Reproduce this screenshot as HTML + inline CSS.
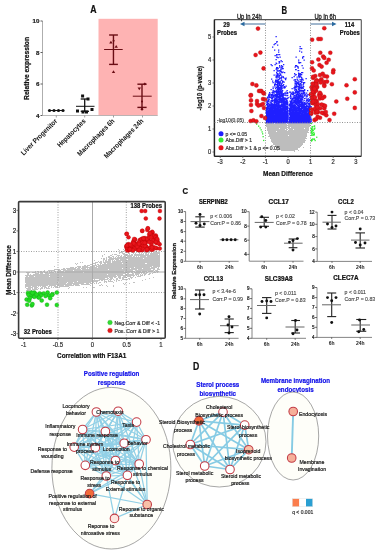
<!DOCTYPE html>
<html><head><meta charset="utf-8"><style>
html,body{margin:0;padding:0;background:#fff;}
svg{display:block;will-change:transform;}
text{font-family:"Liberation Sans", sans-serif;}
</style></head><body>
<svg width="380" height="550" viewBox="0 0 380 550">
<rect width="380" height="550" fill="#fff"/>
<text x="93.45" y="12.60" font-size="10.00" text-anchor="middle" font-weight="bold" fill="#111" stroke="#111" stroke-width="0.22" textLength="6.30" lengthAdjust="spacingAndGlyphs" >A</text>
<rect x="98.5" y="18.8" width="59.2" height="96.7" fill="#feb3b3"/>
<line x1="42.50" y1="21.00" x2="42.50" y2="115.50" stroke="#999" stroke-width="0.8" />
<line x1="40.50" y1="21.00" x2="42.50" y2="21.00" stroke="#333" stroke-width="0.8" />
<text x="39.50" y="23.23" font-size="6.20" text-anchor="end" font-weight="bold" fill="#222" stroke="#222" stroke-width="0.22" >10</text>
<line x1="40.50" y1="52.50" x2="42.50" y2="52.50" stroke="#333" stroke-width="0.8" />
<text x="39.50" y="54.73" font-size="6.20" text-anchor="end" font-weight="bold" fill="#222" stroke="#222" stroke-width="0.22" >8</text>
<line x1="40.50" y1="84.00" x2="42.50" y2="84.00" stroke="#333" stroke-width="0.8" />
<text x="39.50" y="86.23" font-size="6.20" text-anchor="end" font-weight="bold" fill="#222" stroke="#222" stroke-width="0.22" >6</text>
<line x1="40.50" y1="115.50" x2="42.50" y2="115.50" stroke="#333" stroke-width="0.8" />
<text x="39.50" y="117.73" font-size="6.20" text-anchor="end" font-weight="bold" fill="#222" stroke="#222" stroke-width="0.22" >4</text>
<text x="26.30" y="71.15" font-size="7.37" text-anchor="middle" font-weight="bold" fill="#111" stroke="#111" stroke-width="0.22" textLength="62.94" lengthAdjust="spacingAndGlyphs" transform="rotate(-90 26.3 68.5)">Relative expression</text>
<line x1="42.50" y1="115.50" x2="157.70" y2="115.50" stroke="#aaa" stroke-width="0.8" />
<line x1="56.30" y1="115.50" x2="56.30" y2="117.50" stroke="#888" stroke-width="0.8" />
<line x1="84.70" y1="115.50" x2="84.70" y2="117.50" stroke="#888" stroke-width="0.8" />
<line x1="113.50" y1="115.50" x2="113.50" y2="117.50" stroke="#888" stroke-width="0.8" />
<line x1="142.50" y1="115.50" x2="142.50" y2="117.50" stroke="#888" stroke-width="0.8" />
<text x="57.80" y="121.50" font-size="7.1" text-anchor="end" font-weight="bold" fill="#111" textLength="48.27" lengthAdjust="spacingAndGlyphs" transform="rotate(-45 57.80 121.50)">Liver Progenitor</text>
<text x="86.20" y="121.50" font-size="7.1" text-anchor="end" font-weight="bold" fill="#111" textLength="37.17" lengthAdjust="spacingAndGlyphs" transform="rotate(-45 86.20 121.50)">Hepatocytes</text>
<text x="115.00" y="121.50" font-size="7.1" text-anchor="end" font-weight="bold" fill="#111" textLength="49.32" lengthAdjust="spacingAndGlyphs" transform="rotate(-45 115.00 121.50)">Macrophages 6h</text>
<text x="144.00" y="121.50" font-size="7.1" text-anchor="end" font-weight="bold" fill="#111" textLength="52.80" lengthAdjust="spacingAndGlyphs" transform="rotate(-45 144.00 121.50)">Macrophages 24h</text>
<line x1="49.00" y1="110.50" x2="64.00" y2="110.50" stroke="#111" stroke-width="1" />
<circle cx="49.50" cy="110.50" r="1.6" fill="#111" stroke="none" stroke-width="0"/>
<circle cx="54.00" cy="110.50" r="1.6" fill="#111" stroke="none" stroke-width="0"/>
<circle cx="58.50" cy="110.50" r="1.6" fill="#111" stroke="none" stroke-width="0"/>
<circle cx="63.00" cy="110.50" r="1.6" fill="#111" stroke="none" stroke-width="0"/>
<line x1="76.00" y1="106.30" x2="94.50" y2="106.30" stroke="#111" stroke-width="1" />
<line x1="84.70" y1="99.00" x2="84.70" y2="111.30" stroke="#111" stroke-width="1.3" />
<line x1="80.70" y1="99.00" x2="89.00" y2="99.00" stroke="#111" stroke-width="1.3" />
<line x1="80.70" y1="111.30" x2="89.00" y2="111.30" stroke="#111" stroke-width="1.3" />
<rect x="81.10" y="94.50" width="3" height="3" fill="#111"/>
<rect x="86.50" y="97.50" width="3" height="3" fill="#111"/>
<rect x="76.00" y="109.50" width="3" height="3" fill="#111"/>
<rect x="90.50" y="108.00" width="3" height="3" fill="#111"/>
<rect x="81.50" y="110.50" width="3" height="3" fill="#111"/>
<rect x="85.00" y="110.50" width="3" height="3" fill="#111"/>
<line x1="113.45" y1="35.00" x2="113.45" y2="64.40" stroke="#6a0d14" stroke-width="1.4" />
<line x1="109.10" y1="35.00" x2="117.90" y2="35.00" stroke="#6a0d14" stroke-width="1.4" />
<line x1="109.10" y1="64.40" x2="117.90" y2="64.40" stroke="#6a0d14" stroke-width="1.4" />
<line x1="104.10" y1="49.50" x2="122.70" y2="49.50" stroke="#6a0d14" stroke-width="1.0" />
<path d="M109.20 43.49L112.60 43.49L110.90 40.77Z" fill="#6a0d14"/>
<path d="M114.50 47.69L117.90 47.69L116.20 44.97Z" fill="#6a0d14"/>
<path d="M111.80 72.99L115.20 72.99L113.50 70.27Z" fill="#6a0d14"/>
<circle cx="113.60" cy="40.80" r="1.0" fill="#6a0d14" stroke="none" stroke-width="0"/>
<line x1="142.00" y1="84.20" x2="142.00" y2="109.50" stroke="#6a0d14" stroke-width="1.4" />
<line x1="137.40" y1="84.20" x2="146.60" y2="84.20" stroke="#6a0d14" stroke-width="1.4" />
<line x1="137.40" y1="107.40" x2="146.60" y2="107.40" stroke="#6a0d14" stroke-width="1.4" />
<line x1="132.80" y1="96.20" x2="151.70" y2="96.20" stroke="#6a0d14" stroke-width="1.0" />
<path d="M137.60 87.41L141.00 87.41L139.30 90.13Z" fill="#6a0d14"/>
<path d="M144.8 82.4L146.3 83.9L144.8 85.4L143.3 83.9Z" fill="#6a0d14"/>
<circle cx="142.00" cy="101.50" r="1.0" fill="#6a0d14" stroke="none" stroke-width="0"/>
<circle cx="142.00" cy="109.30" r="1.2" fill="#6a0d14" stroke="none" stroke-width="0"/>
<text x="284.35" y="13.90" font-size="10.40" text-anchor="middle" font-weight="bold" fill="#111" stroke="#111" stroke-width="0.22" textLength="5.60" lengthAdjust="spacingAndGlyphs" >B</text>
<path d="M265 122h5v1h-5zM271 122h39v1h-39zM265 123h9v1h-9zM275 123h11v1h-11zM287 123h24v1h-24zM266 124h21v1h-21zM288 124h22v1h-22zM266 125h44v1h-44zM266 126h21v1h-21zM288 126h22v1h-22zM267 127h23v1h-23zM291 127h18v1h-18zM267 128h12v1h-12zM280 128h7v1h-7zM288 128h16v1h-16zM305 128h4v1h-4zM267 129h18v1h-18zM286 129h2v1h-2zM289 129h4v1h-4zM294 129h15v1h-15zM267 130h20v1h-20zM288 130h21v1h-21zM268 131h8v1h-8zM277 131h31v1h-31zM268 132h41v1h-41zM268 133h39v1h-39zM269 134h38v1h-38zM269 135h19v1h-19zM289 135h18v1h-18zM268 136h39v1h-39zM270 137h36v1h-36zM270 138h37v1h-37zM271 139h34v1h-34zM271 140h35v1h-35zM271 141h34v1h-34zM272 142h33v1h-33zM273 143h30v1h-30zM273 144h30v1h-30zM271 145h2v1h-2zM275 145h27v1h-27zM273 146h1v1h-1zM275 146h26v1h-26zM276 147h24v1h-24zM303 147h1v1h-1zM277 148h21v1h-21zM276 149h1v1h-1zM279 149h19v1h-19zM277 150h1v1h-1zM281 150h14v1h-14zM298 150h1v1h-1zM274 151h1v1h-1zM294 151h1v1h-1z" fill="#bdbdbd"/>
<path d="" fill="#1f1fff"/>
<path d="M265.5 107h1.3v1.3h-1.3zM265.5 110.5h1.3v1.3h-1.3zM265.5 112h1.3v1.3h-1.3zM265.5 112.5h1.3v1.3h-1.3zM265.5 115.5h1.3v1.3h-1.3zM265.5 116h1.3v1.3h-1.3zM265.5 117h1.3v1.3h-1.3zM265.5 117.5h1.3v1.3h-1.3zM265.5 118h1.3v1.3h-1.3zM265.5 118.5h1.3v1.3h-1.3zM265.5 119h1.3v1.3h-1.3zM265.5 120h1.3v1.3h-1.3zM266 101.5h1.3v1.3h-1.3zM266 104h1.3v1.3h-1.3zM266 107h1.3v1.3h-1.3zM266 107.5h1.3v1.3h-1.3zM266 108h1.3v1.3h-1.3zM266 108.5h1.3v1.3h-1.3zM266 109h1.3v1.3h-1.3zM266 109.5h1.3v1.3h-1.3zM266 111h1.3v1.3h-1.3zM266 112.5h1.3v1.3h-1.3zM266 113.5h1.3v1.3h-1.3zM266 114h1.3v1.3h-1.3zM266 115h1.3v1.3h-1.3zM266 116h1.3v1.3h-1.3zM266 116.5h1.3v1.3h-1.3zM266 117.5h1.3v1.3h-1.3zM266 118h1.3v1.3h-1.3zM266 119h1.3v1.3h-1.3zM266 119.5h1.3v1.3h-1.3zM266 120h1.3v1.3h-1.3zM266 120.5h1.3v1.3h-1.3zM266 121h1.3v1.3h-1.3zM266 121.5h1.3v1.3h-1.3zM266 122h1.3v1.3h-1.3zM266.5 97.5h1.3v1.3h-1.3zM266.5 99.5h1.3v1.3h-1.3zM266.5 101h1.3v1.3h-1.3zM266.5 103h1.3v1.3h-1.3zM266.5 103.5h1.3v1.3h-1.3zM266.5 104h1.3v1.3h-1.3zM266.5 104.5h1.3v1.3h-1.3zM266.5 106.5h1.3v1.3h-1.3zM266.5 108h1.3v1.3h-1.3zM266.5 110.5h1.3v1.3h-1.3zM266.5 111h1.3v1.3h-1.3zM266.5 112h1.3v1.3h-1.3zM266.5 112.5h1.3v1.3h-1.3zM266.5 113h1.3v1.3h-1.3zM266.5 113.5h1.3v1.3h-1.3zM266.5 114h1.3v1.3h-1.3zM266.5 114.5h1.3v1.3h-1.3zM266.5 115h1.3v1.3h-1.3zM266.5 115.5h1.3v1.3h-1.3zM266.5 116h1.3v1.3h-1.3zM266.5 117h1.3v1.3h-1.3zM266.5 118h1.3v1.3h-1.3zM266.5 118.5h1.3v1.3h-1.3zM266.5 119h1.3v1.3h-1.3zM266.5 119.5h1.3v1.3h-1.3zM266.5 120h1.3v1.3h-1.3zM266.5 120.5h1.3v1.3h-1.3zM266.5 121h1.3v1.3h-1.3zM266.5 121.5h1.3v1.3h-1.3zM266.5 122h1.3v1.3h-1.3zM267 96.5h1.3v1.3h-1.3zM267 97.5h1.3v1.3h-1.3zM267 102h1.3v1.3h-1.3zM267 102.5h1.3v1.3h-1.3zM267 103h1.3v1.3h-1.3zM267 104h1.3v1.3h-1.3zM267 105h1.3v1.3h-1.3zM267 106h1.3v1.3h-1.3zM267 106.5h1.3v1.3h-1.3zM267 107h1.3v1.3h-1.3zM267 108h1.3v1.3h-1.3zM267 109h1.3v1.3h-1.3zM267 111h1.3v1.3h-1.3zM267 112h1.3v1.3h-1.3zM267 112.5h1.3v1.3h-1.3zM267 114h1.3v1.3h-1.3zM267 114.5h1.3v1.3h-1.3zM267 115h1.3v1.3h-1.3zM267 115.5h1.3v1.3h-1.3zM267 116h1.3v1.3h-1.3zM267 116.5h1.3v1.3h-1.3zM267 117.5h1.3v1.3h-1.3zM267 118h1.3v1.3h-1.3zM267 118.5h1.3v1.3h-1.3zM267 119h1.3v1.3h-1.3zM267 120h1.3v1.3h-1.3zM267 120.5h1.3v1.3h-1.3zM267 121h1.3v1.3h-1.3zM267 122h1.3v1.3h-1.3zM267.5 100.5h1.3v1.3h-1.3zM267.5 105.5h1.3v1.3h-1.3zM267.5 106h1.3v1.3h-1.3zM267.5 106.5h1.3v1.3h-1.3zM267.5 108h1.3v1.3h-1.3zM267.5 109.5h1.3v1.3h-1.3zM267.5 112h1.3v1.3h-1.3zM267.5 112.5h1.3v1.3h-1.3zM267.5 113h1.3v1.3h-1.3zM267.5 113.5h1.3v1.3h-1.3zM267.5 114h1.3v1.3h-1.3zM267.5 114.5h1.3v1.3h-1.3zM267.5 115h1.3v1.3h-1.3zM267.5 115.5h1.3v1.3h-1.3zM267.5 116h1.3v1.3h-1.3zM267.5 116.5h1.3v1.3h-1.3zM267.5 117h1.3v1.3h-1.3zM267.5 118h1.3v1.3h-1.3zM267.5 118.5h1.3v1.3h-1.3zM267.5 119h1.3v1.3h-1.3zM267.5 119.5h1.3v1.3h-1.3zM267.5 120h1.3v1.3h-1.3zM267.5 121.5h1.3v1.3h-1.3zM267.5 122h1.3v1.3h-1.3zM268 94.5h1.3v1.3h-1.3zM268 95h1.3v1.3h-1.3zM268 96.5h1.3v1.3h-1.3zM268 98.5h1.3v1.3h-1.3zM268 100h1.3v1.3h-1.3zM268 100.5h1.3v1.3h-1.3zM268 101h1.3v1.3h-1.3zM268 103h1.3v1.3h-1.3zM268 106.5h1.3v1.3h-1.3zM268 108h1.3v1.3h-1.3zM268 110h1.3v1.3h-1.3zM268 110.5h1.3v1.3h-1.3zM268 111h1.3v1.3h-1.3zM268 111.5h1.3v1.3h-1.3zM268 112.5h1.3v1.3h-1.3zM268 113h1.3v1.3h-1.3zM268 114.5h1.3v1.3h-1.3zM268 115h1.3v1.3h-1.3zM268 115.5h1.3v1.3h-1.3zM268 116h1.3v1.3h-1.3zM268 117h1.3v1.3h-1.3zM268 117.5h1.3v1.3h-1.3zM268 118h1.3v1.3h-1.3zM268 118.5h1.3v1.3h-1.3zM268 119h1.3v1.3h-1.3zM268 119.5h1.3v1.3h-1.3zM268 120.5h1.3v1.3h-1.3zM268 121h1.3v1.3h-1.3zM268 121.5h1.3v1.3h-1.3zM268 122h1.3v1.3h-1.3zM268.5 93.5h1.3v1.3h-1.3zM268.5 94h1.3v1.3h-1.3zM268.5 95.5h1.3v1.3h-1.3zM268.5 96.5h1.3v1.3h-1.3zM268.5 99h1.3v1.3h-1.3zM268.5 104h1.3v1.3h-1.3zM268.5 104.5h1.3v1.3h-1.3zM268.5 105.5h1.3v1.3h-1.3zM268.5 107.5h1.3v1.3h-1.3zM268.5 108.5h1.3v1.3h-1.3zM268.5 110.5h1.3v1.3h-1.3zM268.5 111.5h1.3v1.3h-1.3zM268.5 113h1.3v1.3h-1.3zM268.5 113.5h1.3v1.3h-1.3zM268.5 114h1.3v1.3h-1.3zM268.5 114.5h1.3v1.3h-1.3zM268.5 115h1.3v1.3h-1.3zM268.5 115.5h1.3v1.3h-1.3zM268.5 116h1.3v1.3h-1.3zM268.5 116.5h1.3v1.3h-1.3zM268.5 117h1.3v1.3h-1.3zM268.5 117.5h1.3v1.3h-1.3zM268.5 118h1.3v1.3h-1.3zM268.5 118.5h1.3v1.3h-1.3zM268.5 119h1.3v1.3h-1.3zM268.5 119.5h1.3v1.3h-1.3zM268.5 120h1.3v1.3h-1.3zM268.5 120.5h1.3v1.3h-1.3zM268.5 121h1.3v1.3h-1.3zM268.5 121.5h1.3v1.3h-1.3zM268.5 122h1.3v1.3h-1.3zM269 92h1.3v1.3h-1.3zM269 94h1.3v1.3h-1.3zM269 95.5h1.3v1.3h-1.3zM269 97h1.3v1.3h-1.3zM269 104h1.3v1.3h-1.3zM269 105h1.3v1.3h-1.3zM269 105.5h1.3v1.3h-1.3zM269 109h1.3v1.3h-1.3zM269 109.5h1.3v1.3h-1.3zM269 111h1.3v1.3h-1.3zM269 112h1.3v1.3h-1.3zM269 112.5h1.3v1.3h-1.3zM269 114h1.3v1.3h-1.3zM269 114.5h1.3v1.3h-1.3zM269 115h1.3v1.3h-1.3zM269 115.5h1.3v1.3h-1.3zM269 116h1.3v1.3h-1.3zM269 116.5h1.3v1.3h-1.3zM269 117h1.3v1.3h-1.3zM269 117.5h1.3v1.3h-1.3zM269 118.5h1.3v1.3h-1.3zM269 119h1.3v1.3h-1.3zM269 120.5h1.3v1.3h-1.3zM269 121h1.3v1.3h-1.3zM269 122h1.3v1.3h-1.3zM269.5 93.5h1.3v1.3h-1.3zM269.5 94.5h1.3v1.3h-1.3zM269.5 101.5h1.3v1.3h-1.3zM269.5 103.5h1.3v1.3h-1.3zM269.5 106.5h1.3v1.3h-1.3zM269.5 107h1.3v1.3h-1.3zM269.5 107.5h1.3v1.3h-1.3zM269.5 108h1.3v1.3h-1.3zM269.5 109h1.3v1.3h-1.3zM269.5 109.5h1.3v1.3h-1.3zM269.5 110h1.3v1.3h-1.3zM269.5 110.5h1.3v1.3h-1.3zM269.5 111.5h1.3v1.3h-1.3zM269.5 112.5h1.3v1.3h-1.3zM269.5 113h1.3v1.3h-1.3zM269.5 113.5h1.3v1.3h-1.3zM269.5 114.5h1.3v1.3h-1.3zM269.5 115.5h1.3v1.3h-1.3zM269.5 116h1.3v1.3h-1.3zM269.5 116.5h1.3v1.3h-1.3zM269.5 117.5h1.3v1.3h-1.3zM269.5 118h1.3v1.3h-1.3zM269.5 118.5h1.3v1.3h-1.3zM269.5 119h1.3v1.3h-1.3zM269.5 119.5h1.3v1.3h-1.3zM269.5 120.5h1.3v1.3h-1.3zM269.5 121h1.3v1.3h-1.3zM269.5 122h1.3v1.3h-1.3zM270 96.5h1.3v1.3h-1.3zM270 101.5h1.3v1.3h-1.3zM270 103.5h1.3v1.3h-1.3zM270 105h1.3v1.3h-1.3zM270 106.5h1.3v1.3h-1.3zM270 107.5h1.3v1.3h-1.3zM270 108h1.3v1.3h-1.3zM270 108.5h1.3v1.3h-1.3zM270 109h1.3v1.3h-1.3zM270 109.5h1.3v1.3h-1.3zM270 110.5h1.3v1.3h-1.3zM270 111h1.3v1.3h-1.3zM270 112.5h1.3v1.3h-1.3zM270 113h1.3v1.3h-1.3zM270 113.5h1.3v1.3h-1.3zM270 114.5h1.3v1.3h-1.3zM270 115h1.3v1.3h-1.3zM270 115.5h1.3v1.3h-1.3zM270 117h1.3v1.3h-1.3zM270 117.5h1.3v1.3h-1.3zM270 118h1.3v1.3h-1.3zM270 118.5h1.3v1.3h-1.3zM270 119.5h1.3v1.3h-1.3zM270 120h1.3v1.3h-1.3zM270 121h1.3v1.3h-1.3zM270 121.5h1.3v1.3h-1.3zM270 122h1.3v1.3h-1.3zM270.5 64h1.3v1.3h-1.3zM270.5 89h1.3v1.3h-1.3zM270.5 96.5h1.3v1.3h-1.3zM270.5 97h1.3v1.3h-1.3zM270.5 100h1.3v1.3h-1.3zM270.5 101.5h1.3v1.3h-1.3zM270.5 102h1.3v1.3h-1.3zM270.5 102.5h1.3v1.3h-1.3zM270.5 103h1.3v1.3h-1.3zM270.5 104.5h1.3v1.3h-1.3zM270.5 105.5h1.3v1.3h-1.3zM270.5 106h1.3v1.3h-1.3zM270.5 108.5h1.3v1.3h-1.3zM270.5 110h1.3v1.3h-1.3zM270.5 111h1.3v1.3h-1.3zM270.5 112h1.3v1.3h-1.3zM270.5 113.5h1.3v1.3h-1.3zM270.5 114.5h1.3v1.3h-1.3zM270.5 115h1.3v1.3h-1.3zM270.5 115.5h1.3v1.3h-1.3zM270.5 116h1.3v1.3h-1.3zM270.5 116.5h1.3v1.3h-1.3zM270.5 117h1.3v1.3h-1.3zM270.5 117.5h1.3v1.3h-1.3zM270.5 118h1.3v1.3h-1.3zM270.5 119.5h1.3v1.3h-1.3zM270.5 120h1.3v1.3h-1.3zM270.5 120.5h1.3v1.3h-1.3zM270.5 121h1.3v1.3h-1.3zM270.5 121.5h1.3v1.3h-1.3zM271 78.5h1.3v1.3h-1.3zM271 94h1.3v1.3h-1.3zM271 95h1.3v1.3h-1.3zM271 98h1.3v1.3h-1.3zM271 103h1.3v1.3h-1.3zM271 104h1.3v1.3h-1.3zM271 105h1.3v1.3h-1.3zM271 106h1.3v1.3h-1.3zM271 107h1.3v1.3h-1.3zM271 107.5h1.3v1.3h-1.3zM271 108h1.3v1.3h-1.3zM271 108.5h1.3v1.3h-1.3zM271 109h1.3v1.3h-1.3zM271 110h1.3v1.3h-1.3zM271 111.5h1.3v1.3h-1.3zM271 112h1.3v1.3h-1.3zM271 112.5h1.3v1.3h-1.3zM271 113h1.3v1.3h-1.3zM271 113.5h1.3v1.3h-1.3zM271 114h1.3v1.3h-1.3zM271 114.5h1.3v1.3h-1.3zM271 115.5h1.3v1.3h-1.3zM271 116h1.3v1.3h-1.3zM271 116.5h1.3v1.3h-1.3zM271 117h1.3v1.3h-1.3zM271 117.5h1.3v1.3h-1.3zM271 118.5h1.3v1.3h-1.3zM271 119h1.3v1.3h-1.3zM271 119.5h1.3v1.3h-1.3zM271 120h1.3v1.3h-1.3zM271 120.5h1.3v1.3h-1.3zM271 121h1.3v1.3h-1.3zM271 121.5h1.3v1.3h-1.3zM271 122h1.3v1.3h-1.3zM271.5 65h1.3v1.3h-1.3zM271.5 92h1.3v1.3h-1.3zM271.5 96h1.3v1.3h-1.3zM271.5 98h1.3v1.3h-1.3zM271.5 99.5h1.3v1.3h-1.3zM271.5 100h1.3v1.3h-1.3zM271.5 101h1.3v1.3h-1.3zM271.5 103h1.3v1.3h-1.3zM271.5 105h1.3v1.3h-1.3zM271.5 105.5h1.3v1.3h-1.3zM271.5 106h1.3v1.3h-1.3zM271.5 106.5h1.3v1.3h-1.3zM271.5 107h1.3v1.3h-1.3zM271.5 107.5h1.3v1.3h-1.3zM271.5 108.5h1.3v1.3h-1.3zM271.5 109h1.3v1.3h-1.3zM271.5 109.5h1.3v1.3h-1.3zM271.5 110.5h1.3v1.3h-1.3zM271.5 111h1.3v1.3h-1.3zM271.5 111.5h1.3v1.3h-1.3zM271.5 112.5h1.3v1.3h-1.3zM271.5 113.5h1.3v1.3h-1.3zM271.5 114h1.3v1.3h-1.3zM271.5 114.5h1.3v1.3h-1.3zM271.5 115h1.3v1.3h-1.3zM271.5 115.5h1.3v1.3h-1.3zM271.5 116h1.3v1.3h-1.3zM271.5 116.5h1.3v1.3h-1.3zM271.5 117h1.3v1.3h-1.3zM271.5 117.5h1.3v1.3h-1.3zM271.5 118h1.3v1.3h-1.3zM271.5 118.5h1.3v1.3h-1.3zM271.5 119h1.3v1.3h-1.3zM271.5 119.5h1.3v1.3h-1.3zM271.5 120h1.3v1.3h-1.3zM271.5 120.5h1.3v1.3h-1.3zM271.5 121h1.3v1.3h-1.3zM271.5 121.5h1.3v1.3h-1.3zM271.5 122h1.3v1.3h-1.3zM272 46.5h1.3v1.3h-1.3zM272 80.5h1.3v1.3h-1.3zM272 91.5h1.3v1.3h-1.3zM272 92h1.3v1.3h-1.3zM272 93.5h1.3v1.3h-1.3zM272 94.5h1.3v1.3h-1.3zM272 97h1.3v1.3h-1.3zM272 97.5h1.3v1.3h-1.3zM272 100.5h1.3v1.3h-1.3zM272 104h1.3v1.3h-1.3zM272 105h1.3v1.3h-1.3zM272 105.5h1.3v1.3h-1.3zM272 106h1.3v1.3h-1.3zM272 108.5h1.3v1.3h-1.3zM272 109.5h1.3v1.3h-1.3zM272 110h1.3v1.3h-1.3zM272 111h1.3v1.3h-1.3zM272 112h1.3v1.3h-1.3zM272 112.5h1.3v1.3h-1.3zM272 113.5h1.3v1.3h-1.3zM272 115h1.3v1.3h-1.3zM272 115.5h1.3v1.3h-1.3zM272 116h1.3v1.3h-1.3zM272 116.5h1.3v1.3h-1.3zM272 117h1.3v1.3h-1.3zM272 117.5h1.3v1.3h-1.3zM272 118h1.3v1.3h-1.3zM272 118.5h1.3v1.3h-1.3zM272 119h1.3v1.3h-1.3zM272 119.5h1.3v1.3h-1.3zM272 120h1.3v1.3h-1.3zM272 120.5h1.3v1.3h-1.3zM272 121h1.3v1.3h-1.3zM272 121.5h1.3v1.3h-1.3zM272.5 82h1.3v1.3h-1.3zM272.5 86.5h1.3v1.3h-1.3zM272.5 88h1.3v1.3h-1.3zM272.5 90h1.3v1.3h-1.3zM272.5 94.5h1.3v1.3h-1.3zM272.5 95h1.3v1.3h-1.3zM272.5 99.5h1.3v1.3h-1.3zM272.5 106.5h1.3v1.3h-1.3zM272.5 107h1.3v1.3h-1.3zM272.5 107.5h1.3v1.3h-1.3zM272.5 108h1.3v1.3h-1.3zM272.5 109h1.3v1.3h-1.3zM272.5 109.5h1.3v1.3h-1.3zM272.5 110.5h1.3v1.3h-1.3zM272.5 111h1.3v1.3h-1.3zM272.5 113h1.3v1.3h-1.3zM272.5 113.5h1.3v1.3h-1.3zM272.5 114.5h1.3v1.3h-1.3zM272.5 115.5h1.3v1.3h-1.3zM272.5 116.5h1.3v1.3h-1.3zM272.5 117.5h1.3v1.3h-1.3zM272.5 118h1.3v1.3h-1.3zM272.5 118.5h1.3v1.3h-1.3zM272.5 119h1.3v1.3h-1.3zM272.5 119.5h1.3v1.3h-1.3zM272.5 120h1.3v1.3h-1.3zM272.5 120.5h1.3v1.3h-1.3zM272.5 121.5h1.3v1.3h-1.3zM273 91.5h1.3v1.3h-1.3zM273 94.5h1.3v1.3h-1.3zM273 95h1.3v1.3h-1.3zM273 95.5h1.3v1.3h-1.3zM273 96.5h1.3v1.3h-1.3zM273 104h1.3v1.3h-1.3zM273 104.5h1.3v1.3h-1.3zM273 105h1.3v1.3h-1.3zM273 105.5h1.3v1.3h-1.3zM273 108h1.3v1.3h-1.3zM273 109.5h1.3v1.3h-1.3zM273 110.5h1.3v1.3h-1.3zM273 111h1.3v1.3h-1.3zM273 111.5h1.3v1.3h-1.3zM273 112.5h1.3v1.3h-1.3zM273 113.5h1.3v1.3h-1.3zM273 114h1.3v1.3h-1.3zM273 114.5h1.3v1.3h-1.3zM273 115h1.3v1.3h-1.3zM273 115.5h1.3v1.3h-1.3zM273 116.5h1.3v1.3h-1.3zM273 117.5h1.3v1.3h-1.3zM273 118.5h1.3v1.3h-1.3zM273 119h1.3v1.3h-1.3zM273 119.5h1.3v1.3h-1.3zM273 120h1.3v1.3h-1.3zM273 121h1.3v1.3h-1.3zM273 121.5h1.3v1.3h-1.3zM273 122h1.3v1.3h-1.3zM273.5 44h1.3v1.3h-1.3zM273.5 70h1.3v1.3h-1.3zM273.5 74.5h1.3v1.3h-1.3zM273.5 90.5h1.3v1.3h-1.3zM273.5 91h1.3v1.3h-1.3zM273.5 92.5h1.3v1.3h-1.3zM273.5 95h1.3v1.3h-1.3zM273.5 96.5h1.3v1.3h-1.3zM273.5 99.5h1.3v1.3h-1.3zM273.5 100h1.3v1.3h-1.3zM273.5 101.5h1.3v1.3h-1.3zM273.5 102.5h1.3v1.3h-1.3zM273.5 103h1.3v1.3h-1.3zM273.5 104h1.3v1.3h-1.3zM273.5 105h1.3v1.3h-1.3zM273.5 105.5h1.3v1.3h-1.3zM273.5 106.5h1.3v1.3h-1.3zM273.5 107h1.3v1.3h-1.3zM273.5 108h1.3v1.3h-1.3zM273.5 109.5h1.3v1.3h-1.3zM273.5 110h1.3v1.3h-1.3zM273.5 110.5h1.3v1.3h-1.3zM273.5 111h1.3v1.3h-1.3zM273.5 111.5h1.3v1.3h-1.3zM273.5 112h1.3v1.3h-1.3zM273.5 112.5h1.3v1.3h-1.3zM273.5 113h1.3v1.3h-1.3zM273.5 114.5h1.3v1.3h-1.3zM273.5 115h1.3v1.3h-1.3zM273.5 115.5h1.3v1.3h-1.3zM273.5 118h1.3v1.3h-1.3zM273.5 118.5h1.3v1.3h-1.3zM273.5 119h1.3v1.3h-1.3zM273.5 119.5h1.3v1.3h-1.3zM273.5 120.5h1.3v1.3h-1.3zM273.5 121h1.3v1.3h-1.3zM273.5 121.5h1.3v1.3h-1.3zM273.5 122h1.3v1.3h-1.3zM274 49.5h1.3v1.3h-1.3zM274 84h1.3v1.3h-1.3zM274 85h1.3v1.3h-1.3zM274 91h1.3v1.3h-1.3zM274 94.5h1.3v1.3h-1.3zM274 95h1.3v1.3h-1.3zM274 96.5h1.3v1.3h-1.3zM274 98.5h1.3v1.3h-1.3zM274 99.5h1.3v1.3h-1.3zM274 100.5h1.3v1.3h-1.3zM274 101h1.3v1.3h-1.3zM274 102h1.3v1.3h-1.3zM274 102.5h1.3v1.3h-1.3zM274 104.5h1.3v1.3h-1.3zM274 106h1.3v1.3h-1.3zM274 106.5h1.3v1.3h-1.3zM274 107h1.3v1.3h-1.3zM274 107.5h1.3v1.3h-1.3zM274 108h1.3v1.3h-1.3zM274 109h1.3v1.3h-1.3zM274 110.5h1.3v1.3h-1.3zM274 111.5h1.3v1.3h-1.3zM274 112h1.3v1.3h-1.3zM274 112.5h1.3v1.3h-1.3zM274 113h1.3v1.3h-1.3zM274 113.5h1.3v1.3h-1.3zM274 115h1.3v1.3h-1.3zM274 115.5h1.3v1.3h-1.3zM274 116h1.3v1.3h-1.3zM274 116.5h1.3v1.3h-1.3zM274 117h1.3v1.3h-1.3zM274 117.5h1.3v1.3h-1.3zM274 118h1.3v1.3h-1.3zM274 118.5h1.3v1.3h-1.3zM274 119h1.3v1.3h-1.3zM274 119.5h1.3v1.3h-1.3zM274 120h1.3v1.3h-1.3zM274 120.5h1.3v1.3h-1.3zM274 121h1.3v1.3h-1.3zM274 121.5h1.3v1.3h-1.3zM274 122h1.3v1.3h-1.3zM274.5 43h1.3v1.3h-1.3zM274.5 55h1.3v1.3h-1.3zM274.5 64h1.3v1.3h-1.3zM274.5 81.5h1.3v1.3h-1.3zM274.5 83h1.3v1.3h-1.3zM274.5 86.5h1.3v1.3h-1.3zM274.5 91h1.3v1.3h-1.3zM274.5 94h1.3v1.3h-1.3zM274.5 95h1.3v1.3h-1.3zM274.5 98h1.3v1.3h-1.3zM274.5 98.5h1.3v1.3h-1.3zM274.5 100h1.3v1.3h-1.3zM274.5 101h1.3v1.3h-1.3zM274.5 101.5h1.3v1.3h-1.3zM274.5 102.5h1.3v1.3h-1.3zM274.5 104h1.3v1.3h-1.3zM274.5 105h1.3v1.3h-1.3zM274.5 105.5h1.3v1.3h-1.3zM274.5 106h1.3v1.3h-1.3zM274.5 107h1.3v1.3h-1.3zM274.5 107.5h1.3v1.3h-1.3zM274.5 108h1.3v1.3h-1.3zM274.5 109h1.3v1.3h-1.3zM274.5 110h1.3v1.3h-1.3zM274.5 110.5h1.3v1.3h-1.3zM274.5 111.5h1.3v1.3h-1.3zM274.5 112.5h1.3v1.3h-1.3zM274.5 113.5h1.3v1.3h-1.3zM274.5 115h1.3v1.3h-1.3zM274.5 116h1.3v1.3h-1.3zM274.5 116.5h1.3v1.3h-1.3zM274.5 117h1.3v1.3h-1.3zM274.5 117.5h1.3v1.3h-1.3zM274.5 118h1.3v1.3h-1.3zM274.5 118.5h1.3v1.3h-1.3zM274.5 119h1.3v1.3h-1.3zM274.5 119.5h1.3v1.3h-1.3zM274.5 120.5h1.3v1.3h-1.3zM274.5 121h1.3v1.3h-1.3zM274.5 121.5h1.3v1.3h-1.3zM274.5 122h1.3v1.3h-1.3zM275 43h1.3v1.3h-1.3zM275 79.5h1.3v1.3h-1.3zM275 80.5h1.3v1.3h-1.3zM275 84h1.3v1.3h-1.3zM275 88h1.3v1.3h-1.3zM275 94h1.3v1.3h-1.3zM275 95.5h1.3v1.3h-1.3zM275 98h1.3v1.3h-1.3zM275 99h1.3v1.3h-1.3zM275 100.5h1.3v1.3h-1.3zM275 102h1.3v1.3h-1.3zM275 105.5h1.3v1.3h-1.3zM275 107h1.3v1.3h-1.3zM275 108h1.3v1.3h-1.3zM275 108.5h1.3v1.3h-1.3zM275 109h1.3v1.3h-1.3zM275 109.5h1.3v1.3h-1.3zM275 111h1.3v1.3h-1.3zM275 111.5h1.3v1.3h-1.3zM275 112.5h1.3v1.3h-1.3zM275 113h1.3v1.3h-1.3zM275 114h1.3v1.3h-1.3zM275 115h1.3v1.3h-1.3zM275 115.5h1.3v1.3h-1.3zM275 116h1.3v1.3h-1.3zM275 117h1.3v1.3h-1.3zM275 117.5h1.3v1.3h-1.3zM275 118.5h1.3v1.3h-1.3zM275 119h1.3v1.3h-1.3zM275 119.5h1.3v1.3h-1.3zM275 120h1.3v1.3h-1.3zM275 120.5h1.3v1.3h-1.3zM275 121h1.3v1.3h-1.3zM275 122h1.3v1.3h-1.3zM275.5 36h1.3v1.3h-1.3zM275.5 59h1.3v1.3h-1.3zM275.5 62.5h1.3v1.3h-1.3zM275.5 68.5h1.3v1.3h-1.3zM275.5 74.5h1.3v1.3h-1.3zM275.5 76h1.3v1.3h-1.3zM275.5 77h1.3v1.3h-1.3zM275.5 81.5h1.3v1.3h-1.3zM275.5 90h1.3v1.3h-1.3zM275.5 91h1.3v1.3h-1.3zM275.5 92h1.3v1.3h-1.3zM275.5 94.5h1.3v1.3h-1.3zM275.5 96h1.3v1.3h-1.3zM275.5 96.5h1.3v1.3h-1.3zM275.5 97.5h1.3v1.3h-1.3zM275.5 99.5h1.3v1.3h-1.3zM275.5 100h1.3v1.3h-1.3zM275.5 101h1.3v1.3h-1.3zM275.5 101.5h1.3v1.3h-1.3zM275.5 102h1.3v1.3h-1.3zM275.5 102.5h1.3v1.3h-1.3zM275.5 104h1.3v1.3h-1.3zM275.5 104.5h1.3v1.3h-1.3zM275.5 105.5h1.3v1.3h-1.3zM275.5 106h1.3v1.3h-1.3zM275.5 107.5h1.3v1.3h-1.3zM275.5 108h1.3v1.3h-1.3zM275.5 108.5h1.3v1.3h-1.3zM275.5 109h1.3v1.3h-1.3zM275.5 109.5h1.3v1.3h-1.3zM275.5 110h1.3v1.3h-1.3zM275.5 110.5h1.3v1.3h-1.3zM275.5 111.5h1.3v1.3h-1.3zM275.5 112h1.3v1.3h-1.3zM275.5 112.5h1.3v1.3h-1.3zM275.5 113h1.3v1.3h-1.3zM275.5 114h1.3v1.3h-1.3zM275.5 114.5h1.3v1.3h-1.3zM275.5 115.5h1.3v1.3h-1.3zM275.5 116h1.3v1.3h-1.3zM275.5 116.5h1.3v1.3h-1.3zM275.5 117.5h1.3v1.3h-1.3zM275.5 118h1.3v1.3h-1.3zM275.5 118.5h1.3v1.3h-1.3zM275.5 119h1.3v1.3h-1.3zM275.5 119.5h1.3v1.3h-1.3zM275.5 120h1.3v1.3h-1.3zM275.5 120.5h1.3v1.3h-1.3zM275.5 121h1.3v1.3h-1.3zM275.5 121.5h1.3v1.3h-1.3zM275.5 122h1.3v1.3h-1.3zM276 41.5h1.3v1.3h-1.3zM276 54h1.3v1.3h-1.3zM276 54.5h1.3v1.3h-1.3zM276 56.5h1.3v1.3h-1.3zM276 63h1.3v1.3h-1.3zM276 67h1.3v1.3h-1.3zM276 68h1.3v1.3h-1.3zM276 72h1.3v1.3h-1.3zM276 75.5h1.3v1.3h-1.3zM276 80h1.3v1.3h-1.3zM276 80.5h1.3v1.3h-1.3zM276 84h1.3v1.3h-1.3zM276 87h1.3v1.3h-1.3zM276 90h1.3v1.3h-1.3zM276 90.5h1.3v1.3h-1.3zM276 91.5h1.3v1.3h-1.3zM276 93.5h1.3v1.3h-1.3zM276 95.5h1.3v1.3h-1.3zM276 96h1.3v1.3h-1.3zM276 96.5h1.3v1.3h-1.3zM276 99h1.3v1.3h-1.3zM276 100h1.3v1.3h-1.3zM276 101h1.3v1.3h-1.3zM276 101.5h1.3v1.3h-1.3zM276 102h1.3v1.3h-1.3zM276 102.5h1.3v1.3h-1.3zM276 103.5h1.3v1.3h-1.3zM276 104.5h1.3v1.3h-1.3zM276 105h1.3v1.3h-1.3zM276 107.5h1.3v1.3h-1.3zM276 109h1.3v1.3h-1.3zM276 110.5h1.3v1.3h-1.3zM276 112h1.3v1.3h-1.3zM276 113h1.3v1.3h-1.3zM276 113.5h1.3v1.3h-1.3zM276 114.5h1.3v1.3h-1.3zM276 115h1.3v1.3h-1.3zM276 115.5h1.3v1.3h-1.3zM276 116h1.3v1.3h-1.3zM276 117h1.3v1.3h-1.3zM276 117.5h1.3v1.3h-1.3zM276 118h1.3v1.3h-1.3zM276 118.5h1.3v1.3h-1.3zM276 119h1.3v1.3h-1.3zM276 119.5h1.3v1.3h-1.3zM276 120h1.3v1.3h-1.3zM276 121h1.3v1.3h-1.3zM276 121.5h1.3v1.3h-1.3zM276 122h1.3v1.3h-1.3zM276.5 41h1.3v1.3h-1.3zM276.5 56.5h1.3v1.3h-1.3zM276.5 69.5h1.3v1.3h-1.3zM276.5 70.5h1.3v1.3h-1.3zM276.5 73h1.3v1.3h-1.3zM276.5 76h1.3v1.3h-1.3zM276.5 76.5h1.3v1.3h-1.3zM276.5 78.5h1.3v1.3h-1.3zM276.5 80h1.3v1.3h-1.3zM276.5 80.5h1.3v1.3h-1.3zM276.5 82h1.3v1.3h-1.3zM276.5 84.5h1.3v1.3h-1.3zM276.5 86h1.3v1.3h-1.3zM276.5 86.5h1.3v1.3h-1.3zM276.5 89h1.3v1.3h-1.3zM276.5 91.5h1.3v1.3h-1.3zM276.5 92.5h1.3v1.3h-1.3zM276.5 93h1.3v1.3h-1.3zM276.5 93.5h1.3v1.3h-1.3zM276.5 94.5h1.3v1.3h-1.3zM276.5 96.5h1.3v1.3h-1.3zM276.5 97h1.3v1.3h-1.3zM276.5 97.5h1.3v1.3h-1.3zM276.5 98.5h1.3v1.3h-1.3zM276.5 99h1.3v1.3h-1.3zM276.5 100h1.3v1.3h-1.3zM276.5 101h1.3v1.3h-1.3zM276.5 101.5h1.3v1.3h-1.3zM276.5 104.5h1.3v1.3h-1.3zM276.5 106h1.3v1.3h-1.3zM276.5 106.5h1.3v1.3h-1.3zM276.5 107h1.3v1.3h-1.3zM276.5 107.5h1.3v1.3h-1.3zM276.5 108h1.3v1.3h-1.3zM276.5 108.5h1.3v1.3h-1.3zM276.5 109h1.3v1.3h-1.3zM276.5 109.5h1.3v1.3h-1.3zM276.5 110h1.3v1.3h-1.3zM276.5 110.5h1.3v1.3h-1.3zM276.5 111h1.3v1.3h-1.3zM276.5 111.5h1.3v1.3h-1.3zM276.5 112h1.3v1.3h-1.3zM276.5 112.5h1.3v1.3h-1.3zM276.5 113.5h1.3v1.3h-1.3zM276.5 114h1.3v1.3h-1.3zM276.5 114.5h1.3v1.3h-1.3zM276.5 115.5h1.3v1.3h-1.3zM276.5 116.5h1.3v1.3h-1.3zM276.5 117h1.3v1.3h-1.3zM276.5 117.5h1.3v1.3h-1.3zM276.5 118h1.3v1.3h-1.3zM276.5 118.5h1.3v1.3h-1.3zM276.5 119h1.3v1.3h-1.3zM276.5 119.5h1.3v1.3h-1.3zM276.5 120h1.3v1.3h-1.3zM276.5 120.5h1.3v1.3h-1.3zM276.5 121.5h1.3v1.3h-1.3zM276.5 122h1.3v1.3h-1.3zM277 44.5h1.3v1.3h-1.3zM277 67h1.3v1.3h-1.3zM277 73h1.3v1.3h-1.3zM277 74h1.3v1.3h-1.3zM277 75h1.3v1.3h-1.3zM277 80h1.3v1.3h-1.3zM277 80.5h1.3v1.3h-1.3zM277 81.5h1.3v1.3h-1.3zM277 82h1.3v1.3h-1.3zM277 83h1.3v1.3h-1.3zM277 84h1.3v1.3h-1.3zM277 85h1.3v1.3h-1.3zM277 86h1.3v1.3h-1.3zM277 88h1.3v1.3h-1.3zM277 88.5h1.3v1.3h-1.3zM277 89h1.3v1.3h-1.3zM277 91h1.3v1.3h-1.3zM277 91.5h1.3v1.3h-1.3zM277 92.5h1.3v1.3h-1.3zM277 94h1.3v1.3h-1.3zM277 94.5h1.3v1.3h-1.3zM277 95h1.3v1.3h-1.3zM277 95.5h1.3v1.3h-1.3zM277 99.5h1.3v1.3h-1.3zM277 100h1.3v1.3h-1.3zM277 103h1.3v1.3h-1.3zM277 104.5h1.3v1.3h-1.3zM277 105h1.3v1.3h-1.3zM277 105.5h1.3v1.3h-1.3zM277 106h1.3v1.3h-1.3zM277 109.5h1.3v1.3h-1.3zM277 110.5h1.3v1.3h-1.3zM277 111h1.3v1.3h-1.3zM277 111.5h1.3v1.3h-1.3zM277 112.5h1.3v1.3h-1.3zM277 113h1.3v1.3h-1.3zM277 113.5h1.3v1.3h-1.3zM277 114h1.3v1.3h-1.3zM277 114.5h1.3v1.3h-1.3zM277 115h1.3v1.3h-1.3zM277 116h1.3v1.3h-1.3zM277 116.5h1.3v1.3h-1.3zM277 117h1.3v1.3h-1.3zM277 117.5h1.3v1.3h-1.3zM277 118h1.3v1.3h-1.3zM277 119h1.3v1.3h-1.3zM277 120h1.3v1.3h-1.3zM277 120.5h1.3v1.3h-1.3zM277 121.5h1.3v1.3h-1.3zM277 122h1.3v1.3h-1.3zM277.5 54h1.3v1.3h-1.3zM277.5 57h1.3v1.3h-1.3zM277.5 68h1.3v1.3h-1.3zM277.5 70.5h1.3v1.3h-1.3zM277.5 73.5h1.3v1.3h-1.3zM277.5 74.5h1.3v1.3h-1.3zM277.5 76.5h1.3v1.3h-1.3zM277.5 82h1.3v1.3h-1.3zM277.5 87h1.3v1.3h-1.3zM277.5 88h1.3v1.3h-1.3zM277.5 88.5h1.3v1.3h-1.3zM277.5 89h1.3v1.3h-1.3zM277.5 89.5h1.3v1.3h-1.3zM277.5 90.5h1.3v1.3h-1.3zM277.5 92h1.3v1.3h-1.3zM277.5 94h1.3v1.3h-1.3zM277.5 94.5h1.3v1.3h-1.3zM277.5 96.5h1.3v1.3h-1.3zM277.5 100.5h1.3v1.3h-1.3zM277.5 101h1.3v1.3h-1.3zM277.5 102h1.3v1.3h-1.3zM277.5 102.5h1.3v1.3h-1.3zM277.5 103h1.3v1.3h-1.3zM277.5 103.5h1.3v1.3h-1.3zM277.5 104h1.3v1.3h-1.3zM277.5 104.5h1.3v1.3h-1.3zM277.5 105h1.3v1.3h-1.3zM277.5 105.5h1.3v1.3h-1.3zM277.5 106h1.3v1.3h-1.3zM277.5 106.5h1.3v1.3h-1.3zM277.5 107h1.3v1.3h-1.3zM277.5 108h1.3v1.3h-1.3zM277.5 109h1.3v1.3h-1.3zM277.5 109.5h1.3v1.3h-1.3zM277.5 110.5h1.3v1.3h-1.3zM277.5 111h1.3v1.3h-1.3zM277.5 111.5h1.3v1.3h-1.3zM277.5 112.5h1.3v1.3h-1.3zM277.5 114.5h1.3v1.3h-1.3zM277.5 115h1.3v1.3h-1.3zM277.5 115.5h1.3v1.3h-1.3zM277.5 116h1.3v1.3h-1.3zM277.5 117h1.3v1.3h-1.3zM277.5 117.5h1.3v1.3h-1.3zM277.5 118h1.3v1.3h-1.3zM277.5 118.5h1.3v1.3h-1.3zM277.5 119h1.3v1.3h-1.3zM277.5 119.5h1.3v1.3h-1.3zM277.5 120h1.3v1.3h-1.3zM277.5 120.5h1.3v1.3h-1.3zM277.5 121h1.3v1.3h-1.3zM277.5 121.5h1.3v1.3h-1.3zM277.5 122h1.3v1.3h-1.3zM278 49.5h1.3v1.3h-1.3zM278 51.5h1.3v1.3h-1.3zM278 76.5h1.3v1.3h-1.3zM278 79h1.3v1.3h-1.3zM278 80.5h1.3v1.3h-1.3zM278 81h1.3v1.3h-1.3zM278 82h1.3v1.3h-1.3zM278 82.5h1.3v1.3h-1.3zM278 85.5h1.3v1.3h-1.3zM278 86h1.3v1.3h-1.3zM278 87h1.3v1.3h-1.3zM278 90h1.3v1.3h-1.3zM278 90.5h1.3v1.3h-1.3zM278 91h1.3v1.3h-1.3zM278 92h1.3v1.3h-1.3zM278 93.5h1.3v1.3h-1.3zM278 94h1.3v1.3h-1.3zM278 96h1.3v1.3h-1.3zM278 97h1.3v1.3h-1.3zM278 97.5h1.3v1.3h-1.3zM278 99h1.3v1.3h-1.3zM278 100.5h1.3v1.3h-1.3zM278 101.5h1.3v1.3h-1.3zM278 102.5h1.3v1.3h-1.3zM278 103h1.3v1.3h-1.3zM278 105h1.3v1.3h-1.3zM278 106h1.3v1.3h-1.3zM278 108h1.3v1.3h-1.3zM278 109.5h1.3v1.3h-1.3zM278 110h1.3v1.3h-1.3zM278 111.5h1.3v1.3h-1.3zM278 112h1.3v1.3h-1.3zM278 112.5h1.3v1.3h-1.3zM278 113h1.3v1.3h-1.3zM278 114h1.3v1.3h-1.3zM278 114.5h1.3v1.3h-1.3zM278 115h1.3v1.3h-1.3zM278 115.5h1.3v1.3h-1.3zM278 116h1.3v1.3h-1.3zM278 116.5h1.3v1.3h-1.3zM278 117h1.3v1.3h-1.3zM278 117.5h1.3v1.3h-1.3zM278 118h1.3v1.3h-1.3zM278 118.5h1.3v1.3h-1.3zM278 119h1.3v1.3h-1.3zM278 119.5h1.3v1.3h-1.3zM278 120h1.3v1.3h-1.3zM278 120.5h1.3v1.3h-1.3zM278 121h1.3v1.3h-1.3zM278 121.5h1.3v1.3h-1.3zM278.5 61h1.3v1.3h-1.3zM278.5 62.5h1.3v1.3h-1.3zM278.5 70h1.3v1.3h-1.3zM278.5 75.5h1.3v1.3h-1.3zM278.5 76h1.3v1.3h-1.3zM278.5 78.5h1.3v1.3h-1.3zM278.5 82h1.3v1.3h-1.3zM278.5 82.5h1.3v1.3h-1.3zM278.5 83.5h1.3v1.3h-1.3zM278.5 84h1.3v1.3h-1.3zM278.5 84.5h1.3v1.3h-1.3zM278.5 85h1.3v1.3h-1.3zM278.5 87.5h1.3v1.3h-1.3zM278.5 88h1.3v1.3h-1.3zM278.5 89h1.3v1.3h-1.3zM278.5 91h1.3v1.3h-1.3zM278.5 92.5h1.3v1.3h-1.3zM278.5 93h1.3v1.3h-1.3zM278.5 93.5h1.3v1.3h-1.3zM278.5 96h1.3v1.3h-1.3zM278.5 96.5h1.3v1.3h-1.3zM278.5 97h1.3v1.3h-1.3zM278.5 97.5h1.3v1.3h-1.3zM278.5 99h1.3v1.3h-1.3zM278.5 101.5h1.3v1.3h-1.3zM278.5 102h1.3v1.3h-1.3zM278.5 102.5h1.3v1.3h-1.3zM278.5 104h1.3v1.3h-1.3zM278.5 104.5h1.3v1.3h-1.3zM278.5 105.5h1.3v1.3h-1.3zM278.5 106.5h1.3v1.3h-1.3zM278.5 107h1.3v1.3h-1.3zM278.5 107.5h1.3v1.3h-1.3zM278.5 109h1.3v1.3h-1.3zM278.5 109.5h1.3v1.3h-1.3zM278.5 110h1.3v1.3h-1.3zM278.5 110.5h1.3v1.3h-1.3zM278.5 111h1.3v1.3h-1.3zM278.5 111.5h1.3v1.3h-1.3zM278.5 112.5h1.3v1.3h-1.3zM278.5 113h1.3v1.3h-1.3zM278.5 113.5h1.3v1.3h-1.3zM278.5 114h1.3v1.3h-1.3zM278.5 114.5h1.3v1.3h-1.3zM278.5 115h1.3v1.3h-1.3zM278.5 115.5h1.3v1.3h-1.3zM278.5 117h1.3v1.3h-1.3zM278.5 118h1.3v1.3h-1.3zM278.5 118.5h1.3v1.3h-1.3zM278.5 119.5h1.3v1.3h-1.3zM278.5 120h1.3v1.3h-1.3zM278.5 120.5h1.3v1.3h-1.3zM278.5 121.5h1.3v1.3h-1.3zM278.5 122h1.3v1.3h-1.3zM279 54h1.3v1.3h-1.3zM279 61h1.3v1.3h-1.3zM279 61.5h1.3v1.3h-1.3zM279 65h1.3v1.3h-1.3zM279 66.5h1.3v1.3h-1.3zM279 70h1.3v1.3h-1.3zM279 72.5h1.3v1.3h-1.3zM279 75h1.3v1.3h-1.3zM279 77.5h1.3v1.3h-1.3zM279 78h1.3v1.3h-1.3zM279 82.5h1.3v1.3h-1.3zM279 83h1.3v1.3h-1.3zM279 84h1.3v1.3h-1.3zM279 87h1.3v1.3h-1.3zM279 87.5h1.3v1.3h-1.3zM279 88h1.3v1.3h-1.3zM279 93h1.3v1.3h-1.3zM279 94h1.3v1.3h-1.3zM279 95h1.3v1.3h-1.3zM279 96h1.3v1.3h-1.3zM279 96.5h1.3v1.3h-1.3zM279 97h1.3v1.3h-1.3zM279 98h1.3v1.3h-1.3zM279 98.5h1.3v1.3h-1.3zM279 99h1.3v1.3h-1.3zM279 99.5h1.3v1.3h-1.3zM279 101h1.3v1.3h-1.3zM279 101.5h1.3v1.3h-1.3zM279 106h1.3v1.3h-1.3zM279 106.5h1.3v1.3h-1.3zM279 107h1.3v1.3h-1.3zM279 107.5h1.3v1.3h-1.3zM279 109.5h1.3v1.3h-1.3zM279 110.5h1.3v1.3h-1.3zM279 111.5h1.3v1.3h-1.3zM279 112.5h1.3v1.3h-1.3zM279 113h1.3v1.3h-1.3zM279 113.5h1.3v1.3h-1.3zM279 114h1.3v1.3h-1.3zM279 114.5h1.3v1.3h-1.3zM279 115h1.3v1.3h-1.3zM279 115.5h1.3v1.3h-1.3zM279 116.5h1.3v1.3h-1.3zM279 117h1.3v1.3h-1.3zM279 117.5h1.3v1.3h-1.3zM279 118h1.3v1.3h-1.3zM279 118.5h1.3v1.3h-1.3zM279 119h1.3v1.3h-1.3zM279 119.5h1.3v1.3h-1.3zM279 120h1.3v1.3h-1.3zM279 120.5h1.3v1.3h-1.3zM279 121.5h1.3v1.3h-1.3zM279 122h1.3v1.3h-1.3zM279.5 56.5h1.3v1.3h-1.3zM279.5 66.5h1.3v1.3h-1.3zM279.5 70h1.3v1.3h-1.3zM279.5 71h1.3v1.3h-1.3zM279.5 74h1.3v1.3h-1.3zM279.5 74.5h1.3v1.3h-1.3zM279.5 81h1.3v1.3h-1.3zM279.5 81.5h1.3v1.3h-1.3zM279.5 82h1.3v1.3h-1.3zM279.5 84.5h1.3v1.3h-1.3zM279.5 85h1.3v1.3h-1.3zM279.5 89h1.3v1.3h-1.3zM279.5 89.5h1.3v1.3h-1.3zM279.5 90.5h1.3v1.3h-1.3zM279.5 91h1.3v1.3h-1.3zM279.5 92h1.3v1.3h-1.3zM279.5 93h1.3v1.3h-1.3zM279.5 94h1.3v1.3h-1.3zM279.5 94.5h1.3v1.3h-1.3zM279.5 95h1.3v1.3h-1.3zM279.5 95.5h1.3v1.3h-1.3zM279.5 96.5h1.3v1.3h-1.3zM279.5 97h1.3v1.3h-1.3zM279.5 97.5h1.3v1.3h-1.3zM279.5 99h1.3v1.3h-1.3zM279.5 100h1.3v1.3h-1.3zM279.5 100.5h1.3v1.3h-1.3zM279.5 102h1.3v1.3h-1.3zM279.5 105h1.3v1.3h-1.3zM279.5 105.5h1.3v1.3h-1.3zM279.5 106h1.3v1.3h-1.3zM279.5 106.5h1.3v1.3h-1.3zM279.5 108h1.3v1.3h-1.3zM279.5 108.5h1.3v1.3h-1.3zM279.5 109.5h1.3v1.3h-1.3zM279.5 110.5h1.3v1.3h-1.3zM279.5 111h1.3v1.3h-1.3zM279.5 111.5h1.3v1.3h-1.3zM279.5 112.5h1.3v1.3h-1.3zM279.5 113.5h1.3v1.3h-1.3zM279.5 114.5h1.3v1.3h-1.3zM279.5 115h1.3v1.3h-1.3zM279.5 116h1.3v1.3h-1.3zM279.5 117h1.3v1.3h-1.3zM279.5 117.5h1.3v1.3h-1.3zM279.5 118h1.3v1.3h-1.3zM279.5 118.5h1.3v1.3h-1.3zM279.5 119h1.3v1.3h-1.3zM279.5 119.5h1.3v1.3h-1.3zM279.5 120h1.3v1.3h-1.3zM279.5 121h1.3v1.3h-1.3zM279.5 121.5h1.3v1.3h-1.3zM279.5 122h1.3v1.3h-1.3zM280 68.5h1.3v1.3h-1.3zM280 73.5h1.3v1.3h-1.3zM280 74.5h1.3v1.3h-1.3zM280 82.5h1.3v1.3h-1.3zM280 85h1.3v1.3h-1.3zM280 85.5h1.3v1.3h-1.3zM280 87h1.3v1.3h-1.3zM280 87.5h1.3v1.3h-1.3zM280 90h1.3v1.3h-1.3zM280 91.5h1.3v1.3h-1.3zM280 92h1.3v1.3h-1.3zM280 92.5h1.3v1.3h-1.3zM280 97.5h1.3v1.3h-1.3zM280 98h1.3v1.3h-1.3zM280 99h1.3v1.3h-1.3zM280 105h1.3v1.3h-1.3zM280 105.5h1.3v1.3h-1.3zM280 106h1.3v1.3h-1.3zM280 106.5h1.3v1.3h-1.3zM280 107.5h1.3v1.3h-1.3zM280 108.5h1.3v1.3h-1.3zM280 109h1.3v1.3h-1.3zM280 109.5h1.3v1.3h-1.3zM280 110h1.3v1.3h-1.3zM280 110.5h1.3v1.3h-1.3zM280 111h1.3v1.3h-1.3zM280 111.5h1.3v1.3h-1.3zM280 112.5h1.3v1.3h-1.3zM280 113h1.3v1.3h-1.3zM280 113.5h1.3v1.3h-1.3zM280 114h1.3v1.3h-1.3zM280 115.5h1.3v1.3h-1.3zM280 116h1.3v1.3h-1.3zM280 116.5h1.3v1.3h-1.3zM280 117.5h1.3v1.3h-1.3zM280 118h1.3v1.3h-1.3zM280 118.5h1.3v1.3h-1.3zM280 119h1.3v1.3h-1.3zM280 119.5h1.3v1.3h-1.3zM280 120h1.3v1.3h-1.3zM280 120.5h1.3v1.3h-1.3zM280 121h1.3v1.3h-1.3zM280 121.5h1.3v1.3h-1.3zM280 122h1.3v1.3h-1.3zM280.5 60h1.3v1.3h-1.3zM280.5 68.5h1.3v1.3h-1.3zM280.5 70.5h1.3v1.3h-1.3zM280.5 77h1.3v1.3h-1.3zM280.5 77.5h1.3v1.3h-1.3zM280.5 78h1.3v1.3h-1.3zM280.5 80h1.3v1.3h-1.3zM280.5 84.5h1.3v1.3h-1.3zM280.5 85h1.3v1.3h-1.3zM280.5 86h1.3v1.3h-1.3zM280.5 87.5h1.3v1.3h-1.3zM280.5 88h1.3v1.3h-1.3zM280.5 88.5h1.3v1.3h-1.3zM280.5 91h1.3v1.3h-1.3zM280.5 92h1.3v1.3h-1.3zM280.5 94.5h1.3v1.3h-1.3zM280.5 95h1.3v1.3h-1.3zM280.5 96h1.3v1.3h-1.3zM280.5 98h1.3v1.3h-1.3zM280.5 99h1.3v1.3h-1.3zM280.5 100h1.3v1.3h-1.3zM280.5 101h1.3v1.3h-1.3zM280.5 101.5h1.3v1.3h-1.3zM280.5 104h1.3v1.3h-1.3zM280.5 104.5h1.3v1.3h-1.3zM280.5 105h1.3v1.3h-1.3zM280.5 105.5h1.3v1.3h-1.3zM280.5 108h1.3v1.3h-1.3zM280.5 108.5h1.3v1.3h-1.3zM280.5 110h1.3v1.3h-1.3zM280.5 111h1.3v1.3h-1.3zM280.5 111.5h1.3v1.3h-1.3zM280.5 112h1.3v1.3h-1.3zM280.5 112.5h1.3v1.3h-1.3zM280.5 113.5h1.3v1.3h-1.3zM280.5 114h1.3v1.3h-1.3zM280.5 114.5h1.3v1.3h-1.3zM280.5 115h1.3v1.3h-1.3zM280.5 115.5h1.3v1.3h-1.3zM280.5 116h1.3v1.3h-1.3zM280.5 116.5h1.3v1.3h-1.3zM280.5 117h1.3v1.3h-1.3zM280.5 117.5h1.3v1.3h-1.3zM280.5 118h1.3v1.3h-1.3zM280.5 118.5h1.3v1.3h-1.3zM280.5 119h1.3v1.3h-1.3zM280.5 119.5h1.3v1.3h-1.3zM280.5 120h1.3v1.3h-1.3zM280.5 120.5h1.3v1.3h-1.3zM280.5 121h1.3v1.3h-1.3zM280.5 121.5h1.3v1.3h-1.3zM280.5 122h1.3v1.3h-1.3zM281 65h1.3v1.3h-1.3zM281 66.5h1.3v1.3h-1.3zM281 68.5h1.3v1.3h-1.3zM281 71.5h1.3v1.3h-1.3zM281 75.5h1.3v1.3h-1.3zM281 77h1.3v1.3h-1.3zM281 79.5h1.3v1.3h-1.3zM281 83.5h1.3v1.3h-1.3zM281 85.5h1.3v1.3h-1.3zM281 86h1.3v1.3h-1.3zM281 86.5h1.3v1.3h-1.3zM281 87.5h1.3v1.3h-1.3zM281 88h1.3v1.3h-1.3zM281 89.5h1.3v1.3h-1.3zM281 92h1.3v1.3h-1.3zM281 93h1.3v1.3h-1.3zM281 93.5h1.3v1.3h-1.3zM281 94.5h1.3v1.3h-1.3zM281 95h1.3v1.3h-1.3zM281 100h1.3v1.3h-1.3zM281 101h1.3v1.3h-1.3zM281 102h1.3v1.3h-1.3zM281 103.5h1.3v1.3h-1.3zM281 105h1.3v1.3h-1.3zM281 105.5h1.3v1.3h-1.3zM281 106h1.3v1.3h-1.3zM281 106.5h1.3v1.3h-1.3zM281 108h1.3v1.3h-1.3zM281 108.5h1.3v1.3h-1.3zM281 109h1.3v1.3h-1.3zM281 109.5h1.3v1.3h-1.3zM281 110h1.3v1.3h-1.3zM281 110.5h1.3v1.3h-1.3zM281 111h1.3v1.3h-1.3zM281 111.5h1.3v1.3h-1.3zM281 112h1.3v1.3h-1.3zM281 112.5h1.3v1.3h-1.3zM281 113.5h1.3v1.3h-1.3zM281 114h1.3v1.3h-1.3zM281 114.5h1.3v1.3h-1.3zM281 115h1.3v1.3h-1.3zM281 115.5h1.3v1.3h-1.3zM281 116h1.3v1.3h-1.3zM281 117h1.3v1.3h-1.3zM281 117.5h1.3v1.3h-1.3zM281 118.5h1.3v1.3h-1.3zM281 119h1.3v1.3h-1.3zM281 119.5h1.3v1.3h-1.3zM281 120h1.3v1.3h-1.3zM281 120.5h1.3v1.3h-1.3zM281 121h1.3v1.3h-1.3zM281 121.5h1.3v1.3h-1.3zM281 122h1.3v1.3h-1.3zM281.5 61h1.3v1.3h-1.3zM281.5 67.5h1.3v1.3h-1.3zM281.5 68h1.3v1.3h-1.3zM281.5 72h1.3v1.3h-1.3zM281.5 82.5h1.3v1.3h-1.3zM281.5 88h1.3v1.3h-1.3zM281.5 91h1.3v1.3h-1.3zM281.5 91.5h1.3v1.3h-1.3zM281.5 92h1.3v1.3h-1.3zM281.5 92.5h1.3v1.3h-1.3zM281.5 93h1.3v1.3h-1.3zM281.5 93.5h1.3v1.3h-1.3zM281.5 96.5h1.3v1.3h-1.3zM281.5 98h1.3v1.3h-1.3zM281.5 98.5h1.3v1.3h-1.3zM281.5 99h1.3v1.3h-1.3zM281.5 100h1.3v1.3h-1.3zM281.5 100.5h1.3v1.3h-1.3zM281.5 101h1.3v1.3h-1.3zM281.5 101.5h1.3v1.3h-1.3zM281.5 104h1.3v1.3h-1.3zM281.5 105h1.3v1.3h-1.3zM281.5 106h1.3v1.3h-1.3zM281.5 108h1.3v1.3h-1.3zM281.5 108.5h1.3v1.3h-1.3zM281.5 109h1.3v1.3h-1.3zM281.5 109.5h1.3v1.3h-1.3zM281.5 110h1.3v1.3h-1.3zM281.5 110.5h1.3v1.3h-1.3zM281.5 111h1.3v1.3h-1.3zM281.5 111.5h1.3v1.3h-1.3zM281.5 112h1.3v1.3h-1.3zM281.5 113h1.3v1.3h-1.3zM281.5 113.5h1.3v1.3h-1.3zM281.5 115h1.3v1.3h-1.3zM281.5 115.5h1.3v1.3h-1.3zM281.5 116h1.3v1.3h-1.3zM281.5 117h1.3v1.3h-1.3zM281.5 117.5h1.3v1.3h-1.3zM281.5 118h1.3v1.3h-1.3zM281.5 118.5h1.3v1.3h-1.3zM281.5 119h1.3v1.3h-1.3zM281.5 119.5h1.3v1.3h-1.3zM281.5 120h1.3v1.3h-1.3zM281.5 120.5h1.3v1.3h-1.3zM281.5 121h1.3v1.3h-1.3zM281.5 121.5h1.3v1.3h-1.3zM282 66h1.3v1.3h-1.3zM282 68h1.3v1.3h-1.3zM282 80.5h1.3v1.3h-1.3zM282 81.5h1.3v1.3h-1.3zM282 85h1.3v1.3h-1.3zM282 90h1.3v1.3h-1.3zM282 94h1.3v1.3h-1.3zM282 95h1.3v1.3h-1.3zM282 95.5h1.3v1.3h-1.3zM282 96h1.3v1.3h-1.3zM282 97.5h1.3v1.3h-1.3zM282 98h1.3v1.3h-1.3zM282 98.5h1.3v1.3h-1.3zM282 100h1.3v1.3h-1.3zM282 100.5h1.3v1.3h-1.3zM282 101.5h1.3v1.3h-1.3zM282 103.5h1.3v1.3h-1.3zM282 105h1.3v1.3h-1.3zM282 105.5h1.3v1.3h-1.3zM282 107.5h1.3v1.3h-1.3zM282 108h1.3v1.3h-1.3zM282 109h1.3v1.3h-1.3zM282 109.5h1.3v1.3h-1.3zM282 110.5h1.3v1.3h-1.3zM282 111h1.3v1.3h-1.3zM282 111.5h1.3v1.3h-1.3zM282 112h1.3v1.3h-1.3zM282 112.5h1.3v1.3h-1.3zM282 113.5h1.3v1.3h-1.3zM282 114.5h1.3v1.3h-1.3zM282 115h1.3v1.3h-1.3zM282 115.5h1.3v1.3h-1.3zM282 116h1.3v1.3h-1.3zM282 116.5h1.3v1.3h-1.3zM282 117.5h1.3v1.3h-1.3zM282 118h1.3v1.3h-1.3zM282 118.5h1.3v1.3h-1.3zM282 119h1.3v1.3h-1.3zM282 119.5h1.3v1.3h-1.3zM282 120h1.3v1.3h-1.3zM282 120.5h1.3v1.3h-1.3zM282 121h1.3v1.3h-1.3zM282 121.5h1.3v1.3h-1.3zM282 122h1.3v1.3h-1.3zM282.5 68h1.3v1.3h-1.3zM282.5 71.5h1.3v1.3h-1.3zM282.5 76h1.3v1.3h-1.3zM282.5 76.5h1.3v1.3h-1.3zM282.5 81h1.3v1.3h-1.3zM282.5 85h1.3v1.3h-1.3zM282.5 86.5h1.3v1.3h-1.3zM282.5 93.5h1.3v1.3h-1.3zM282.5 94h1.3v1.3h-1.3zM282.5 94.5h1.3v1.3h-1.3zM282.5 95h1.3v1.3h-1.3zM282.5 96h1.3v1.3h-1.3zM282.5 97.5h1.3v1.3h-1.3zM282.5 98.5h1.3v1.3h-1.3zM282.5 99h1.3v1.3h-1.3zM282.5 99.5h1.3v1.3h-1.3zM282.5 100.5h1.3v1.3h-1.3zM282.5 101h1.3v1.3h-1.3zM282.5 102.5h1.3v1.3h-1.3zM282.5 104.5h1.3v1.3h-1.3zM282.5 105h1.3v1.3h-1.3zM282.5 105.5h1.3v1.3h-1.3zM282.5 106h1.3v1.3h-1.3zM282.5 106.5h1.3v1.3h-1.3zM282.5 107h1.3v1.3h-1.3zM282.5 107.5h1.3v1.3h-1.3zM282.5 108h1.3v1.3h-1.3zM282.5 108.5h1.3v1.3h-1.3zM282.5 109h1.3v1.3h-1.3zM282.5 109.5h1.3v1.3h-1.3zM282.5 110h1.3v1.3h-1.3zM282.5 111.5h1.3v1.3h-1.3zM282.5 112h1.3v1.3h-1.3zM282.5 112.5h1.3v1.3h-1.3zM282.5 113.5h1.3v1.3h-1.3zM282.5 114h1.3v1.3h-1.3zM282.5 114.5h1.3v1.3h-1.3zM282.5 115h1.3v1.3h-1.3zM282.5 115.5h1.3v1.3h-1.3zM282.5 116h1.3v1.3h-1.3zM282.5 116.5h1.3v1.3h-1.3zM282.5 117h1.3v1.3h-1.3zM282.5 117.5h1.3v1.3h-1.3zM282.5 118h1.3v1.3h-1.3zM282.5 119h1.3v1.3h-1.3zM282.5 119.5h1.3v1.3h-1.3zM282.5 120h1.3v1.3h-1.3zM282.5 120.5h1.3v1.3h-1.3zM282.5 121h1.3v1.3h-1.3zM282.5 121.5h1.3v1.3h-1.3zM282.5 122h1.3v1.3h-1.3zM283 64h1.3v1.3h-1.3zM283 77h1.3v1.3h-1.3zM283 84h1.3v1.3h-1.3zM283 93h1.3v1.3h-1.3zM283 94h1.3v1.3h-1.3zM283 94.5h1.3v1.3h-1.3zM283 97h1.3v1.3h-1.3zM283 97.5h1.3v1.3h-1.3zM283 99.5h1.3v1.3h-1.3zM283 101h1.3v1.3h-1.3zM283 102h1.3v1.3h-1.3zM283 103h1.3v1.3h-1.3zM283 103.5h1.3v1.3h-1.3zM283 105.5h1.3v1.3h-1.3zM283 106.5h1.3v1.3h-1.3zM283 107h1.3v1.3h-1.3zM283 109h1.3v1.3h-1.3zM283 109.5h1.3v1.3h-1.3zM283 110h1.3v1.3h-1.3zM283 112h1.3v1.3h-1.3zM283 113.5h1.3v1.3h-1.3zM283 114h1.3v1.3h-1.3zM283 114.5h1.3v1.3h-1.3zM283 115h1.3v1.3h-1.3zM283 115.5h1.3v1.3h-1.3zM283 116h1.3v1.3h-1.3zM283 117h1.3v1.3h-1.3zM283 117.5h1.3v1.3h-1.3zM283 118h1.3v1.3h-1.3zM283 118.5h1.3v1.3h-1.3zM283 119h1.3v1.3h-1.3zM283 119.5h1.3v1.3h-1.3zM283 120h1.3v1.3h-1.3zM283 121h1.3v1.3h-1.3zM283 121.5h1.3v1.3h-1.3zM283 122h1.3v1.3h-1.3zM283.5 81.5h1.3v1.3h-1.3zM283.5 87.5h1.3v1.3h-1.3zM283.5 98h1.3v1.3h-1.3zM283.5 98.5h1.3v1.3h-1.3zM283.5 100h1.3v1.3h-1.3zM283.5 101h1.3v1.3h-1.3zM283.5 102.5h1.3v1.3h-1.3zM283.5 103h1.3v1.3h-1.3zM283.5 104h1.3v1.3h-1.3zM283.5 105h1.3v1.3h-1.3zM283.5 105.5h1.3v1.3h-1.3zM283.5 108h1.3v1.3h-1.3zM283.5 108.5h1.3v1.3h-1.3zM283.5 109.5h1.3v1.3h-1.3zM283.5 110h1.3v1.3h-1.3zM283.5 110.5h1.3v1.3h-1.3zM283.5 111h1.3v1.3h-1.3zM283.5 111.5h1.3v1.3h-1.3zM283.5 112h1.3v1.3h-1.3zM283.5 112.5h1.3v1.3h-1.3zM283.5 113h1.3v1.3h-1.3zM283.5 113.5h1.3v1.3h-1.3zM283.5 114.5h1.3v1.3h-1.3zM283.5 115h1.3v1.3h-1.3zM283.5 116.5h1.3v1.3h-1.3zM283.5 117h1.3v1.3h-1.3zM283.5 117.5h1.3v1.3h-1.3zM283.5 118h1.3v1.3h-1.3zM283.5 118.5h1.3v1.3h-1.3zM283.5 119h1.3v1.3h-1.3zM283.5 119.5h1.3v1.3h-1.3zM283.5 120h1.3v1.3h-1.3zM283.5 120.5h1.3v1.3h-1.3zM283.5 121h1.3v1.3h-1.3zM283.5 121.5h1.3v1.3h-1.3zM283.5 122h1.3v1.3h-1.3zM284 72h1.3v1.3h-1.3zM284 86h1.3v1.3h-1.3zM284 86.5h1.3v1.3h-1.3zM284 92.5h1.3v1.3h-1.3zM284 94.5h1.3v1.3h-1.3zM284 97.5h1.3v1.3h-1.3zM284 99h1.3v1.3h-1.3zM284 100.5h1.3v1.3h-1.3zM284 101h1.3v1.3h-1.3zM284 102h1.3v1.3h-1.3zM284 103.5h1.3v1.3h-1.3zM284 104h1.3v1.3h-1.3zM284 105h1.3v1.3h-1.3zM284 106.5h1.3v1.3h-1.3zM284 107h1.3v1.3h-1.3zM284 107.5h1.3v1.3h-1.3zM284 108h1.3v1.3h-1.3zM284 108.5h1.3v1.3h-1.3zM284 109h1.3v1.3h-1.3zM284 110h1.3v1.3h-1.3zM284 110.5h1.3v1.3h-1.3zM284 111h1.3v1.3h-1.3zM284 111.5h1.3v1.3h-1.3zM284 112h1.3v1.3h-1.3zM284 112.5h1.3v1.3h-1.3zM284 113.5h1.3v1.3h-1.3zM284 114h1.3v1.3h-1.3zM284 114.5h1.3v1.3h-1.3zM284 115h1.3v1.3h-1.3zM284 116h1.3v1.3h-1.3zM284 116.5h1.3v1.3h-1.3zM284 117h1.3v1.3h-1.3zM284 117.5h1.3v1.3h-1.3zM284 118h1.3v1.3h-1.3zM284 118.5h1.3v1.3h-1.3zM284 119h1.3v1.3h-1.3zM284 119.5h1.3v1.3h-1.3zM284 120h1.3v1.3h-1.3zM284 120.5h1.3v1.3h-1.3zM284 121h1.3v1.3h-1.3zM284 121.5h1.3v1.3h-1.3zM284 122h1.3v1.3h-1.3zM284.5 78h1.3v1.3h-1.3zM284.5 87h1.3v1.3h-1.3zM284.5 92.5h1.3v1.3h-1.3zM284.5 98h1.3v1.3h-1.3zM284.5 101h1.3v1.3h-1.3zM284.5 102h1.3v1.3h-1.3zM284.5 102.5h1.3v1.3h-1.3zM284.5 103h1.3v1.3h-1.3zM284.5 104.5h1.3v1.3h-1.3zM284.5 105h1.3v1.3h-1.3zM284.5 105.5h1.3v1.3h-1.3zM284.5 107.5h1.3v1.3h-1.3zM284.5 108h1.3v1.3h-1.3zM284.5 108.5h1.3v1.3h-1.3zM284.5 110.5h1.3v1.3h-1.3zM284.5 112h1.3v1.3h-1.3zM284.5 112.5h1.3v1.3h-1.3zM284.5 113h1.3v1.3h-1.3zM284.5 113.5h1.3v1.3h-1.3zM284.5 114h1.3v1.3h-1.3zM284.5 114.5h1.3v1.3h-1.3zM284.5 115h1.3v1.3h-1.3zM284.5 115.5h1.3v1.3h-1.3zM284.5 116h1.3v1.3h-1.3zM284.5 116.5h1.3v1.3h-1.3zM284.5 117h1.3v1.3h-1.3zM284.5 117.5h1.3v1.3h-1.3zM284.5 118h1.3v1.3h-1.3zM284.5 118.5h1.3v1.3h-1.3zM284.5 119h1.3v1.3h-1.3zM284.5 119.5h1.3v1.3h-1.3zM284.5 120.5h1.3v1.3h-1.3zM284.5 121h1.3v1.3h-1.3zM284.5 121.5h1.3v1.3h-1.3zM284.5 122h1.3v1.3h-1.3zM285 79h1.3v1.3h-1.3zM285 94.5h1.3v1.3h-1.3zM285 97.5h1.3v1.3h-1.3zM285 98.5h1.3v1.3h-1.3zM285 103h1.3v1.3h-1.3zM285 105.5h1.3v1.3h-1.3zM285 106h1.3v1.3h-1.3zM285 106.5h1.3v1.3h-1.3zM285 107h1.3v1.3h-1.3zM285 107.5h1.3v1.3h-1.3zM285 108h1.3v1.3h-1.3zM285 109.5h1.3v1.3h-1.3zM285 110h1.3v1.3h-1.3zM285 110.5h1.3v1.3h-1.3zM285 111h1.3v1.3h-1.3zM285 111.5h1.3v1.3h-1.3zM285 112.5h1.3v1.3h-1.3zM285 113h1.3v1.3h-1.3zM285 114h1.3v1.3h-1.3zM285 114.5h1.3v1.3h-1.3zM285 115.5h1.3v1.3h-1.3zM285 116h1.3v1.3h-1.3zM285 116.5h1.3v1.3h-1.3zM285 117h1.3v1.3h-1.3zM285 117.5h1.3v1.3h-1.3zM285 118h1.3v1.3h-1.3zM285 118.5h1.3v1.3h-1.3zM285 119h1.3v1.3h-1.3zM285 119.5h1.3v1.3h-1.3zM285 120h1.3v1.3h-1.3zM285 120.5h1.3v1.3h-1.3zM285 121h1.3v1.3h-1.3zM285 121.5h1.3v1.3h-1.3zM285 122h1.3v1.3h-1.3zM285.5 77.5h1.3v1.3h-1.3zM285.5 85.5h1.3v1.3h-1.3zM285.5 91.5h1.3v1.3h-1.3zM285.5 93h1.3v1.3h-1.3zM285.5 95h1.3v1.3h-1.3zM285.5 98h1.3v1.3h-1.3zM285.5 98.5h1.3v1.3h-1.3zM285.5 99.5h1.3v1.3h-1.3zM285.5 100.5h1.3v1.3h-1.3zM285.5 101.5h1.3v1.3h-1.3zM285.5 102h1.3v1.3h-1.3zM285.5 102.5h1.3v1.3h-1.3zM285.5 103h1.3v1.3h-1.3zM285.5 104h1.3v1.3h-1.3zM285.5 106h1.3v1.3h-1.3zM285.5 106.5h1.3v1.3h-1.3zM285.5 107.5h1.3v1.3h-1.3zM285.5 108h1.3v1.3h-1.3zM285.5 108.5h1.3v1.3h-1.3zM285.5 109h1.3v1.3h-1.3zM285.5 110.5h1.3v1.3h-1.3zM285.5 111h1.3v1.3h-1.3zM285.5 112h1.3v1.3h-1.3zM285.5 113h1.3v1.3h-1.3zM285.5 113.5h1.3v1.3h-1.3zM285.5 114h1.3v1.3h-1.3zM285.5 114.5h1.3v1.3h-1.3zM285.5 115h1.3v1.3h-1.3zM285.5 115.5h1.3v1.3h-1.3zM285.5 116h1.3v1.3h-1.3zM285.5 116.5h1.3v1.3h-1.3zM285.5 117h1.3v1.3h-1.3zM285.5 117.5h1.3v1.3h-1.3zM285.5 118h1.3v1.3h-1.3zM285.5 118.5h1.3v1.3h-1.3zM285.5 119h1.3v1.3h-1.3zM285.5 119.5h1.3v1.3h-1.3zM285.5 120h1.3v1.3h-1.3zM285.5 120.5h1.3v1.3h-1.3zM285.5 121h1.3v1.3h-1.3zM285.5 121.5h1.3v1.3h-1.3zM285.5 122h1.3v1.3h-1.3zM286 98.5h1.3v1.3h-1.3zM286 101h1.3v1.3h-1.3zM286 102.5h1.3v1.3h-1.3zM286 103h1.3v1.3h-1.3zM286 103.5h1.3v1.3h-1.3zM286 105.5h1.3v1.3h-1.3zM286 108h1.3v1.3h-1.3zM286 108.5h1.3v1.3h-1.3zM286 109h1.3v1.3h-1.3zM286 110.5h1.3v1.3h-1.3zM286 111h1.3v1.3h-1.3zM286 111.5h1.3v1.3h-1.3zM286 112h1.3v1.3h-1.3zM286 112.5h1.3v1.3h-1.3zM286 113h1.3v1.3h-1.3zM286 113.5h1.3v1.3h-1.3zM286 114h1.3v1.3h-1.3zM286 114.5h1.3v1.3h-1.3zM286 115h1.3v1.3h-1.3zM286 115.5h1.3v1.3h-1.3zM286 116h1.3v1.3h-1.3zM286 116.5h1.3v1.3h-1.3zM286 117h1.3v1.3h-1.3zM286 117.5h1.3v1.3h-1.3zM286 118h1.3v1.3h-1.3zM286 118.5h1.3v1.3h-1.3zM286 119h1.3v1.3h-1.3zM286 119.5h1.3v1.3h-1.3zM286 120h1.3v1.3h-1.3zM286 120.5h1.3v1.3h-1.3zM286 121h1.3v1.3h-1.3zM286 121.5h1.3v1.3h-1.3zM286 122h1.3v1.3h-1.3zM286.5 90h1.3v1.3h-1.3zM286.5 100h1.3v1.3h-1.3zM286.5 100.5h1.3v1.3h-1.3zM286.5 102h1.3v1.3h-1.3zM286.5 103h1.3v1.3h-1.3zM286.5 106h1.3v1.3h-1.3zM286.5 107h1.3v1.3h-1.3zM286.5 107.5h1.3v1.3h-1.3zM286.5 108.5h1.3v1.3h-1.3zM286.5 109h1.3v1.3h-1.3zM286.5 110.5h1.3v1.3h-1.3zM286.5 111.5h1.3v1.3h-1.3zM286.5 112h1.3v1.3h-1.3zM286.5 112.5h1.3v1.3h-1.3zM286.5 113h1.3v1.3h-1.3zM286.5 113.5h1.3v1.3h-1.3zM286.5 114h1.3v1.3h-1.3zM286.5 114.5h1.3v1.3h-1.3zM286.5 115h1.3v1.3h-1.3zM286.5 115.5h1.3v1.3h-1.3zM286.5 116h1.3v1.3h-1.3zM286.5 116.5h1.3v1.3h-1.3zM286.5 117h1.3v1.3h-1.3zM286.5 117.5h1.3v1.3h-1.3zM286.5 118h1.3v1.3h-1.3zM286.5 118.5h1.3v1.3h-1.3zM286.5 119h1.3v1.3h-1.3zM286.5 119.5h1.3v1.3h-1.3zM286.5 120h1.3v1.3h-1.3zM286.5 120.5h1.3v1.3h-1.3zM286.5 121h1.3v1.3h-1.3zM286.5 121.5h1.3v1.3h-1.3zM286.5 122h1.3v1.3h-1.3zM287 92h1.3v1.3h-1.3zM287 93h1.3v1.3h-1.3zM287 95h1.3v1.3h-1.3zM287 98h1.3v1.3h-1.3zM287 101.5h1.3v1.3h-1.3zM287 102.5h1.3v1.3h-1.3zM287 103.5h1.3v1.3h-1.3zM287 104h1.3v1.3h-1.3zM287 106h1.3v1.3h-1.3zM287 107h1.3v1.3h-1.3zM287 107.5h1.3v1.3h-1.3zM287 108.5h1.3v1.3h-1.3zM287 109h1.3v1.3h-1.3zM287 109.5h1.3v1.3h-1.3zM287 110h1.3v1.3h-1.3zM287 110.5h1.3v1.3h-1.3zM287 111h1.3v1.3h-1.3zM287 111.5h1.3v1.3h-1.3zM287 112h1.3v1.3h-1.3zM287 112.5h1.3v1.3h-1.3zM287 113h1.3v1.3h-1.3zM287 113.5h1.3v1.3h-1.3zM287 114h1.3v1.3h-1.3zM287 114.5h1.3v1.3h-1.3zM287 115h1.3v1.3h-1.3zM287 115.5h1.3v1.3h-1.3zM287 116h1.3v1.3h-1.3zM287 116.5h1.3v1.3h-1.3zM287 117h1.3v1.3h-1.3zM287 117.5h1.3v1.3h-1.3zM287 118h1.3v1.3h-1.3zM287 118.5h1.3v1.3h-1.3zM287 119h1.3v1.3h-1.3zM287 119.5h1.3v1.3h-1.3zM287 120h1.3v1.3h-1.3zM287 120.5h1.3v1.3h-1.3zM287 121h1.3v1.3h-1.3zM287 121.5h1.3v1.3h-1.3zM287 122h1.3v1.3h-1.3zM287.5 97h1.3v1.3h-1.3zM287.5 104.5h1.3v1.3h-1.3zM287.5 107.5h1.3v1.3h-1.3zM287.5 110h1.3v1.3h-1.3zM287.5 110.5h1.3v1.3h-1.3zM287.5 112.5h1.3v1.3h-1.3zM287.5 113h1.3v1.3h-1.3zM287.5 114.5h1.3v1.3h-1.3zM287.5 115h1.3v1.3h-1.3zM287.5 116h1.3v1.3h-1.3zM287.5 116.5h1.3v1.3h-1.3zM287.5 117h1.3v1.3h-1.3zM287.5 117.5h1.3v1.3h-1.3zM287.5 118.5h1.3v1.3h-1.3zM287.5 119h1.3v1.3h-1.3zM287.5 121h1.3v1.3h-1.3zM287.5 121.5h1.3v1.3h-1.3zM287.5 122h1.3v1.3h-1.3zM289 91.5h1.3v1.3h-1.3zM289 104h1.3v1.3h-1.3zM289 104.5h1.3v1.3h-1.3zM289 105h1.3v1.3h-1.3zM289 108h1.3v1.3h-1.3zM289 109h1.3v1.3h-1.3zM289 110h1.3v1.3h-1.3zM289 110.5h1.3v1.3h-1.3zM289 111h1.3v1.3h-1.3zM289 111.5h1.3v1.3h-1.3zM289 113h1.3v1.3h-1.3zM289 114h1.3v1.3h-1.3zM289 117h1.3v1.3h-1.3zM289 117.5h1.3v1.3h-1.3zM289 119h1.3v1.3h-1.3zM289 119.5h1.3v1.3h-1.3zM289 120h1.3v1.3h-1.3zM289 120.5h1.3v1.3h-1.3zM289 121.5h1.3v1.3h-1.3zM289 122h1.3v1.3h-1.3zM289.5 96.5h1.3v1.3h-1.3zM289.5 100.5h1.3v1.3h-1.3zM289.5 101h1.3v1.3h-1.3zM289.5 103h1.3v1.3h-1.3zM289.5 104.5h1.3v1.3h-1.3zM289.5 105h1.3v1.3h-1.3zM289.5 105.5h1.3v1.3h-1.3zM289.5 106h1.3v1.3h-1.3zM289.5 106.5h1.3v1.3h-1.3zM289.5 107h1.3v1.3h-1.3zM289.5 107.5h1.3v1.3h-1.3zM289.5 108h1.3v1.3h-1.3zM289.5 108.5h1.3v1.3h-1.3zM289.5 109.5h1.3v1.3h-1.3zM289.5 110h1.3v1.3h-1.3zM289.5 110.5h1.3v1.3h-1.3zM289.5 111h1.3v1.3h-1.3zM289.5 111.5h1.3v1.3h-1.3zM289.5 112.5h1.3v1.3h-1.3zM289.5 113h1.3v1.3h-1.3zM289.5 113.5h1.3v1.3h-1.3zM289.5 114.5h1.3v1.3h-1.3zM289.5 115h1.3v1.3h-1.3zM289.5 115.5h1.3v1.3h-1.3zM289.5 116h1.3v1.3h-1.3zM289.5 116.5h1.3v1.3h-1.3zM289.5 117h1.3v1.3h-1.3zM289.5 117.5h1.3v1.3h-1.3zM289.5 118h1.3v1.3h-1.3zM289.5 118.5h1.3v1.3h-1.3zM289.5 119h1.3v1.3h-1.3zM289.5 119.5h1.3v1.3h-1.3zM289.5 120h1.3v1.3h-1.3zM289.5 120.5h1.3v1.3h-1.3zM289.5 121h1.3v1.3h-1.3zM289.5 121.5h1.3v1.3h-1.3zM289.5 122h1.3v1.3h-1.3zM290 91.5h1.3v1.3h-1.3zM290 94.5h1.3v1.3h-1.3zM290 95.5h1.3v1.3h-1.3zM290 96h1.3v1.3h-1.3zM290 98h1.3v1.3h-1.3zM290 100.5h1.3v1.3h-1.3zM290 101h1.3v1.3h-1.3zM290 102h1.3v1.3h-1.3zM290 102.5h1.3v1.3h-1.3zM290 103h1.3v1.3h-1.3zM290 103.5h1.3v1.3h-1.3zM290 104h1.3v1.3h-1.3zM290 104.5h1.3v1.3h-1.3zM290 106.5h1.3v1.3h-1.3zM290 107h1.3v1.3h-1.3zM290 107.5h1.3v1.3h-1.3zM290 108.5h1.3v1.3h-1.3zM290 109.5h1.3v1.3h-1.3zM290 110.5h1.3v1.3h-1.3zM290 111.5h1.3v1.3h-1.3zM290 112.5h1.3v1.3h-1.3zM290 113h1.3v1.3h-1.3zM290 113.5h1.3v1.3h-1.3zM290 114h1.3v1.3h-1.3zM290 114.5h1.3v1.3h-1.3zM290 115h1.3v1.3h-1.3zM290 115.5h1.3v1.3h-1.3zM290 116h1.3v1.3h-1.3zM290 116.5h1.3v1.3h-1.3zM290 117h1.3v1.3h-1.3zM290 117.5h1.3v1.3h-1.3zM290 118h1.3v1.3h-1.3zM290 118.5h1.3v1.3h-1.3zM290 119h1.3v1.3h-1.3zM290 119.5h1.3v1.3h-1.3zM290 120h1.3v1.3h-1.3zM290 121h1.3v1.3h-1.3zM290 121.5h1.3v1.3h-1.3zM290 122h1.3v1.3h-1.3zM290.5 92.5h1.3v1.3h-1.3zM290.5 93.5h1.3v1.3h-1.3zM290.5 96.5h1.3v1.3h-1.3zM290.5 102h1.3v1.3h-1.3zM290.5 104h1.3v1.3h-1.3zM290.5 104.5h1.3v1.3h-1.3zM290.5 105.5h1.3v1.3h-1.3zM290.5 107h1.3v1.3h-1.3zM290.5 108h1.3v1.3h-1.3zM290.5 108.5h1.3v1.3h-1.3zM290.5 109.5h1.3v1.3h-1.3zM290.5 110.5h1.3v1.3h-1.3zM290.5 111h1.3v1.3h-1.3zM290.5 111.5h1.3v1.3h-1.3zM290.5 112h1.3v1.3h-1.3zM290.5 112.5h1.3v1.3h-1.3zM290.5 113h1.3v1.3h-1.3zM290.5 113.5h1.3v1.3h-1.3zM290.5 114.5h1.3v1.3h-1.3zM290.5 115h1.3v1.3h-1.3zM290.5 115.5h1.3v1.3h-1.3zM290.5 116h1.3v1.3h-1.3zM290.5 116.5h1.3v1.3h-1.3zM290.5 117h1.3v1.3h-1.3zM290.5 117.5h1.3v1.3h-1.3zM290.5 118h1.3v1.3h-1.3zM290.5 118.5h1.3v1.3h-1.3zM290.5 119h1.3v1.3h-1.3zM290.5 119.5h1.3v1.3h-1.3zM290.5 120h1.3v1.3h-1.3zM290.5 120.5h1.3v1.3h-1.3zM290.5 121h1.3v1.3h-1.3zM290.5 121.5h1.3v1.3h-1.3zM290.5 122h1.3v1.3h-1.3zM291 99.5h1.3v1.3h-1.3zM291 100.5h1.3v1.3h-1.3zM291 101.5h1.3v1.3h-1.3zM291 102.5h1.3v1.3h-1.3zM291 103h1.3v1.3h-1.3zM291 103.5h1.3v1.3h-1.3zM291 104h1.3v1.3h-1.3zM291 104.5h1.3v1.3h-1.3zM291 105h1.3v1.3h-1.3zM291 106.5h1.3v1.3h-1.3zM291 107h1.3v1.3h-1.3zM291 108h1.3v1.3h-1.3zM291 108.5h1.3v1.3h-1.3zM291 109h1.3v1.3h-1.3zM291 110h1.3v1.3h-1.3zM291 111.5h1.3v1.3h-1.3zM291 112h1.3v1.3h-1.3zM291 112.5h1.3v1.3h-1.3zM291 113.5h1.3v1.3h-1.3zM291 114h1.3v1.3h-1.3zM291 114.5h1.3v1.3h-1.3zM291 115h1.3v1.3h-1.3zM291 115.5h1.3v1.3h-1.3zM291 116h1.3v1.3h-1.3zM291 116.5h1.3v1.3h-1.3zM291 117h1.3v1.3h-1.3zM291 117.5h1.3v1.3h-1.3zM291 118h1.3v1.3h-1.3zM291 118.5h1.3v1.3h-1.3zM291 119h1.3v1.3h-1.3zM291 119.5h1.3v1.3h-1.3zM291 120h1.3v1.3h-1.3zM291 120.5h1.3v1.3h-1.3zM291 121.5h1.3v1.3h-1.3zM291 122h1.3v1.3h-1.3zM291.5 77h1.3v1.3h-1.3zM291.5 88h1.3v1.3h-1.3zM291.5 93h1.3v1.3h-1.3zM291.5 98h1.3v1.3h-1.3zM291.5 98.5h1.3v1.3h-1.3zM291.5 99h1.3v1.3h-1.3zM291.5 101h1.3v1.3h-1.3zM291.5 103h1.3v1.3h-1.3zM291.5 104h1.3v1.3h-1.3zM291.5 105.5h1.3v1.3h-1.3zM291.5 106h1.3v1.3h-1.3zM291.5 106.5h1.3v1.3h-1.3zM291.5 107h1.3v1.3h-1.3zM291.5 107.5h1.3v1.3h-1.3zM291.5 109h1.3v1.3h-1.3zM291.5 109.5h1.3v1.3h-1.3zM291.5 110h1.3v1.3h-1.3zM291.5 112h1.3v1.3h-1.3zM291.5 113.5h1.3v1.3h-1.3zM291.5 114h1.3v1.3h-1.3zM291.5 114.5h1.3v1.3h-1.3zM291.5 115h1.3v1.3h-1.3zM291.5 116h1.3v1.3h-1.3zM291.5 116.5h1.3v1.3h-1.3zM291.5 117h1.3v1.3h-1.3zM291.5 117.5h1.3v1.3h-1.3zM291.5 118h1.3v1.3h-1.3zM291.5 118.5h1.3v1.3h-1.3zM291.5 119h1.3v1.3h-1.3zM291.5 120h1.3v1.3h-1.3zM291.5 120.5h1.3v1.3h-1.3zM291.5 121h1.3v1.3h-1.3zM291.5 121.5h1.3v1.3h-1.3zM291.5 122h1.3v1.3h-1.3zM292 91.5h1.3v1.3h-1.3zM292 94h1.3v1.3h-1.3zM292 98h1.3v1.3h-1.3zM292 98.5h1.3v1.3h-1.3zM292 99.5h1.3v1.3h-1.3zM292 102.5h1.3v1.3h-1.3zM292 103h1.3v1.3h-1.3zM292 105h1.3v1.3h-1.3zM292 106.5h1.3v1.3h-1.3zM292 107h1.3v1.3h-1.3zM292 107.5h1.3v1.3h-1.3zM292 109h1.3v1.3h-1.3zM292 110h1.3v1.3h-1.3zM292 110.5h1.3v1.3h-1.3zM292 111h1.3v1.3h-1.3zM292 111.5h1.3v1.3h-1.3zM292 112h1.3v1.3h-1.3zM292 112.5h1.3v1.3h-1.3zM292 113h1.3v1.3h-1.3zM292 113.5h1.3v1.3h-1.3zM292 114h1.3v1.3h-1.3zM292 114.5h1.3v1.3h-1.3zM292 115h1.3v1.3h-1.3zM292 115.5h1.3v1.3h-1.3zM292 116h1.3v1.3h-1.3zM292 116.5h1.3v1.3h-1.3zM292 117h1.3v1.3h-1.3zM292 117.5h1.3v1.3h-1.3zM292 118h1.3v1.3h-1.3zM292 119h1.3v1.3h-1.3zM292 119.5h1.3v1.3h-1.3zM292 120h1.3v1.3h-1.3zM292 121h1.3v1.3h-1.3zM292 121.5h1.3v1.3h-1.3zM292 122h1.3v1.3h-1.3zM292.5 92h1.3v1.3h-1.3zM292.5 96.5h1.3v1.3h-1.3zM292.5 98h1.3v1.3h-1.3zM292.5 102h1.3v1.3h-1.3zM292.5 104.5h1.3v1.3h-1.3zM292.5 105.5h1.3v1.3h-1.3zM292.5 106.5h1.3v1.3h-1.3zM292.5 107h1.3v1.3h-1.3zM292.5 107.5h1.3v1.3h-1.3zM292.5 108.5h1.3v1.3h-1.3zM292.5 109h1.3v1.3h-1.3zM292.5 110h1.3v1.3h-1.3zM292.5 111h1.3v1.3h-1.3zM292.5 111.5h1.3v1.3h-1.3zM292.5 112h1.3v1.3h-1.3zM292.5 112.5h1.3v1.3h-1.3zM292.5 113.5h1.3v1.3h-1.3zM292.5 114h1.3v1.3h-1.3zM292.5 114.5h1.3v1.3h-1.3zM292.5 115.5h1.3v1.3h-1.3zM292.5 116h1.3v1.3h-1.3zM292.5 116.5h1.3v1.3h-1.3zM292.5 117h1.3v1.3h-1.3zM292.5 117.5h1.3v1.3h-1.3zM292.5 118h1.3v1.3h-1.3zM292.5 119h1.3v1.3h-1.3zM292.5 119.5h1.3v1.3h-1.3zM292.5 120h1.3v1.3h-1.3zM292.5 120.5h1.3v1.3h-1.3zM292.5 121h1.3v1.3h-1.3zM292.5 121.5h1.3v1.3h-1.3zM292.5 122h1.3v1.3h-1.3zM293 91.5h1.3v1.3h-1.3zM293 93h1.3v1.3h-1.3zM293 93.5h1.3v1.3h-1.3zM293 94h1.3v1.3h-1.3zM293 96.5h1.3v1.3h-1.3zM293 100.5h1.3v1.3h-1.3zM293 102h1.3v1.3h-1.3zM293 102.5h1.3v1.3h-1.3zM293 107h1.3v1.3h-1.3zM293 108h1.3v1.3h-1.3zM293 108.5h1.3v1.3h-1.3zM293 109h1.3v1.3h-1.3zM293 110h1.3v1.3h-1.3zM293 110.5h1.3v1.3h-1.3zM293 111h1.3v1.3h-1.3zM293 111.5h1.3v1.3h-1.3zM293 112h1.3v1.3h-1.3zM293 112.5h1.3v1.3h-1.3zM293 113h1.3v1.3h-1.3zM293 114h1.3v1.3h-1.3zM293 114.5h1.3v1.3h-1.3zM293 115h1.3v1.3h-1.3zM293 115.5h1.3v1.3h-1.3zM293 116h1.3v1.3h-1.3zM293 116.5h1.3v1.3h-1.3zM293 117h1.3v1.3h-1.3zM293 117.5h1.3v1.3h-1.3zM293 118h1.3v1.3h-1.3zM293 118.5h1.3v1.3h-1.3zM293 119.5h1.3v1.3h-1.3zM293 120h1.3v1.3h-1.3zM293 120.5h1.3v1.3h-1.3zM293 121h1.3v1.3h-1.3zM293 121.5h1.3v1.3h-1.3zM293 122h1.3v1.3h-1.3zM293.5 76h1.3v1.3h-1.3zM293.5 79.5h1.3v1.3h-1.3zM293.5 87h1.3v1.3h-1.3zM293.5 88h1.3v1.3h-1.3zM293.5 95h1.3v1.3h-1.3zM293.5 96h1.3v1.3h-1.3zM293.5 97h1.3v1.3h-1.3zM293.5 98h1.3v1.3h-1.3zM293.5 98.5h1.3v1.3h-1.3zM293.5 100h1.3v1.3h-1.3zM293.5 100.5h1.3v1.3h-1.3zM293.5 101h1.3v1.3h-1.3zM293.5 104h1.3v1.3h-1.3zM293.5 105h1.3v1.3h-1.3zM293.5 106h1.3v1.3h-1.3zM293.5 106.5h1.3v1.3h-1.3zM293.5 107h1.3v1.3h-1.3zM293.5 108h1.3v1.3h-1.3zM293.5 108.5h1.3v1.3h-1.3zM293.5 109h1.3v1.3h-1.3zM293.5 109.5h1.3v1.3h-1.3zM293.5 110h1.3v1.3h-1.3zM293.5 110.5h1.3v1.3h-1.3zM293.5 111.5h1.3v1.3h-1.3zM293.5 112.5h1.3v1.3h-1.3zM293.5 113h1.3v1.3h-1.3zM293.5 114h1.3v1.3h-1.3zM293.5 114.5h1.3v1.3h-1.3zM293.5 115h1.3v1.3h-1.3zM293.5 117h1.3v1.3h-1.3zM293.5 117.5h1.3v1.3h-1.3zM293.5 118h1.3v1.3h-1.3zM293.5 118.5h1.3v1.3h-1.3zM293.5 120h1.3v1.3h-1.3zM293.5 121h1.3v1.3h-1.3zM293.5 121.5h1.3v1.3h-1.3zM294 73h1.3v1.3h-1.3zM294 85.5h1.3v1.3h-1.3zM294 89.5h1.3v1.3h-1.3zM294 92.5h1.3v1.3h-1.3zM294 95h1.3v1.3h-1.3zM294 100h1.3v1.3h-1.3zM294 100.5h1.3v1.3h-1.3zM294 102h1.3v1.3h-1.3zM294 102.5h1.3v1.3h-1.3zM294 105.5h1.3v1.3h-1.3zM294 106.5h1.3v1.3h-1.3zM294 107h1.3v1.3h-1.3zM294 108.5h1.3v1.3h-1.3zM294 109h1.3v1.3h-1.3zM294 109.5h1.3v1.3h-1.3zM294 110.5h1.3v1.3h-1.3zM294 112h1.3v1.3h-1.3zM294 113h1.3v1.3h-1.3zM294 113.5h1.3v1.3h-1.3zM294 114h1.3v1.3h-1.3zM294 115h1.3v1.3h-1.3zM294 115.5h1.3v1.3h-1.3zM294 116h1.3v1.3h-1.3zM294 116.5h1.3v1.3h-1.3zM294 117h1.3v1.3h-1.3zM294 117.5h1.3v1.3h-1.3zM294 118h1.3v1.3h-1.3zM294 118.5h1.3v1.3h-1.3zM294 119.5h1.3v1.3h-1.3zM294 120h1.3v1.3h-1.3zM294 120.5h1.3v1.3h-1.3zM294 121h1.3v1.3h-1.3zM294 121.5h1.3v1.3h-1.3zM294 122h1.3v1.3h-1.3zM294.5 66.5h1.3v1.3h-1.3zM294.5 74.5h1.3v1.3h-1.3zM294.5 79h1.3v1.3h-1.3zM294.5 81h1.3v1.3h-1.3zM294.5 82.5h1.3v1.3h-1.3zM294.5 83.5h1.3v1.3h-1.3zM294.5 87h1.3v1.3h-1.3zM294.5 92.5h1.3v1.3h-1.3zM294.5 97h1.3v1.3h-1.3zM294.5 98.5h1.3v1.3h-1.3zM294.5 100h1.3v1.3h-1.3zM294.5 100.5h1.3v1.3h-1.3zM294.5 101h1.3v1.3h-1.3zM294.5 102h1.3v1.3h-1.3zM294.5 102.5h1.3v1.3h-1.3zM294.5 104.5h1.3v1.3h-1.3zM294.5 105h1.3v1.3h-1.3zM294.5 107h1.3v1.3h-1.3zM294.5 107.5h1.3v1.3h-1.3zM294.5 108h1.3v1.3h-1.3zM294.5 108.5h1.3v1.3h-1.3zM294.5 109.5h1.3v1.3h-1.3zM294.5 110h1.3v1.3h-1.3zM294.5 110.5h1.3v1.3h-1.3zM294.5 112h1.3v1.3h-1.3zM294.5 113.5h1.3v1.3h-1.3zM294.5 114h1.3v1.3h-1.3zM294.5 114.5h1.3v1.3h-1.3zM294.5 115h1.3v1.3h-1.3zM294.5 115.5h1.3v1.3h-1.3zM294.5 116h1.3v1.3h-1.3zM294.5 116.5h1.3v1.3h-1.3zM294.5 117h1.3v1.3h-1.3zM294.5 118h1.3v1.3h-1.3zM294.5 118.5h1.3v1.3h-1.3zM294.5 119h1.3v1.3h-1.3zM294.5 120h1.3v1.3h-1.3zM294.5 120.5h1.3v1.3h-1.3zM294.5 121h1.3v1.3h-1.3zM294.5 121.5h1.3v1.3h-1.3zM294.5 122h1.3v1.3h-1.3zM295 65h1.3v1.3h-1.3zM295 69h1.3v1.3h-1.3zM295 79.5h1.3v1.3h-1.3zM295 83.5h1.3v1.3h-1.3zM295 86h1.3v1.3h-1.3zM295 87h1.3v1.3h-1.3zM295 88.5h1.3v1.3h-1.3zM295 91h1.3v1.3h-1.3zM295 92h1.3v1.3h-1.3zM295 92.5h1.3v1.3h-1.3zM295 95.5h1.3v1.3h-1.3zM295 97.5h1.3v1.3h-1.3zM295 99h1.3v1.3h-1.3zM295 99.5h1.3v1.3h-1.3zM295 100h1.3v1.3h-1.3zM295 101.5h1.3v1.3h-1.3zM295 102.5h1.3v1.3h-1.3zM295 103h1.3v1.3h-1.3zM295 104.5h1.3v1.3h-1.3zM295 105.5h1.3v1.3h-1.3zM295 107h1.3v1.3h-1.3zM295 107.5h1.3v1.3h-1.3zM295 108h1.3v1.3h-1.3zM295 108.5h1.3v1.3h-1.3zM295 110.5h1.3v1.3h-1.3zM295 111h1.3v1.3h-1.3zM295 112h1.3v1.3h-1.3zM295 112.5h1.3v1.3h-1.3zM295 113h1.3v1.3h-1.3zM295 113.5h1.3v1.3h-1.3zM295 114.5h1.3v1.3h-1.3zM295 115h1.3v1.3h-1.3zM295 115.5h1.3v1.3h-1.3zM295 116h1.3v1.3h-1.3zM295 116.5h1.3v1.3h-1.3zM295 119.5h1.3v1.3h-1.3zM295 120h1.3v1.3h-1.3zM295 120.5h1.3v1.3h-1.3zM295 121h1.3v1.3h-1.3zM295 121.5h1.3v1.3h-1.3zM295.5 56.5h1.3v1.3h-1.3zM295.5 65.5h1.3v1.3h-1.3zM295.5 69h1.3v1.3h-1.3zM295.5 74h1.3v1.3h-1.3zM295.5 81h1.3v1.3h-1.3zM295.5 82.5h1.3v1.3h-1.3zM295.5 83h1.3v1.3h-1.3zM295.5 85h1.3v1.3h-1.3zM295.5 87h1.3v1.3h-1.3zM295.5 89.5h1.3v1.3h-1.3zM295.5 90.5h1.3v1.3h-1.3zM295.5 92h1.3v1.3h-1.3zM295.5 94h1.3v1.3h-1.3zM295.5 94.5h1.3v1.3h-1.3zM295.5 95h1.3v1.3h-1.3zM295.5 96.5h1.3v1.3h-1.3zM295.5 97.5h1.3v1.3h-1.3zM295.5 98h1.3v1.3h-1.3zM295.5 101h1.3v1.3h-1.3zM295.5 101.5h1.3v1.3h-1.3zM295.5 102.5h1.3v1.3h-1.3zM295.5 106h1.3v1.3h-1.3zM295.5 106.5h1.3v1.3h-1.3zM295.5 107.5h1.3v1.3h-1.3zM295.5 108.5h1.3v1.3h-1.3zM295.5 109h1.3v1.3h-1.3zM295.5 110h1.3v1.3h-1.3zM295.5 110.5h1.3v1.3h-1.3zM295.5 111h1.3v1.3h-1.3zM295.5 111.5h1.3v1.3h-1.3zM295.5 112h1.3v1.3h-1.3zM295.5 114h1.3v1.3h-1.3zM295.5 115.5h1.3v1.3h-1.3zM295.5 117h1.3v1.3h-1.3zM295.5 117.5h1.3v1.3h-1.3zM295.5 118h1.3v1.3h-1.3zM295.5 118.5h1.3v1.3h-1.3zM295.5 119h1.3v1.3h-1.3zM295.5 119.5h1.3v1.3h-1.3zM295.5 120h1.3v1.3h-1.3zM295.5 120.5h1.3v1.3h-1.3zM295.5 121h1.3v1.3h-1.3zM295.5 122h1.3v1.3h-1.3zM296 65h1.3v1.3h-1.3zM296 84h1.3v1.3h-1.3zM296 86h1.3v1.3h-1.3zM296 89h1.3v1.3h-1.3zM296 90h1.3v1.3h-1.3zM296 90.5h1.3v1.3h-1.3zM296 95h1.3v1.3h-1.3zM296 95.5h1.3v1.3h-1.3zM296 96h1.3v1.3h-1.3zM296 97.5h1.3v1.3h-1.3zM296 98h1.3v1.3h-1.3zM296 98.5h1.3v1.3h-1.3zM296 99h1.3v1.3h-1.3zM296 100.5h1.3v1.3h-1.3zM296 102h1.3v1.3h-1.3zM296 103h1.3v1.3h-1.3zM296 104h1.3v1.3h-1.3zM296 108h1.3v1.3h-1.3zM296 109h1.3v1.3h-1.3zM296 109.5h1.3v1.3h-1.3zM296 110h1.3v1.3h-1.3zM296 111h1.3v1.3h-1.3zM296 111.5h1.3v1.3h-1.3zM296 112h1.3v1.3h-1.3zM296 112.5h1.3v1.3h-1.3zM296 113h1.3v1.3h-1.3zM296 113.5h1.3v1.3h-1.3zM296 114h1.3v1.3h-1.3zM296 114.5h1.3v1.3h-1.3zM296 115h1.3v1.3h-1.3zM296 115.5h1.3v1.3h-1.3zM296 116h1.3v1.3h-1.3zM296 116.5h1.3v1.3h-1.3zM296 117h1.3v1.3h-1.3zM296 118h1.3v1.3h-1.3zM296 118.5h1.3v1.3h-1.3zM296 119h1.3v1.3h-1.3zM296 120h1.3v1.3h-1.3zM296 120.5h1.3v1.3h-1.3zM296 121.5h1.3v1.3h-1.3zM296.5 76.5h1.3v1.3h-1.3zM296.5 78.5h1.3v1.3h-1.3zM296.5 81.5h1.3v1.3h-1.3zM296.5 82.5h1.3v1.3h-1.3zM296.5 85.5h1.3v1.3h-1.3zM296.5 90.5h1.3v1.3h-1.3zM296.5 91.5h1.3v1.3h-1.3zM296.5 92.5h1.3v1.3h-1.3zM296.5 94h1.3v1.3h-1.3zM296.5 95.5h1.3v1.3h-1.3zM296.5 97.5h1.3v1.3h-1.3zM296.5 98h1.3v1.3h-1.3zM296.5 99h1.3v1.3h-1.3zM296.5 99.5h1.3v1.3h-1.3zM296.5 100h1.3v1.3h-1.3zM296.5 100.5h1.3v1.3h-1.3zM296.5 101h1.3v1.3h-1.3zM296.5 102h1.3v1.3h-1.3zM296.5 103.5h1.3v1.3h-1.3zM296.5 106.5h1.3v1.3h-1.3zM296.5 108h1.3v1.3h-1.3zM296.5 109h1.3v1.3h-1.3zM296.5 109.5h1.3v1.3h-1.3zM296.5 110h1.3v1.3h-1.3zM296.5 112h1.3v1.3h-1.3zM296.5 112.5h1.3v1.3h-1.3zM296.5 114h1.3v1.3h-1.3zM296.5 114.5h1.3v1.3h-1.3zM296.5 115h1.3v1.3h-1.3zM296.5 115.5h1.3v1.3h-1.3zM296.5 116h1.3v1.3h-1.3zM296.5 116.5h1.3v1.3h-1.3zM296.5 117h1.3v1.3h-1.3zM296.5 119h1.3v1.3h-1.3zM296.5 120h1.3v1.3h-1.3zM296.5 120.5h1.3v1.3h-1.3zM296.5 121h1.3v1.3h-1.3zM296.5 121.5h1.3v1.3h-1.3zM296.5 122h1.3v1.3h-1.3zM297 66h1.3v1.3h-1.3zM297 79.5h1.3v1.3h-1.3zM297 83h1.3v1.3h-1.3zM297 91.5h1.3v1.3h-1.3zM297 92h1.3v1.3h-1.3zM297 93h1.3v1.3h-1.3zM297 95.5h1.3v1.3h-1.3zM297 97h1.3v1.3h-1.3zM297 97.5h1.3v1.3h-1.3zM297 98h1.3v1.3h-1.3zM297 98.5h1.3v1.3h-1.3zM297 99.5h1.3v1.3h-1.3zM297 101.5h1.3v1.3h-1.3zM297 104.5h1.3v1.3h-1.3zM297 105h1.3v1.3h-1.3zM297 107h1.3v1.3h-1.3zM297 107.5h1.3v1.3h-1.3zM297 108h1.3v1.3h-1.3zM297 109.5h1.3v1.3h-1.3zM297 110h1.3v1.3h-1.3zM297 111.5h1.3v1.3h-1.3zM297 112h1.3v1.3h-1.3zM297 113h1.3v1.3h-1.3zM297 113.5h1.3v1.3h-1.3zM297 114h1.3v1.3h-1.3zM297 114.5h1.3v1.3h-1.3zM297 115h1.3v1.3h-1.3zM297 117h1.3v1.3h-1.3zM297 117.5h1.3v1.3h-1.3zM297 118h1.3v1.3h-1.3zM297 119h1.3v1.3h-1.3zM297 119.5h1.3v1.3h-1.3zM297 120h1.3v1.3h-1.3zM297 120.5h1.3v1.3h-1.3zM297 121h1.3v1.3h-1.3zM297 122h1.3v1.3h-1.3zM297.5 66.5h1.3v1.3h-1.3zM297.5 67.5h1.3v1.3h-1.3zM297.5 70h1.3v1.3h-1.3zM297.5 82h1.3v1.3h-1.3zM297.5 83h1.3v1.3h-1.3zM297.5 86h1.3v1.3h-1.3zM297.5 87.5h1.3v1.3h-1.3zM297.5 91h1.3v1.3h-1.3zM297.5 91.5h1.3v1.3h-1.3zM297.5 92h1.3v1.3h-1.3zM297.5 94h1.3v1.3h-1.3zM297.5 96h1.3v1.3h-1.3zM297.5 98h1.3v1.3h-1.3zM297.5 99.5h1.3v1.3h-1.3zM297.5 100.5h1.3v1.3h-1.3zM297.5 101h1.3v1.3h-1.3zM297.5 101.5h1.3v1.3h-1.3zM297.5 102h1.3v1.3h-1.3zM297.5 103h1.3v1.3h-1.3zM297.5 104.5h1.3v1.3h-1.3zM297.5 105h1.3v1.3h-1.3zM297.5 106.5h1.3v1.3h-1.3zM297.5 107h1.3v1.3h-1.3zM297.5 107.5h1.3v1.3h-1.3zM297.5 108h1.3v1.3h-1.3zM297.5 109.5h1.3v1.3h-1.3zM297.5 110.5h1.3v1.3h-1.3zM297.5 111.5h1.3v1.3h-1.3zM297.5 112h1.3v1.3h-1.3zM297.5 112.5h1.3v1.3h-1.3zM297.5 113h1.3v1.3h-1.3zM297.5 113.5h1.3v1.3h-1.3zM297.5 114h1.3v1.3h-1.3zM297.5 115h1.3v1.3h-1.3zM297.5 115.5h1.3v1.3h-1.3zM297.5 116h1.3v1.3h-1.3zM297.5 117.5h1.3v1.3h-1.3zM297.5 118h1.3v1.3h-1.3zM297.5 118.5h1.3v1.3h-1.3zM297.5 119.5h1.3v1.3h-1.3zM297.5 120h1.3v1.3h-1.3zM297.5 120.5h1.3v1.3h-1.3zM297.5 121h1.3v1.3h-1.3zM297.5 121.5h1.3v1.3h-1.3zM297.5 122h1.3v1.3h-1.3zM298 59.5h1.3v1.3h-1.3zM298 61.5h1.3v1.3h-1.3zM298 70h1.3v1.3h-1.3zM298 72.5h1.3v1.3h-1.3zM298 73h1.3v1.3h-1.3zM298 74.5h1.3v1.3h-1.3zM298 75h1.3v1.3h-1.3zM298 75.5h1.3v1.3h-1.3zM298 80.5h1.3v1.3h-1.3zM298 82.5h1.3v1.3h-1.3zM298 83h1.3v1.3h-1.3zM298 84h1.3v1.3h-1.3zM298 89h1.3v1.3h-1.3zM298 91.5h1.3v1.3h-1.3zM298 92h1.3v1.3h-1.3zM298 94h1.3v1.3h-1.3zM298 95h1.3v1.3h-1.3zM298 95.5h1.3v1.3h-1.3zM298 96.5h1.3v1.3h-1.3zM298 97h1.3v1.3h-1.3zM298 98.5h1.3v1.3h-1.3zM298 100h1.3v1.3h-1.3zM298 100.5h1.3v1.3h-1.3zM298 101.5h1.3v1.3h-1.3zM298 102.5h1.3v1.3h-1.3zM298 103h1.3v1.3h-1.3zM298 104.5h1.3v1.3h-1.3zM298 105h1.3v1.3h-1.3zM298 105.5h1.3v1.3h-1.3zM298 107h1.3v1.3h-1.3zM298 107.5h1.3v1.3h-1.3zM298 108h1.3v1.3h-1.3zM298 108.5h1.3v1.3h-1.3zM298 112.5h1.3v1.3h-1.3zM298 114h1.3v1.3h-1.3zM298 114.5h1.3v1.3h-1.3zM298 115h1.3v1.3h-1.3zM298 116h1.3v1.3h-1.3zM298 116.5h1.3v1.3h-1.3zM298 117.5h1.3v1.3h-1.3zM298 118h1.3v1.3h-1.3zM298 119.5h1.3v1.3h-1.3zM298 120h1.3v1.3h-1.3zM298 120.5h1.3v1.3h-1.3zM298 121.5h1.3v1.3h-1.3zM298 122h1.3v1.3h-1.3zM298.5 62.5h1.3v1.3h-1.3zM298.5 73.5h1.3v1.3h-1.3zM298.5 75.5h1.3v1.3h-1.3zM298.5 76.5h1.3v1.3h-1.3zM298.5 77h1.3v1.3h-1.3zM298.5 82.5h1.3v1.3h-1.3zM298.5 85.5h1.3v1.3h-1.3zM298.5 86h1.3v1.3h-1.3zM298.5 87h1.3v1.3h-1.3zM298.5 87.5h1.3v1.3h-1.3zM298.5 88.5h1.3v1.3h-1.3zM298.5 90h1.3v1.3h-1.3zM298.5 91h1.3v1.3h-1.3zM298.5 92.5h1.3v1.3h-1.3zM298.5 93h1.3v1.3h-1.3zM298.5 95h1.3v1.3h-1.3zM298.5 97.5h1.3v1.3h-1.3zM298.5 99.5h1.3v1.3h-1.3zM298.5 100h1.3v1.3h-1.3zM298.5 101h1.3v1.3h-1.3zM298.5 102.5h1.3v1.3h-1.3zM298.5 103.5h1.3v1.3h-1.3zM298.5 106.5h1.3v1.3h-1.3zM298.5 107.5h1.3v1.3h-1.3zM298.5 108.5h1.3v1.3h-1.3zM298.5 109h1.3v1.3h-1.3zM298.5 110h1.3v1.3h-1.3zM298.5 110.5h1.3v1.3h-1.3zM298.5 112h1.3v1.3h-1.3zM298.5 112.5h1.3v1.3h-1.3zM298.5 113h1.3v1.3h-1.3zM298.5 113.5h1.3v1.3h-1.3zM298.5 114h1.3v1.3h-1.3zM298.5 114.5h1.3v1.3h-1.3zM298.5 115h1.3v1.3h-1.3zM298.5 115.5h1.3v1.3h-1.3zM298.5 116.5h1.3v1.3h-1.3zM298.5 118h1.3v1.3h-1.3zM298.5 119h1.3v1.3h-1.3zM298.5 119.5h1.3v1.3h-1.3zM298.5 120h1.3v1.3h-1.3zM298.5 120.5h1.3v1.3h-1.3zM298.5 121h1.3v1.3h-1.3zM298.5 121.5h1.3v1.3h-1.3zM299 50.5h1.3v1.3h-1.3zM299 62h1.3v1.3h-1.3zM299 74h1.3v1.3h-1.3zM299 75.5h1.3v1.3h-1.3zM299 84h1.3v1.3h-1.3zM299 85h1.3v1.3h-1.3zM299 86.5h1.3v1.3h-1.3zM299 90h1.3v1.3h-1.3zM299 90.5h1.3v1.3h-1.3zM299 92.5h1.3v1.3h-1.3zM299 96h1.3v1.3h-1.3zM299 97h1.3v1.3h-1.3zM299 97.5h1.3v1.3h-1.3zM299 100.5h1.3v1.3h-1.3zM299 101.5h1.3v1.3h-1.3zM299 103.5h1.3v1.3h-1.3zM299 104.5h1.3v1.3h-1.3zM299 106h1.3v1.3h-1.3zM299 106.5h1.3v1.3h-1.3zM299 107h1.3v1.3h-1.3zM299 108h1.3v1.3h-1.3zM299 108.5h1.3v1.3h-1.3zM299 109.5h1.3v1.3h-1.3zM299 110h1.3v1.3h-1.3zM299 111h1.3v1.3h-1.3zM299 111.5h1.3v1.3h-1.3zM299 112h1.3v1.3h-1.3zM299 113h1.3v1.3h-1.3zM299 113.5h1.3v1.3h-1.3zM299 114h1.3v1.3h-1.3zM299 115.5h1.3v1.3h-1.3zM299 116.5h1.3v1.3h-1.3zM299 117.5h1.3v1.3h-1.3zM299 118h1.3v1.3h-1.3zM299 118.5h1.3v1.3h-1.3zM299 119h1.3v1.3h-1.3zM299 119.5h1.3v1.3h-1.3zM299 120h1.3v1.3h-1.3zM299 120.5h1.3v1.3h-1.3zM299 121h1.3v1.3h-1.3zM299 121.5h1.3v1.3h-1.3zM299 122h1.3v1.3h-1.3zM299.5 46h1.3v1.3h-1.3zM299.5 48h1.3v1.3h-1.3zM299.5 73h1.3v1.3h-1.3zM299.5 76h1.3v1.3h-1.3zM299.5 79h1.3v1.3h-1.3zM299.5 81h1.3v1.3h-1.3zM299.5 87.5h1.3v1.3h-1.3zM299.5 89.5h1.3v1.3h-1.3zM299.5 92.5h1.3v1.3h-1.3zM299.5 94h1.3v1.3h-1.3zM299.5 95h1.3v1.3h-1.3zM299.5 96h1.3v1.3h-1.3zM299.5 98h1.3v1.3h-1.3zM299.5 99.5h1.3v1.3h-1.3zM299.5 100h1.3v1.3h-1.3zM299.5 101h1.3v1.3h-1.3zM299.5 101.5h1.3v1.3h-1.3zM299.5 102h1.3v1.3h-1.3zM299.5 105h1.3v1.3h-1.3zM299.5 106h1.3v1.3h-1.3zM299.5 108h1.3v1.3h-1.3zM299.5 108.5h1.3v1.3h-1.3zM299.5 110h1.3v1.3h-1.3zM299.5 112h1.3v1.3h-1.3zM299.5 113h1.3v1.3h-1.3zM299.5 114.5h1.3v1.3h-1.3zM299.5 115h1.3v1.3h-1.3zM299.5 115.5h1.3v1.3h-1.3zM299.5 116h1.3v1.3h-1.3zM299.5 116.5h1.3v1.3h-1.3zM299.5 117h1.3v1.3h-1.3zM299.5 117.5h1.3v1.3h-1.3zM299.5 118h1.3v1.3h-1.3zM299.5 118.5h1.3v1.3h-1.3zM299.5 119h1.3v1.3h-1.3zM299.5 120h1.3v1.3h-1.3zM299.5 121.5h1.3v1.3h-1.3zM299.5 122h1.3v1.3h-1.3zM300 62h1.3v1.3h-1.3zM300 73.5h1.3v1.3h-1.3zM300 74.5h1.3v1.3h-1.3zM300 83h1.3v1.3h-1.3zM300 87h1.3v1.3h-1.3zM300 87.5h1.3v1.3h-1.3zM300 89.5h1.3v1.3h-1.3zM300 90h1.3v1.3h-1.3zM300 90.5h1.3v1.3h-1.3zM300 94h1.3v1.3h-1.3zM300 95h1.3v1.3h-1.3zM300 96h1.3v1.3h-1.3zM300 97.5h1.3v1.3h-1.3zM300 99h1.3v1.3h-1.3zM300 100h1.3v1.3h-1.3zM300 101h1.3v1.3h-1.3zM300 101.5h1.3v1.3h-1.3zM300 104h1.3v1.3h-1.3zM300 106h1.3v1.3h-1.3zM300 109h1.3v1.3h-1.3zM300 110h1.3v1.3h-1.3zM300 110.5h1.3v1.3h-1.3zM300 111h1.3v1.3h-1.3zM300 111.5h1.3v1.3h-1.3zM300 113h1.3v1.3h-1.3zM300 114.5h1.3v1.3h-1.3zM300 115h1.3v1.3h-1.3zM300 116h1.3v1.3h-1.3zM300 117h1.3v1.3h-1.3zM300 118h1.3v1.3h-1.3zM300 118.5h1.3v1.3h-1.3zM300 119h1.3v1.3h-1.3zM300 119.5h1.3v1.3h-1.3zM300 120h1.3v1.3h-1.3zM300 120.5h1.3v1.3h-1.3zM300 121h1.3v1.3h-1.3zM300 121.5h1.3v1.3h-1.3zM300.5 76.5h1.3v1.3h-1.3zM300.5 80h1.3v1.3h-1.3zM300.5 81h1.3v1.3h-1.3zM300.5 84h1.3v1.3h-1.3zM300.5 84.5h1.3v1.3h-1.3zM300.5 85.5h1.3v1.3h-1.3zM300.5 86h1.3v1.3h-1.3zM300.5 87h1.3v1.3h-1.3zM300.5 90h1.3v1.3h-1.3zM300.5 96h1.3v1.3h-1.3zM300.5 97.5h1.3v1.3h-1.3zM300.5 99h1.3v1.3h-1.3zM300.5 99.5h1.3v1.3h-1.3zM300.5 100h1.3v1.3h-1.3zM300.5 102h1.3v1.3h-1.3zM300.5 103h1.3v1.3h-1.3zM300.5 103.5h1.3v1.3h-1.3zM300.5 105.5h1.3v1.3h-1.3zM300.5 108h1.3v1.3h-1.3zM300.5 111h1.3v1.3h-1.3zM300.5 112h1.3v1.3h-1.3zM300.5 112.5h1.3v1.3h-1.3zM300.5 113h1.3v1.3h-1.3zM300.5 113.5h1.3v1.3h-1.3zM300.5 114h1.3v1.3h-1.3zM300.5 114.5h1.3v1.3h-1.3zM300.5 115h1.3v1.3h-1.3zM300.5 115.5h1.3v1.3h-1.3zM300.5 116.5h1.3v1.3h-1.3zM300.5 117h1.3v1.3h-1.3zM300.5 117.5h1.3v1.3h-1.3zM300.5 118h1.3v1.3h-1.3zM300.5 118.5h1.3v1.3h-1.3zM300.5 119h1.3v1.3h-1.3zM300.5 119.5h1.3v1.3h-1.3zM300.5 120h1.3v1.3h-1.3zM300.5 120.5h1.3v1.3h-1.3zM300.5 121.5h1.3v1.3h-1.3zM300.5 122h1.3v1.3h-1.3zM301 48h1.3v1.3h-1.3zM301 51.5h1.3v1.3h-1.3zM301 72h1.3v1.3h-1.3zM301 74h1.3v1.3h-1.3zM301 77h1.3v1.3h-1.3zM301 77.5h1.3v1.3h-1.3zM301 79h1.3v1.3h-1.3zM301 81.5h1.3v1.3h-1.3zM301 82h1.3v1.3h-1.3zM301 87h1.3v1.3h-1.3zM301 87.5h1.3v1.3h-1.3zM301 88h1.3v1.3h-1.3zM301 90.5h1.3v1.3h-1.3zM301 92.5h1.3v1.3h-1.3zM301 93h1.3v1.3h-1.3zM301 95.5h1.3v1.3h-1.3zM301 96h1.3v1.3h-1.3zM301 98.5h1.3v1.3h-1.3zM301 101h1.3v1.3h-1.3zM301 102.5h1.3v1.3h-1.3zM301 103h1.3v1.3h-1.3zM301 104.5h1.3v1.3h-1.3zM301 106h1.3v1.3h-1.3zM301 106.5h1.3v1.3h-1.3zM301 107h1.3v1.3h-1.3zM301 107.5h1.3v1.3h-1.3zM301 108.5h1.3v1.3h-1.3zM301 109h1.3v1.3h-1.3zM301 110h1.3v1.3h-1.3zM301 111h1.3v1.3h-1.3zM301 112.5h1.3v1.3h-1.3zM301 113h1.3v1.3h-1.3zM301 113.5h1.3v1.3h-1.3zM301 114h1.3v1.3h-1.3zM301 114.5h1.3v1.3h-1.3zM301 115.5h1.3v1.3h-1.3zM301 116h1.3v1.3h-1.3zM301 117h1.3v1.3h-1.3zM301 118h1.3v1.3h-1.3zM301 119h1.3v1.3h-1.3zM301 119.5h1.3v1.3h-1.3zM301 120h1.3v1.3h-1.3zM301 120.5h1.3v1.3h-1.3zM301 121h1.3v1.3h-1.3zM301 121.5h1.3v1.3h-1.3zM301.5 65h1.3v1.3h-1.3zM301.5 81.5h1.3v1.3h-1.3zM301.5 90h1.3v1.3h-1.3zM301.5 93h1.3v1.3h-1.3zM301.5 94.5h1.3v1.3h-1.3zM301.5 96h1.3v1.3h-1.3zM301.5 97h1.3v1.3h-1.3zM301.5 99.5h1.3v1.3h-1.3zM301.5 102h1.3v1.3h-1.3zM301.5 103h1.3v1.3h-1.3zM301.5 103.5h1.3v1.3h-1.3zM301.5 104h1.3v1.3h-1.3zM301.5 105h1.3v1.3h-1.3zM301.5 105.5h1.3v1.3h-1.3zM301.5 106.5h1.3v1.3h-1.3zM301.5 107h1.3v1.3h-1.3zM301.5 108.5h1.3v1.3h-1.3zM301.5 111h1.3v1.3h-1.3zM301.5 113h1.3v1.3h-1.3zM301.5 114h1.3v1.3h-1.3zM301.5 115h1.3v1.3h-1.3zM301.5 115.5h1.3v1.3h-1.3zM301.5 116.5h1.3v1.3h-1.3zM301.5 117h1.3v1.3h-1.3zM301.5 118h1.3v1.3h-1.3zM301.5 119h1.3v1.3h-1.3zM301.5 119.5h1.3v1.3h-1.3zM301.5 120h1.3v1.3h-1.3zM301.5 120.5h1.3v1.3h-1.3zM301.5 121.5h1.3v1.3h-1.3zM301.5 122h1.3v1.3h-1.3zM302 56.5h1.3v1.3h-1.3zM302 57.5h1.3v1.3h-1.3zM302 72h1.3v1.3h-1.3zM302 78.5h1.3v1.3h-1.3zM302 79h1.3v1.3h-1.3zM302 87h1.3v1.3h-1.3zM302 95.5h1.3v1.3h-1.3zM302 97.5h1.3v1.3h-1.3zM302 99h1.3v1.3h-1.3zM302 101.5h1.3v1.3h-1.3zM302 102.5h1.3v1.3h-1.3zM302 103h1.3v1.3h-1.3zM302 104h1.3v1.3h-1.3zM302 105h1.3v1.3h-1.3zM302 107.5h1.3v1.3h-1.3zM302 108h1.3v1.3h-1.3zM302 110h1.3v1.3h-1.3zM302 110.5h1.3v1.3h-1.3zM302 111h1.3v1.3h-1.3zM302 112h1.3v1.3h-1.3zM302 112.5h1.3v1.3h-1.3zM302 113.5h1.3v1.3h-1.3zM302 114h1.3v1.3h-1.3zM302 115h1.3v1.3h-1.3zM302 116h1.3v1.3h-1.3zM302 116.5h1.3v1.3h-1.3zM302 117h1.3v1.3h-1.3zM302 117.5h1.3v1.3h-1.3zM302 120h1.3v1.3h-1.3zM302 120.5h1.3v1.3h-1.3zM302 121h1.3v1.3h-1.3zM302 122h1.3v1.3h-1.3zM302.5 67.5h1.3v1.3h-1.3zM302.5 79.5h1.3v1.3h-1.3zM302.5 84h1.3v1.3h-1.3zM302.5 85.5h1.3v1.3h-1.3zM302.5 86.5h1.3v1.3h-1.3zM302.5 88h1.3v1.3h-1.3zM302.5 90h1.3v1.3h-1.3zM302.5 90.5h1.3v1.3h-1.3zM302.5 91.5h1.3v1.3h-1.3zM302.5 93.5h1.3v1.3h-1.3zM302.5 97h1.3v1.3h-1.3zM302.5 101.5h1.3v1.3h-1.3zM302.5 102.5h1.3v1.3h-1.3zM302.5 103.5h1.3v1.3h-1.3zM302.5 106h1.3v1.3h-1.3zM302.5 106.5h1.3v1.3h-1.3zM302.5 107.5h1.3v1.3h-1.3zM302.5 110h1.3v1.3h-1.3zM302.5 112.5h1.3v1.3h-1.3zM302.5 114.5h1.3v1.3h-1.3zM302.5 115h1.3v1.3h-1.3zM302.5 115.5h1.3v1.3h-1.3zM302.5 116.5h1.3v1.3h-1.3zM302.5 117h1.3v1.3h-1.3zM302.5 117.5h1.3v1.3h-1.3zM302.5 118h1.3v1.3h-1.3zM302.5 118.5h1.3v1.3h-1.3zM302.5 119h1.3v1.3h-1.3zM302.5 119.5h1.3v1.3h-1.3zM302.5 120h1.3v1.3h-1.3zM302.5 120.5h1.3v1.3h-1.3zM302.5 121.5h1.3v1.3h-1.3zM302.5 122h1.3v1.3h-1.3zM303 56h1.3v1.3h-1.3zM303 82h1.3v1.3h-1.3zM303 83h1.3v1.3h-1.3zM303 86h1.3v1.3h-1.3zM303 90h1.3v1.3h-1.3zM303 91h1.3v1.3h-1.3zM303 92.5h1.3v1.3h-1.3zM303 93h1.3v1.3h-1.3zM303 95.5h1.3v1.3h-1.3zM303 104.5h1.3v1.3h-1.3zM303 105.5h1.3v1.3h-1.3zM303 107h1.3v1.3h-1.3zM303 109h1.3v1.3h-1.3zM303 110h1.3v1.3h-1.3zM303 110.5h1.3v1.3h-1.3zM303 111h1.3v1.3h-1.3zM303 111.5h1.3v1.3h-1.3zM303 114h1.3v1.3h-1.3zM303 114.5h1.3v1.3h-1.3zM303 115h1.3v1.3h-1.3zM303 117h1.3v1.3h-1.3zM303 117.5h1.3v1.3h-1.3zM303 118h1.3v1.3h-1.3zM303 118.5h1.3v1.3h-1.3zM303 119h1.3v1.3h-1.3zM303 119.5h1.3v1.3h-1.3zM303 120.5h1.3v1.3h-1.3zM303 121h1.3v1.3h-1.3zM303 121.5h1.3v1.3h-1.3zM303.5 59.5h1.3v1.3h-1.3zM303.5 92.5h1.3v1.3h-1.3zM303.5 95.5h1.3v1.3h-1.3zM303.5 100h1.3v1.3h-1.3zM303.5 103.5h1.3v1.3h-1.3zM303.5 104h1.3v1.3h-1.3zM303.5 105h1.3v1.3h-1.3zM303.5 105.5h1.3v1.3h-1.3zM303.5 106.5h1.3v1.3h-1.3zM303.5 107.5h1.3v1.3h-1.3zM303.5 108.5h1.3v1.3h-1.3zM303.5 109h1.3v1.3h-1.3zM303.5 111h1.3v1.3h-1.3zM303.5 111.5h1.3v1.3h-1.3zM303.5 112.5h1.3v1.3h-1.3zM303.5 113h1.3v1.3h-1.3zM303.5 115h1.3v1.3h-1.3zM303.5 115.5h1.3v1.3h-1.3zM303.5 116h1.3v1.3h-1.3zM303.5 116.5h1.3v1.3h-1.3zM303.5 117h1.3v1.3h-1.3zM303.5 117.5h1.3v1.3h-1.3zM303.5 118h1.3v1.3h-1.3zM303.5 118.5h1.3v1.3h-1.3zM303.5 119h1.3v1.3h-1.3zM303.5 119.5h1.3v1.3h-1.3zM303.5 120h1.3v1.3h-1.3zM303.5 120.5h1.3v1.3h-1.3zM303.5 121h1.3v1.3h-1.3zM303.5 121.5h1.3v1.3h-1.3zM303.5 122h1.3v1.3h-1.3zM304 82h1.3v1.3h-1.3zM304 89h1.3v1.3h-1.3zM304 89.5h1.3v1.3h-1.3zM304 90h1.3v1.3h-1.3zM304 92h1.3v1.3h-1.3zM304 94.5h1.3v1.3h-1.3zM304 98h1.3v1.3h-1.3zM304 102h1.3v1.3h-1.3zM304 102.5h1.3v1.3h-1.3zM304 103h1.3v1.3h-1.3zM304 104h1.3v1.3h-1.3zM304 105.5h1.3v1.3h-1.3zM304 106h1.3v1.3h-1.3zM304 107.5h1.3v1.3h-1.3zM304 109.5h1.3v1.3h-1.3zM304 110h1.3v1.3h-1.3zM304 111h1.3v1.3h-1.3zM304 112h1.3v1.3h-1.3zM304 113h1.3v1.3h-1.3zM304 114h1.3v1.3h-1.3zM304 114.5h1.3v1.3h-1.3zM304 115.5h1.3v1.3h-1.3zM304 116h1.3v1.3h-1.3zM304 116.5h1.3v1.3h-1.3zM304 117h1.3v1.3h-1.3zM304 117.5h1.3v1.3h-1.3zM304 118h1.3v1.3h-1.3zM304 118.5h1.3v1.3h-1.3zM304 119.5h1.3v1.3h-1.3zM304 120.5h1.3v1.3h-1.3zM304 121.5h1.3v1.3h-1.3zM304 122h1.3v1.3h-1.3zM304.5 93.5h1.3v1.3h-1.3zM304.5 102.5h1.3v1.3h-1.3zM304.5 107h1.3v1.3h-1.3zM304.5 107.5h1.3v1.3h-1.3zM304.5 108.5h1.3v1.3h-1.3zM304.5 109.5h1.3v1.3h-1.3zM304.5 110h1.3v1.3h-1.3zM304.5 110.5h1.3v1.3h-1.3zM304.5 111h1.3v1.3h-1.3zM304.5 112h1.3v1.3h-1.3zM304.5 112.5h1.3v1.3h-1.3zM304.5 114.5h1.3v1.3h-1.3zM304.5 115h1.3v1.3h-1.3zM304.5 115.5h1.3v1.3h-1.3zM304.5 117h1.3v1.3h-1.3zM304.5 117.5h1.3v1.3h-1.3zM304.5 118.5h1.3v1.3h-1.3zM304.5 119.5h1.3v1.3h-1.3zM304.5 120h1.3v1.3h-1.3zM304.5 120.5h1.3v1.3h-1.3zM304.5 121.5h1.3v1.3h-1.3zM304.5 122h1.3v1.3h-1.3zM305 102.5h1.3v1.3h-1.3zM305 104h1.3v1.3h-1.3zM305 106h1.3v1.3h-1.3zM305 106.5h1.3v1.3h-1.3zM305 108h1.3v1.3h-1.3zM305 109h1.3v1.3h-1.3zM305 110h1.3v1.3h-1.3zM305 110.5h1.3v1.3h-1.3zM305 111h1.3v1.3h-1.3zM305 112.5h1.3v1.3h-1.3zM305 113h1.3v1.3h-1.3zM305 113.5h1.3v1.3h-1.3zM305 114h1.3v1.3h-1.3zM305 114.5h1.3v1.3h-1.3zM305 115h1.3v1.3h-1.3zM305 115.5h1.3v1.3h-1.3zM305 116.5h1.3v1.3h-1.3zM305 117.5h1.3v1.3h-1.3zM305 118.5h1.3v1.3h-1.3zM305 119.5h1.3v1.3h-1.3zM305 120h1.3v1.3h-1.3zM305 120.5h1.3v1.3h-1.3zM305 121h1.3v1.3h-1.3zM305 121.5h1.3v1.3h-1.3zM305 122h1.3v1.3h-1.3zM305.5 78h1.3v1.3h-1.3zM305.5 94.5h1.3v1.3h-1.3zM305.5 95.5h1.3v1.3h-1.3zM305.5 97.5h1.3v1.3h-1.3zM305.5 100.5h1.3v1.3h-1.3zM305.5 103h1.3v1.3h-1.3zM305.5 104h1.3v1.3h-1.3zM305.5 106.5h1.3v1.3h-1.3zM305.5 107.5h1.3v1.3h-1.3zM305.5 109h1.3v1.3h-1.3zM305.5 109.5h1.3v1.3h-1.3zM305.5 110h1.3v1.3h-1.3zM305.5 110.5h1.3v1.3h-1.3zM305.5 111h1.3v1.3h-1.3zM305.5 111.5h1.3v1.3h-1.3zM305.5 112h1.3v1.3h-1.3zM305.5 112.5h1.3v1.3h-1.3zM305.5 113h1.3v1.3h-1.3zM305.5 113.5h1.3v1.3h-1.3zM305.5 114h1.3v1.3h-1.3zM305.5 114.5h1.3v1.3h-1.3zM305.5 115h1.3v1.3h-1.3zM305.5 115.5h1.3v1.3h-1.3zM305.5 116h1.3v1.3h-1.3zM305.5 117h1.3v1.3h-1.3zM305.5 117.5h1.3v1.3h-1.3zM305.5 118.5h1.3v1.3h-1.3zM305.5 119h1.3v1.3h-1.3zM305.5 120.5h1.3v1.3h-1.3zM305.5 121h1.3v1.3h-1.3zM305.5 121.5h1.3v1.3h-1.3zM305.5 122h1.3v1.3h-1.3zM306 92.5h1.3v1.3h-1.3zM306 99.5h1.3v1.3h-1.3zM306 100.5h1.3v1.3h-1.3zM306 105h1.3v1.3h-1.3zM306 105.5h1.3v1.3h-1.3zM306 108h1.3v1.3h-1.3zM306 109h1.3v1.3h-1.3zM306 109.5h1.3v1.3h-1.3zM306 111h1.3v1.3h-1.3zM306 111.5h1.3v1.3h-1.3zM306 112h1.3v1.3h-1.3zM306 112.5h1.3v1.3h-1.3zM306 113.5h1.3v1.3h-1.3zM306 114.5h1.3v1.3h-1.3zM306 115.5h1.3v1.3h-1.3zM306 116h1.3v1.3h-1.3zM306 117h1.3v1.3h-1.3zM306 118.5h1.3v1.3h-1.3zM306 119h1.3v1.3h-1.3zM306 119.5h1.3v1.3h-1.3zM306 120h1.3v1.3h-1.3zM306 120.5h1.3v1.3h-1.3zM306 121h1.3v1.3h-1.3zM306 121.5h1.3v1.3h-1.3zM306.5 96h1.3v1.3h-1.3zM306.5 99h1.3v1.3h-1.3zM306.5 102h1.3v1.3h-1.3zM306.5 102.5h1.3v1.3h-1.3zM306.5 106.5h1.3v1.3h-1.3zM306.5 108h1.3v1.3h-1.3zM306.5 110.5h1.3v1.3h-1.3zM306.5 111h1.3v1.3h-1.3zM306.5 111.5h1.3v1.3h-1.3zM306.5 113h1.3v1.3h-1.3zM306.5 113.5h1.3v1.3h-1.3zM306.5 115h1.3v1.3h-1.3zM306.5 115.5h1.3v1.3h-1.3zM306.5 117h1.3v1.3h-1.3zM306.5 117.5h1.3v1.3h-1.3zM306.5 118.5h1.3v1.3h-1.3zM306.5 119h1.3v1.3h-1.3zM306.5 120.5h1.3v1.3h-1.3zM306.5 122h1.3v1.3h-1.3zM307 90h1.3v1.3h-1.3zM307 94.5h1.3v1.3h-1.3zM307 99.5h1.3v1.3h-1.3zM307 102.5h1.3v1.3h-1.3zM307 105.5h1.3v1.3h-1.3zM307 108h1.3v1.3h-1.3zM307 109h1.3v1.3h-1.3zM307 109.5h1.3v1.3h-1.3zM307 110.5h1.3v1.3h-1.3zM307 114h1.3v1.3h-1.3zM307 114.5h1.3v1.3h-1.3zM307 115h1.3v1.3h-1.3zM307 115.5h1.3v1.3h-1.3zM307 116h1.3v1.3h-1.3zM307 116.5h1.3v1.3h-1.3zM307 117h1.3v1.3h-1.3zM307 117.5h1.3v1.3h-1.3zM307 118.5h1.3v1.3h-1.3zM307 119h1.3v1.3h-1.3zM307 119.5h1.3v1.3h-1.3zM307 120h1.3v1.3h-1.3zM307 120.5h1.3v1.3h-1.3zM307 121h1.3v1.3h-1.3zM307 121.5h1.3v1.3h-1.3zM307 122h1.3v1.3h-1.3zM307.5 94h1.3v1.3h-1.3zM307.5 98h1.3v1.3h-1.3zM307.5 100.5h1.3v1.3h-1.3zM307.5 104h1.3v1.3h-1.3zM307.5 105.5h1.3v1.3h-1.3zM307.5 106.5h1.3v1.3h-1.3zM307.5 108.5h1.3v1.3h-1.3zM307.5 109h1.3v1.3h-1.3zM307.5 112.5h1.3v1.3h-1.3zM307.5 113.5h1.3v1.3h-1.3zM307.5 114h1.3v1.3h-1.3zM307.5 114.5h1.3v1.3h-1.3zM307.5 115h1.3v1.3h-1.3zM307.5 115.5h1.3v1.3h-1.3zM307.5 116h1.3v1.3h-1.3zM307.5 116.5h1.3v1.3h-1.3zM307.5 117.5h1.3v1.3h-1.3zM307.5 118h1.3v1.3h-1.3zM307.5 118.5h1.3v1.3h-1.3zM307.5 119h1.3v1.3h-1.3zM307.5 120h1.3v1.3h-1.3zM307.5 120.5h1.3v1.3h-1.3zM307.5 121.5h1.3v1.3h-1.3zM308 101h1.3v1.3h-1.3zM308 103h1.3v1.3h-1.3zM308 106h1.3v1.3h-1.3zM308 107h1.3v1.3h-1.3zM308 107.5h1.3v1.3h-1.3zM308 108h1.3v1.3h-1.3zM308 108.5h1.3v1.3h-1.3zM308 109h1.3v1.3h-1.3zM308 109.5h1.3v1.3h-1.3zM308 110h1.3v1.3h-1.3zM308 111.5h1.3v1.3h-1.3zM308 112.5h1.3v1.3h-1.3zM308 113h1.3v1.3h-1.3zM308 113.5h1.3v1.3h-1.3zM308 114h1.3v1.3h-1.3zM308 116.5h1.3v1.3h-1.3zM308 117h1.3v1.3h-1.3zM308 117.5h1.3v1.3h-1.3zM308 118h1.3v1.3h-1.3zM308 118.5h1.3v1.3h-1.3zM308 119h1.3v1.3h-1.3zM308 119.5h1.3v1.3h-1.3zM308 120h1.3v1.3h-1.3zM308 120.5h1.3v1.3h-1.3zM308 121.5h1.3v1.3h-1.3zM308 122h1.3v1.3h-1.3zM308.5 99h1.3v1.3h-1.3zM308.5 100h1.3v1.3h-1.3zM308.5 105.5h1.3v1.3h-1.3zM308.5 106h1.3v1.3h-1.3zM308.5 109h1.3v1.3h-1.3zM308.5 109.5h1.3v1.3h-1.3zM308.5 110h1.3v1.3h-1.3zM308.5 110.5h1.3v1.3h-1.3zM308.5 111h1.3v1.3h-1.3zM308.5 111.5h1.3v1.3h-1.3zM308.5 113.5h1.3v1.3h-1.3zM308.5 114h1.3v1.3h-1.3zM308.5 114.5h1.3v1.3h-1.3zM308.5 115.5h1.3v1.3h-1.3zM308.5 116h1.3v1.3h-1.3zM308.5 116.5h1.3v1.3h-1.3zM308.5 117h1.3v1.3h-1.3zM308.5 117.5h1.3v1.3h-1.3zM308.5 118.5h1.3v1.3h-1.3zM308.5 119h1.3v1.3h-1.3zM308.5 119.5h1.3v1.3h-1.3zM308.5 120h1.3v1.3h-1.3zM308.5 120.5h1.3v1.3h-1.3zM308.5 121h1.3v1.3h-1.3zM308.5 121.5h1.3v1.3h-1.3zM308.5 122h1.3v1.3h-1.3zM309 95h1.3v1.3h-1.3zM309 103h1.3v1.3h-1.3zM309 103.5h1.3v1.3h-1.3zM309 104.5h1.3v1.3h-1.3zM309 106.5h1.3v1.3h-1.3zM309 107h1.3v1.3h-1.3zM309 107.5h1.3v1.3h-1.3zM309 108.5h1.3v1.3h-1.3zM309 111h1.3v1.3h-1.3zM309 111.5h1.3v1.3h-1.3zM309 112h1.3v1.3h-1.3zM309 113h1.3v1.3h-1.3zM309 114h1.3v1.3h-1.3zM309 114.5h1.3v1.3h-1.3zM309 115.5h1.3v1.3h-1.3zM309 116h1.3v1.3h-1.3zM309 117.5h1.3v1.3h-1.3zM309 118.5h1.3v1.3h-1.3zM309 119h1.3v1.3h-1.3zM309 120h1.3v1.3h-1.3zM309 120.5h1.3v1.3h-1.3zM309 121h1.3v1.3h-1.3zM309 121.5h1.3v1.3h-1.3zM309 122h1.3v1.3h-1.3zM309.5 94.5h1.3v1.3h-1.3zM309.5 97h1.3v1.3h-1.3zM309.5 99h1.3v1.3h-1.3zM309.5 99.5h1.3v1.3h-1.3zM309.5 101.5h1.3v1.3h-1.3zM309.5 104.5h1.3v1.3h-1.3zM309.5 106h1.3v1.3h-1.3zM309.5 107h1.3v1.3h-1.3zM309.5 110.5h1.3v1.3h-1.3zM309.5 111h1.3v1.3h-1.3zM309.5 112.5h1.3v1.3h-1.3zM309.5 113h1.3v1.3h-1.3zM309.5 113.5h1.3v1.3h-1.3zM309.5 114h1.3v1.3h-1.3zM309.5 114.5h1.3v1.3h-1.3zM309.5 115.5h1.3v1.3h-1.3zM309.5 116h1.3v1.3h-1.3zM309.5 117h1.3v1.3h-1.3zM309.5 117.5h1.3v1.3h-1.3zM309.5 118h1.3v1.3h-1.3zM309.5 119h1.3v1.3h-1.3zM309.5 119.5h1.3v1.3h-1.3zM309.5 120.5h1.3v1.3h-1.3zM309.5 121h1.3v1.3h-1.3zM309.5 121.5h1.3v1.3h-1.3zM309.5 122h1.3v1.3h-1.3zM310 107h1.3v1.3h-1.3zM310 107.5h1.3v1.3h-1.3zM310 110h1.3v1.3h-1.3zM310 111h1.3v1.3h-1.3zM310 113.5h1.3v1.3h-1.3zM310 114h1.3v1.3h-1.3zM310 117h1.3v1.3h-1.3zM310 118h1.3v1.3h-1.3zM310 119h1.3v1.3h-1.3zM310 120h1.3v1.3h-1.3zM310 120.5h1.3v1.3h-1.3zM310 121h1.3v1.3h-1.3zM310 121.5h1.3v1.3h-1.3zM310 122h1.3v1.3h-1.3zM310.5 102h1.3v1.3h-1.3zM310.5 106h1.3v1.3h-1.3zM310.5 112h1.3v1.3h-1.3zM310.5 114h1.3v1.3h-1.3zM310.5 115h1.3v1.3h-1.3zM310.5 118.5h1.3v1.3h-1.3zM310.5 119.5h1.3v1.3h-1.3zM310.5 120.5h1.3v1.3h-1.3zM310.5 121h1.3v1.3h-1.3z" fill="#1f1fff"/>
<rect x="312.5" y="129.7" width="1.3" height="1.3" fill="#33ee33"/>
<rect x="313.4" y="138.7" width="1.3" height="1.3" fill="#33ee33"/>
<rect x="312.1" y="126.1" width="1.3" height="1.3" fill="#33ee33"/>
<rect x="310.9" y="122.9" width="1.3" height="1.3" fill="#33ee33"/>
<rect x="313.5" y="128.3" width="1.3" height="1.3" fill="#33ee33"/>
<rect x="313.8" y="138.5" width="1.3" height="1.3" fill="#33ee33"/>
<rect x="313.9" y="128.3" width="1.3" height="1.3" fill="#33ee33"/>
<rect x="310.9" y="140.4" width="1.3" height="1.3" fill="#33ee33"/>
<rect x="310.9" y="138.9" width="1.3" height="1.3" fill="#33ee33"/>
<rect x="313.4" y="133.6" width="1.3" height="1.3" fill="#33ee33"/>
<rect x="310.7" y="130.8" width="1.3" height="1.3" fill="#33ee33"/>
<rect x="313.1" y="134.1" width="1.3" height="1.3" fill="#33ee33"/>
<rect x="316.1" y="136.6" width="1.3" height="1.3" fill="#33ee33"/>
<rect x="314.0" y="125.4" width="1.3" height="1.3" fill="#33ee33"/>
<rect x="310.8" y="139.8" width="1.3" height="1.3" fill="#33ee33"/>
<rect x="314.2" y="127.4" width="1.3" height="1.3" fill="#33ee33"/>
<rect x="313.1" y="133.8" width="1.3" height="1.3" fill="#33ee33"/>
<rect x="311.5" y="126.0" width="1.3" height="1.3" fill="#33ee33"/>
<rect x="311.8" y="139.3" width="1.3" height="1.3" fill="#33ee33"/>
<rect x="311.1" y="134.6" width="1.3" height="1.3" fill="#33ee33"/>
<rect x="311.6" y="128.4" width="1.3" height="1.3" fill="#33ee33"/>
<rect x="311.4" y="127.2" width="1.3" height="1.3" fill="#33ee33"/>
<rect x="311.3" y="130.6" width="1.3" height="1.3" fill="#33ee33"/>
<rect x="311.5" y="134.6" width="1.3" height="1.3" fill="#33ee33"/>
<rect x="311.7" y="129.3" width="1.3" height="1.3" fill="#33ee33"/>
<rect x="311.5" y="133.2" width="1.3" height="1.3" fill="#33ee33"/>
<rect x="313.6" y="133.2" width="1.3" height="1.3" fill="#33ee33"/>
<rect x="312.1" y="129.7" width="1.3" height="1.3" fill="#33ee33"/>
<rect x="311.4" y="133.0" width="1.3" height="1.3" fill="#33ee33"/>
<rect x="310.8" y="131.7" width="1.3" height="1.3" fill="#33ee33"/>
<rect x="314.5" y="139.9" width="1.3" height="1.3" fill="#33ee33"/>
<rect x="313.5" y="125.6" width="1.3" height="1.3" fill="#33ee33"/>
<rect x="310.7" y="128.0" width="1.3" height="1.3" fill="#33ee33"/>
<rect x="311.0" y="139.4" width="1.3" height="1.3" fill="#33ee33"/>
<rect x="311.5" y="132.2" width="1.3" height="1.3" fill="#33ee33"/>
<rect x="311.7" y="130.2" width="1.3" height="1.3" fill="#33ee33"/>
<rect x="313.1" y="131.7" width="1.3" height="1.3" fill="#33ee33"/>
<rect x="312.2" y="138.2" width="1.3" height="1.3" fill="#33ee33"/>
<rect x="310.9" y="128.7" width="1.3" height="1.3" fill="#33ee33"/>
<rect x="313.2" y="134.5" width="1.3" height="1.3" fill="#33ee33"/>
<rect x="256.0" y="123.5" width="1.3" height="1.3" fill="#33ee33"/>
<rect x="258.0" y="125.5" width="1.3" height="1.3" fill="#33ee33"/>
<rect x="259.5" y="127.3" width="1.3" height="1.3" fill="#33ee33"/>
<rect x="260.5" y="129.2" width="1.3" height="1.3" fill="#33ee33"/>
<rect x="261.5" y="131.3" width="1.3" height="1.3" fill="#33ee33"/>
<rect x="262.0" y="133.2" width="1.3" height="1.3" fill="#33ee33"/>
<rect x="262.5" y="136.0" width="1.3" height="1.3" fill="#33ee33"/>
<rect x="263.0" y="139.8" width="1.3" height="1.3" fill="#33ee33"/>
<circle cx="258.00" cy="28.60" r="2.05" fill="#e8151c" stroke="#b01010" stroke-width="0.3"/>
<circle cx="255.60" cy="55.00" r="2.05" fill="#e8151c" stroke="#b01010" stroke-width="0.3"/>
<circle cx="260.40" cy="52.60" r="2.05" fill="#e8151c" stroke="#b01010" stroke-width="0.3"/>
<circle cx="263.60" cy="68.40" r="2.05" fill="#e8151c" stroke="#b01010" stroke-width="0.3"/>
<circle cx="252.40" cy="84.00" r="2.05" fill="#e8151c" stroke="#b01010" stroke-width="0.3"/>
<circle cx="256.40" cy="85.40" r="2.05" fill="#e8151c" stroke="#b01010" stroke-width="0.3"/>
<circle cx="259.00" cy="91.00" r="2.05" fill="#e8151c" stroke="#b01010" stroke-width="0.3"/>
<circle cx="261.40" cy="91.00" r="2.05" fill="#e8151c" stroke="#b01010" stroke-width="0.3"/>
<circle cx="264.00" cy="93.40" r="2.05" fill="#e8151c" stroke="#b01010" stroke-width="0.3"/>
<circle cx="251.00" cy="95.00" r="2.05" fill="#e8151c" stroke="#b01010" stroke-width="0.3"/>
<circle cx="260.40" cy="91.00" r="2.05" fill="#e8151c" stroke="#b01010" stroke-width="0.3"/>
<circle cx="263.40" cy="93.00" r="2.05" fill="#e8151c" stroke="#b01010" stroke-width="0.3"/>
<circle cx="250.60" cy="95.60" r="2.05" fill="#e8151c" stroke="#b01010" stroke-width="0.3"/>
<circle cx="263.00" cy="99.00" r="2.05" fill="#e8151c" stroke="#b01010" stroke-width="0.3"/>
<circle cx="265.00" cy="99.60" r="2.05" fill="#e8151c" stroke="#b01010" stroke-width="0.3"/>
<circle cx="251.00" cy="100.40" r="2.05" fill="#e8151c" stroke="#b01010" stroke-width="0.3"/>
<circle cx="257.00" cy="101.00" r="2.05" fill="#e8151c" stroke="#b01010" stroke-width="0.3"/>
<circle cx="257.00" cy="104.00" r="2.05" fill="#e8151c" stroke="#b01010" stroke-width="0.3"/>
<circle cx="261.00" cy="105.00" r="2.05" fill="#e8151c" stroke="#b01010" stroke-width="0.3"/>
<circle cx="258.40" cy="105.60" r="2.05" fill="#e8151c" stroke="#b01010" stroke-width="0.3"/>
<circle cx="263.00" cy="104.00" r="2.05" fill="#e8151c" stroke="#b01010" stroke-width="0.3"/>
<circle cx="251.00" cy="105.00" r="2.05" fill="#e8151c" stroke="#b01010" stroke-width="0.3"/>
<circle cx="251.40" cy="111.00" r="2.05" fill="#e8151c" stroke="#b01010" stroke-width="0.3"/>
<circle cx="261.40" cy="116.00" r="2.05" fill="#e8151c" stroke="#b01010" stroke-width="0.3"/>
<circle cx="265.00" cy="118.00" r="2.05" fill="#e8151c" stroke="#b01010" stroke-width="0.3"/>
<circle cx="250.60" cy="121.00" r="2.05" fill="#e8151c" stroke="#b01010" stroke-width="0.3"/>
<circle cx="253.40" cy="120.40" r="2.05" fill="#e8151c" stroke="#b01010" stroke-width="0.3"/>
<circle cx="256.40" cy="121.40" r="2.05" fill="#e8151c" stroke="#b01010" stroke-width="0.3"/>
<circle cx="264.00" cy="108.00" r="2.05" fill="#e8151c" stroke="#b01010" stroke-width="0.3"/>
<circle cx="324.30" cy="28.20" r="2.05" fill="#e8151c" stroke="#b01010" stroke-width="0.3"/>
<circle cx="312.10" cy="39.70" r="2.05" fill="#e8151c" stroke="#b01010" stroke-width="0.3"/>
<circle cx="318.40" cy="39.00" r="2.05" fill="#e8151c" stroke="#b01010" stroke-width="0.3"/>
<circle cx="320.80" cy="39.00" r="2.05" fill="#e8151c" stroke="#b01010" stroke-width="0.3"/>
<circle cx="320.30" cy="52.70" r="2.05" fill="#e8151c" stroke="#b01010" stroke-width="0.3"/>
<circle cx="330.30" cy="52.70" r="2.05" fill="#e8151c" stroke="#b01010" stroke-width="0.3"/>
<circle cx="323.20" cy="56.60" r="2.05" fill="#e8151c" stroke="#b01010" stroke-width="0.3"/>
<circle cx="324.30" cy="57.90" r="2.05" fill="#e8151c" stroke="#b01010" stroke-width="0.3"/>
<circle cx="328.70" cy="59.80" r="2.05" fill="#e8151c" stroke="#b01010" stroke-width="0.3"/>
<circle cx="318.40" cy="59.50" r="2.05" fill="#e8151c" stroke="#b01010" stroke-width="0.3"/>
<circle cx="312.10" cy="62.30" r="2.05" fill="#e8151c" stroke="#b01010" stroke-width="0.3"/>
<circle cx="326.60" cy="62.70" r="2.05" fill="#e8151c" stroke="#b01010" stroke-width="0.3"/>
<circle cx="319.50" cy="65.00" r="2.05" fill="#e8151c" stroke="#b01010" stroke-width="0.3"/>
<circle cx="321.60" cy="66.60" r="2.05" fill="#e8151c" stroke="#b01010" stroke-width="0.3"/>
<circle cx="312.00" cy="68.20" r="2.05" fill="#e8151c" stroke="#b01010" stroke-width="0.3"/>
<circle cx="313.70" cy="70.50" r="2.05" fill="#e8151c" stroke="#b01010" stroke-width="0.3"/>
<circle cx="333.40" cy="70.20" r="2.05" fill="#e8151c" stroke="#b01010" stroke-width="0.3"/>
<circle cx="333.10" cy="72.40" r="2.05" fill="#e8151c" stroke="#b01010" stroke-width="0.3"/>
<circle cx="315.30" cy="76.00" r="2.05" fill="#e8151c" stroke="#b01010" stroke-width="0.3"/>
<circle cx="320.00" cy="75.00" r="2.05" fill="#e8151c" stroke="#b01010" stroke-width="0.3"/>
<circle cx="322.70" cy="73.70" r="2.05" fill="#e8151c" stroke="#b01010" stroke-width="0.3"/>
<circle cx="327.00" cy="76.60" r="2.05" fill="#e8151c" stroke="#b01010" stroke-width="0.3"/>
<circle cx="324.30" cy="76.00" r="2.05" fill="#e8151c" stroke="#b01010" stroke-width="0.3"/>
<circle cx="354.80" cy="79.20" r="2.05" fill="#e8151c" stroke="#b01010" stroke-width="0.3"/>
<circle cx="331.90" cy="84.20" r="2.05" fill="#e8151c" stroke="#b01010" stroke-width="0.3"/>
<circle cx="346.50" cy="85.30" r="2.05" fill="#e8151c" stroke="#b01010" stroke-width="0.3"/>
<circle cx="354.80" cy="92.40" r="2.05" fill="#e8151c" stroke="#b01010" stroke-width="0.3"/>
<circle cx="347.30" cy="98.70" r="2.05" fill="#e8151c" stroke="#b01010" stroke-width="0.3"/>
<circle cx="336.30" cy="101.50" r="2.05" fill="#e8151c" stroke="#b01010" stroke-width="0.3"/>
<circle cx="354.80" cy="107.90" r="2.05" fill="#e8151c" stroke="#b01010" stroke-width="0.3"/>
<circle cx="334.20" cy="113.70" r="2.05" fill="#e8151c" stroke="#b01010" stroke-width="0.3"/>
<circle cx="329.50" cy="120.00" r="2.05" fill="#e8151c" stroke="#b01010" stroke-width="0.3"/>
<circle cx="326.30" cy="115.30" r="2.05" fill="#e8151c" stroke="#b01010" stroke-width="0.3"/>
<circle cx="323.60" cy="113.40" r="2.05" fill="#e8151c" stroke="#b01010" stroke-width="0.3"/>
<circle cx="320.00" cy="117.70" r="2.05" fill="#e8151c" stroke="#b01010" stroke-width="0.3"/>
<circle cx="317.60" cy="116.90" r="2.05" fill="#e8151c" stroke="#b01010" stroke-width="0.3"/>
<circle cx="314.50" cy="120.00" r="2.05" fill="#e8151c" stroke="#b01010" stroke-width="0.3"/>
<circle cx="316.00" cy="119.20" r="2.05" fill="#e8151c" stroke="#b01010" stroke-width="0.3"/>
<circle cx="311.30" cy="113.70" r="2.05" fill="#e8151c" stroke="#b01010" stroke-width="0.3"/>
<circle cx="324.27" cy="85.00" r="2.05" fill="#e8151c" stroke="#b01010" stroke-width="0.3"/>
<circle cx="313.72" cy="98.12" r="2.05" fill="#e8151c" stroke="#b01010" stroke-width="0.3"/>
<circle cx="313.94" cy="92.46" r="2.05" fill="#e8151c" stroke="#b01010" stroke-width="0.3"/>
<circle cx="324.13" cy="82.07" r="2.05" fill="#e8151c" stroke="#b01010" stroke-width="0.3"/>
<circle cx="316.62" cy="80.32" r="2.05" fill="#e8151c" stroke="#b01010" stroke-width="0.3"/>
<circle cx="312.47" cy="95.64" r="2.05" fill="#e8151c" stroke="#b01010" stroke-width="0.3"/>
<circle cx="312.83" cy="98.30" r="2.05" fill="#e8151c" stroke="#b01010" stroke-width="0.3"/>
<circle cx="317.86" cy="112.34" r="2.05" fill="#e8151c" stroke="#b01010" stroke-width="0.3"/>
<circle cx="314.13" cy="100.64" r="2.05" fill="#e8151c" stroke="#b01010" stroke-width="0.3"/>
<circle cx="317.23" cy="87.12" r="2.05" fill="#e8151c" stroke="#b01010" stroke-width="0.3"/>
<circle cx="311.16" cy="112.99" r="2.05" fill="#e8151c" stroke="#b01010" stroke-width="0.3"/>
<circle cx="314.54" cy="87.93" r="2.05" fill="#e8151c" stroke="#b01010" stroke-width="0.3"/>
<circle cx="312.19" cy="98.24" r="2.05" fill="#e8151c" stroke="#b01010" stroke-width="0.3"/>
<circle cx="323.58" cy="105.38" r="2.05" fill="#e8151c" stroke="#b01010" stroke-width="0.3"/>
<circle cx="312.58" cy="102.86" r="2.05" fill="#e8151c" stroke="#b01010" stroke-width="0.3"/>
<circle cx="316.76" cy="101.10" r="2.05" fill="#e8151c" stroke="#b01010" stroke-width="0.3"/>
<circle cx="316.74" cy="83.87" r="2.05" fill="#e8151c" stroke="#b01010" stroke-width="0.3"/>
<circle cx="311.59" cy="87.33" r="2.05" fill="#e8151c" stroke="#b01010" stroke-width="0.3"/>
<circle cx="317.24" cy="107.54" r="2.05" fill="#e8151c" stroke="#b01010" stroke-width="0.3"/>
<circle cx="312.80" cy="101.95" r="2.05" fill="#e8151c" stroke="#b01010" stroke-width="0.3"/>
<circle cx="313.89" cy="92.29" r="2.05" fill="#e8151c" stroke="#b01010" stroke-width="0.3"/>
<circle cx="311.17" cy="109.38" r="2.05" fill="#e8151c" stroke="#b01010" stroke-width="0.3"/>
<circle cx="320.14" cy="108.29" r="2.05" fill="#e8151c" stroke="#b01010" stroke-width="0.3"/>
<circle cx="312.26" cy="94.23" r="2.05" fill="#e8151c" stroke="#b01010" stroke-width="0.3"/>
<circle cx="312.34" cy="102.54" r="2.05" fill="#e8151c" stroke="#b01010" stroke-width="0.3"/>
<circle cx="314.80" cy="109.10" r="2.05" fill="#e8151c" stroke="#b01010" stroke-width="0.3"/>
<circle cx="312.40" cy="97.35" r="2.05" fill="#e8151c" stroke="#b01010" stroke-width="0.3"/>
<circle cx="312.49" cy="99.29" r="2.05" fill="#e8151c" stroke="#b01010" stroke-width="0.3"/>
<circle cx="315.49" cy="82.85" r="2.05" fill="#e8151c" stroke="#b01010" stroke-width="0.3"/>
<circle cx="321.65" cy="104.58" r="2.05" fill="#e8151c" stroke="#b01010" stroke-width="0.3"/>
<circle cx="317.27" cy="111.00" r="2.05" fill="#e8151c" stroke="#b01010" stroke-width="0.3"/>
<circle cx="324.22" cy="108.33" r="2.05" fill="#e8151c" stroke="#b01010" stroke-width="0.3"/>
<circle cx="315.61" cy="112.65" r="2.05" fill="#e8151c" stroke="#b01010" stroke-width="0.3"/>
<circle cx="325.03" cy="105.91" r="2.05" fill="#e8151c" stroke="#b01010" stroke-width="0.3"/>
<circle cx="313.13" cy="78.06" r="2.05" fill="#e8151c" stroke="#b01010" stroke-width="0.3"/>
<circle cx="321.34" cy="79.23" r="2.05" fill="#e8151c" stroke="#b01010" stroke-width="0.3"/>
<circle cx="313.30" cy="84.13" r="2.05" fill="#e8151c" stroke="#b01010" stroke-width="0.3"/>
<circle cx="320.14" cy="80.82" r="2.05" fill="#e8151c" stroke="#b01010" stroke-width="0.3"/>
<circle cx="313.42" cy="94.73" r="2.05" fill="#e8151c" stroke="#b01010" stroke-width="0.3"/>
<circle cx="321.93" cy="112.68" r="2.05" fill="#e8151c" stroke="#b01010" stroke-width="0.3"/>
<circle cx="315.90" cy="84.12" r="2.05" fill="#e8151c" stroke="#b01010" stroke-width="0.3"/>
<circle cx="313.27" cy="102.83" r="2.05" fill="#e8151c" stroke="#b01010" stroke-width="0.3"/>
<circle cx="316.20" cy="101.84" r="2.05" fill="#e8151c" stroke="#b01010" stroke-width="0.3"/>
<circle cx="319.91" cy="98.41" r="2.05" fill="#e8151c" stroke="#b01010" stroke-width="0.3"/>
<circle cx="314.88" cy="101.43" r="2.05" fill="#e8151c" stroke="#b01010" stroke-width="0.3"/>
<circle cx="312.46" cy="97.08" r="2.05" fill="#e8151c" stroke="#b01010" stroke-width="0.3"/>
<circle cx="319.12" cy="94.82" r="2.05" fill="#e8151c" stroke="#b01010" stroke-width="0.3"/>
<circle cx="311.03" cy="94.27" r="2.05" fill="#e8151c" stroke="#b01010" stroke-width="0.3"/>
<circle cx="315.92" cy="105.42" r="2.05" fill="#e8151c" stroke="#b01010" stroke-width="0.3"/>
<circle cx="313.06" cy="76.74" r="2.05" fill="#e8151c" stroke="#b01010" stroke-width="0.3"/>
<circle cx="312.58" cy="83.80" r="2.05" fill="#e8151c" stroke="#b01010" stroke-width="0.3"/>
<circle cx="316.16" cy="90.77" r="2.05" fill="#e8151c" stroke="#b01010" stroke-width="0.3"/>
<circle cx="311.72" cy="110.56" r="2.05" fill="#e8151c" stroke="#b01010" stroke-width="0.3"/>
<circle cx="312.46" cy="89.26" r="2.05" fill="#e8151c" stroke="#b01010" stroke-width="0.3"/>
<circle cx="320.74" cy="94.27" r="2.05" fill="#e8151c" stroke="#b01010" stroke-width="0.3"/>
<circle cx="324.26" cy="96.78" r="2.05" fill="#e8151c" stroke="#b01010" stroke-width="0.3"/>
<circle cx="314.96" cy="97.39" r="2.05" fill="#e8151c" stroke="#b01010" stroke-width="0.3"/>
<circle cx="325.81" cy="111.99" r="2.05" fill="#e8151c" stroke="#b01010" stroke-width="0.3"/>
<circle cx="317.94" cy="104.27" r="2.05" fill="#e8151c" stroke="#b01010" stroke-width="0.3"/>
<circle cx="317.36" cy="107.17" r="2.05" fill="#e8151c" stroke="#b01010" stroke-width="0.3"/>
<circle cx="311.28" cy="94.31" r="2.05" fill="#e8151c" stroke="#b01010" stroke-width="0.3"/>
<circle cx="324.31" cy="85.95" r="2.05" fill="#e8151c" stroke="#b01010" stroke-width="0.3"/>
<circle cx="315.99" cy="88.08" r="2.05" fill="#e8151c" stroke="#b01010" stroke-width="0.3"/>
<circle cx="322.44" cy="98.13" r="2.05" fill="#e8151c" stroke="#b01010" stroke-width="0.3"/>
<circle cx="319.90" cy="92.81" r="2.05" fill="#e8151c" stroke="#b01010" stroke-width="0.3"/>
<circle cx="312.25" cy="102.85" r="2.05" fill="#e8151c" stroke="#b01010" stroke-width="0.3"/>
<circle cx="320.78" cy="82.42" r="2.05" fill="#e8151c" stroke="#b01010" stroke-width="0.3"/>
<circle cx="312.98" cy="91.37" r="2.05" fill="#e8151c" stroke="#b01010" stroke-width="0.3"/>
<circle cx="314.15" cy="88.65" r="2.05" fill="#e8151c" stroke="#b01010" stroke-width="0.3"/>
<circle cx="317.05" cy="111.41" r="2.05" fill="#e8151c" stroke="#b01010" stroke-width="0.3"/>
<circle cx="327.01" cy="81.59" r="2.05" fill="#e8151c" stroke="#b01010" stroke-width="0.3"/>
<circle cx="314.61" cy="88.91" r="2.05" fill="#e8151c" stroke="#b01010" stroke-width="0.3"/>
<circle cx="319.68" cy="96.38" r="2.05" fill="#e8151c" stroke="#b01010" stroke-width="0.3"/>
<circle cx="316.53" cy="80.79" r="2.05" fill="#e8151c" stroke="#b01010" stroke-width="0.3"/>
<circle cx="313.16" cy="101.39" r="2.05" fill="#e8151c" stroke="#b01010" stroke-width="0.3"/>
<rect x="214.5" y="19.6" width="146.8" height="136.8" fill="none" stroke="#555" stroke-width="1.1" rx="0.8"/>
<line x1="214.40" y1="19.60" x2="214.40" y2="156.40" stroke="#222" stroke-width="1.4" />
<line x1="214.40" y1="156.40" x2="361.30" y2="156.40" stroke="#222" stroke-width="1.4" />
<line x1="265.50" y1="20.00" x2="265.50" y2="156.00" stroke="#777" stroke-width="0.8" stroke-dasharray="1 1.5"/>
<line x1="310.50" y1="20.00" x2="310.50" y2="156.00" stroke="#777" stroke-width="0.8" stroke-dasharray="1 1.5"/>
<line x1="214.50" y1="122.50" x2="361.50" y2="122.50" stroke="#777" stroke-width="0.8" stroke-dasharray="1 1.5"/>
<line x1="212.50" y1="152.00" x2="214.50" y2="152.00" stroke="#444" stroke-width="0.7" />
<text x="209.50" y="154.40" font-size="6.67" text-anchor="middle" font-weight="normal" fill="#333" stroke="#333" stroke-width="0.22" textLength="3.23" lengthAdjust="spacingAndGlyphs" >0</text>
<line x1="212.50" y1="129.00" x2="214.50" y2="129.00" stroke="#444" stroke-width="0.7" />
<text x="209.50" y="131.40" font-size="6.67" text-anchor="middle" font-weight="normal" fill="#333" stroke="#333" stroke-width="0.22" textLength="3.23" lengthAdjust="spacingAndGlyphs" >1</text>
<line x1="212.50" y1="106.00" x2="214.50" y2="106.00" stroke="#444" stroke-width="0.7" />
<text x="209.50" y="108.40" font-size="6.67" text-anchor="middle" font-weight="normal" fill="#333" stroke="#333" stroke-width="0.22" textLength="3.23" lengthAdjust="spacingAndGlyphs" >2</text>
<line x1="212.50" y1="83.00" x2="214.50" y2="83.00" stroke="#444" stroke-width="0.7" />
<text x="209.50" y="85.40" font-size="6.67" text-anchor="middle" font-weight="normal" fill="#333" stroke="#333" stroke-width="0.22" textLength="3.23" lengthAdjust="spacingAndGlyphs" >3</text>
<line x1="212.50" y1="60.00" x2="214.50" y2="60.00" stroke="#444" stroke-width="0.7" />
<text x="209.50" y="62.40" font-size="6.67" text-anchor="middle" font-weight="normal" fill="#333" stroke="#333" stroke-width="0.22" textLength="3.23" lengthAdjust="spacingAndGlyphs" >4</text>
<line x1="212.50" y1="37.00" x2="214.50" y2="37.00" stroke="#444" stroke-width="0.7" />
<text x="209.50" y="39.40" font-size="6.67" text-anchor="middle" font-weight="normal" fill="#333" stroke="#333" stroke-width="0.22" textLength="3.23" lengthAdjust="spacingAndGlyphs" >5</text>
<line x1="220.20" y1="156.00" x2="220.20" y2="158.00" stroke="#444" stroke-width="0.7" />
<text x="220.20" y="164.40" font-size="6.67" text-anchor="middle" font-weight="normal" fill="#333" stroke="#333" stroke-width="0.22" textLength="5.16" lengthAdjust="spacingAndGlyphs" >-3</text>
<line x1="242.80" y1="156.00" x2="242.80" y2="158.00" stroke="#444" stroke-width="0.7" />
<text x="242.80" y="164.40" font-size="6.67" text-anchor="middle" font-weight="normal" fill="#333" stroke="#333" stroke-width="0.22" textLength="5.16" lengthAdjust="spacingAndGlyphs" >-2</text>
<line x1="265.40" y1="156.00" x2="265.40" y2="158.00" stroke="#444" stroke-width="0.7" />
<text x="265.40" y="164.40" font-size="6.67" text-anchor="middle" font-weight="normal" fill="#333" stroke="#333" stroke-width="0.22" textLength="5.16" lengthAdjust="spacingAndGlyphs" >-1</text>
<line x1="288.00" y1="156.00" x2="288.00" y2="158.00" stroke="#444" stroke-width="0.7" />
<text x="288.00" y="164.40" font-size="6.67" text-anchor="middle" font-weight="normal" fill="#333" stroke="#333" stroke-width="0.22" textLength="3.23" lengthAdjust="spacingAndGlyphs" >0</text>
<line x1="310.60" y1="156.00" x2="310.60" y2="158.00" stroke="#444" stroke-width="0.7" />
<text x="310.60" y="164.40" font-size="6.67" text-anchor="middle" font-weight="normal" fill="#333" stroke="#333" stroke-width="0.22" textLength="3.23" lengthAdjust="spacingAndGlyphs" >1</text>
<line x1="333.20" y1="156.00" x2="333.20" y2="158.00" stroke="#444" stroke-width="0.7" />
<text x="333.20" y="164.40" font-size="6.67" text-anchor="middle" font-weight="normal" fill="#333" stroke="#333" stroke-width="0.22" textLength="3.23" lengthAdjust="spacingAndGlyphs" >2</text>
<line x1="355.80" y1="156.00" x2="355.80" y2="158.00" stroke="#444" stroke-width="0.7" />
<text x="355.80" y="164.40" font-size="6.67" text-anchor="middle" font-weight="normal" fill="#333" stroke="#333" stroke-width="0.22" textLength="3.23" lengthAdjust="spacingAndGlyphs" >3</text>
<text x="288.00" y="175.67" font-size="7.42" text-anchor="middle" font-weight="bold" fill="#111" stroke="#111" stroke-width="0.22" textLength="49.83" lengthAdjust="spacingAndGlyphs" >Mean Difference</text>
<text x="199.10" y="90.68" font-size="6.90" text-anchor="middle" font-weight="bold" fill="#111" stroke="#111" stroke-width="0.22" textLength="44.34" lengthAdjust="spacingAndGlyphs" transform="rotate(-90 199.1 88.2)">-log10 (p-value)</text>
<text x="217.00" y="122.07" font-size="5.75" text-anchor="start" font-weight="normal" fill="#444" stroke="#444" stroke-width="0.22" textLength="26.96" lengthAdjust="spacingAndGlyphs" >-log10(0.05)</text>
<line x1="265.50" y1="24.00" x2="243.00" y2="24.00" stroke="#2d5f90" stroke-width="0.9" />
<path d="M240 24L244.5 21.8L244.5 26.2Z" fill="#2a6aa0"/>
<line x1="310.50" y1="24.00" x2="333.00" y2="24.00" stroke="#2d5f90" stroke-width="0.9" />
<path d="M336.5 24L332 21.8L332 26.2Z" fill="#2a6aa0"/>
<text x="249.30" y="19.40" font-size="6.67" text-anchor="middle" font-weight="normal" fill="#222" stroke="#222" stroke-width="0.3" textLength="24.83" lengthAdjust="spacingAndGlyphs" >Up in 24h</text>
<text x="325.20" y="19.40" font-size="6.67" text-anchor="middle" font-weight="normal" fill="#222" stroke="#222" stroke-width="0.3" textLength="21.60" lengthAdjust="spacingAndGlyphs" >Up in 6h</text>
<text x="226.50" y="26.60" font-size="6.67" text-anchor="middle" font-weight="bold" fill="#111" stroke="#111" stroke-width="0.22" textLength="6.45" lengthAdjust="spacingAndGlyphs" >29</text>
<text x="227.00" y="35.44" font-size="6.79" text-anchor="middle" font-weight="bold" fill="#111" stroke="#111" stroke-width="0.22" textLength="20.00" lengthAdjust="spacingAndGlyphs" >Probes</text>
<text x="349.50" y="26.60" font-size="6.67" text-anchor="middle" font-weight="bold" fill="#111" stroke="#111" stroke-width="0.22" textLength="9.36" lengthAdjust="spacingAndGlyphs" >114</text>
<text x="349.80" y="35.44" font-size="6.79" text-anchor="middle" font-weight="bold" fill="#111" stroke="#111" stroke-width="0.22" textLength="20.00" lengthAdjust="spacingAndGlyphs" >Probes</text>
<circle cx="221.00" cy="133.80" r="2.5" fill="#1f1fff" stroke="none" stroke-width="0"/>
<circle cx="221.00" cy="140.00" r="2.5" fill="#33ee33" stroke="none" stroke-width="0"/>
<circle cx="221.00" cy="147.80" r="2.5" fill="#e8151c" stroke="none" stroke-width="0"/>
<text x="225.60" y="135.91" font-size="5.86" text-anchor="start" font-weight="normal" fill="#333" stroke="#333" stroke-width="0.22" textLength="21.55" lengthAdjust="spacingAndGlyphs" >p &lt;= 0.05</text>
<text x="225.60" y="142.11" font-size="5.86" text-anchor="start" font-weight="normal" fill="#333" stroke="#333" stroke-width="0.22" textLength="26.41" lengthAdjust="spacingAndGlyphs" >Abs.Diff &gt; 1</text>
<text x="225.60" y="149.91" font-size="5.86" text-anchor="start" font-weight="normal" fill="#333" stroke="#333" stroke-width="0.22" textLength="54.20" lengthAdjust="spacingAndGlyphs" >Abs.Diff &gt; 1 &amp; p &lt;= 0.05</text>
<path d="M126 244h1v1h-1zM118 249h1v1h-1zM123 249h1v1h-1zM125 249h1v1h-1zM119 250h1v1h-1zM124 250h1v1h-1zM126 250h1v1h-1zM108 251h1v1h-1zM116 251h1v1h-1zM122 251h2v1h-2zM128 251h3v1h-3zM132 251h2v1h-2zM143 251h3v1h-3zM148 251h3v1h-3zM155 251h2v1h-2zM119 252h4v1h-4zM125 252h2v1h-2zM128 252h1v1h-1zM131 252h4v1h-4zM136 252h1v1h-1zM138 252h2v1h-2zM142 252h1v1h-1zM144 252h6v1h-6zM151 252h1v1h-1zM153 252h7v1h-7zM119 253h1v1h-1zM122 253h3v1h-3zM128 253h2v1h-2zM133 253h1v1h-1zM135 253h1v1h-1zM139 253h1v1h-1zM141 253h1v1h-1zM143 253h1v1h-1zM145 253h2v1h-2zM148 253h1v1h-1zM150 253h10v1h-10zM104 254h1v1h-1zM112 254h1v1h-1zM114 254h3v1h-3zM123 254h5v1h-5zM129 254h1v1h-1zM131 254h2v1h-2zM134 254h10v1h-10zM145 254h4v1h-4zM150 254h8v1h-8zM159 254h1v1h-1zM102 255h1v1h-1zM110 255h2v1h-2zM117 255h3v1h-3zM121 255h1v1h-1zM124 255h9v1h-9zM134 255h26v1h-26zM102 256h1v1h-1zM108 256h2v1h-2zM112 256h2v1h-2zM116 256h1v1h-1zM118 256h1v1h-1zM120 256h2v1h-2zM123 256h3v1h-3zM127 256h5v1h-5zM133 256h2v1h-2zM136 256h1v1h-1zM138 256h1v1h-1zM140 256h6v1h-6zM147 256h13v1h-13zM106 257h1v1h-1zM108 257h4v1h-4zM113 257h1v1h-1zM115 257h1v1h-1zM117 257h43v1h-43zM101 258h1v1h-1zM103 258h2v1h-2zM106 258h1v1h-1zM109 258h34v1h-34zM144 258h16v1h-16zM103 259h2v1h-2zM106 259h1v1h-1zM108 259h6v1h-6zM115 259h4v1h-4zM120 259h6v1h-6zM128 259h32v1h-32zM94 260h1v1h-1zM103 260h1v1h-1zM105 260h2v1h-2zM108 260h3v1h-3zM112 260h1v1h-1zM114 260h1v1h-1zM116 260h44v1h-44zM98 261h1v1h-1zM100 261h2v1h-2zM103 261h1v1h-1zM105 261h6v1h-6zM112 261h9v1h-9zM122 261h38v1h-38zM80 262h1v1h-1zM82 262h1v1h-1zM95 262h3v1h-3zM99 262h3v1h-3zM103 262h8v1h-8zM112 262h48v1h-48zM75 263h1v1h-1zM77 263h1v1h-1zM93 263h3v1h-3zM100 263h2v1h-2zM104 263h2v1h-2zM107 263h15v1h-15zM123 263h22v1h-22zM147 263h13v1h-13zM76 264h1v1h-1zM90 264h3v1h-3zM95 264h1v1h-1zM97 264h2v1h-2zM100 264h1v1h-1zM102 264h58v1h-58zM84 265h2v1h-2zM87 265h3v1h-3zM93 265h4v1h-4zM98 265h62v1h-62zM54 266h1v1h-1zM77 266h4v1h-4zM82 266h6v1h-6zM90 266h2v1h-2zM93 266h2v1h-2zM96 266h56v1h-56zM153 266h7v1h-7zM70 267h4v1h-4zM75 267h2v1h-2zM78 267h3v1h-3zM82 267h15v1h-15zM98 267h36v1h-36zM135 267h15v1h-15zM151 267h6v1h-6zM158 267h1v1h-1zM63 268h2v1h-2zM66 268h10v1h-10zM77 268h3v1h-3zM81 268h5v1h-5zM87 268h1v1h-1zM89 268h33v1h-33zM123 268h7v1h-7zM131 268h11v1h-11zM143 268h12v1h-12zM157 268h2v1h-2zM54 269h6v1h-6zM61 269h5v1h-5zM67 269h14v1h-14zM82 269h26v1h-26zM109 269h28v1h-28zM138 269h13v1h-13zM153 269h2v1h-2zM157 269h3v1h-3zM44 270h1v1h-1zM48 270h7v1h-7zM58 270h3v1h-3zM63 270h10v1h-10zM74 270h59v1h-59zM135 270h19v1h-19zM155 270h3v1h-3zM35 271h1v1h-1zM37 271h2v1h-2zM40 271h2v1h-2zM43 271h2v1h-2zM47 271h1v1h-1zM49 271h1v1h-1zM51 271h1v1h-1zM54 271h2v1h-2zM57 271h7v1h-7zM65 271h59v1h-59zM125 271h10v1h-10zM136 271h5v1h-5zM142 271h5v1h-5zM148 271h5v1h-5zM154 271h1v1h-1zM156 271h3v1h-3zM26 272h4v1h-4zM32 272h4v1h-4zM38 272h1v1h-1zM40 272h3v1h-3zM44 272h4v1h-4zM49 272h5v1h-5zM55 272h1v1h-1zM57 272h26v1h-26zM84 272h46v1h-46zM131 272h2v1h-2zM134 272h11v1h-11zM146 272h2v1h-2zM153 272h3v1h-3zM157 272h1v1h-1zM27 273h2v1h-2zM35 273h4v1h-4zM40 273h3v1h-3zM45 273h81v1h-81zM127 273h2v1h-2zM132 273h2v1h-2zM135 273h5v1h-5zM141 273h1v1h-1zM143 273h4v1h-4zM149 273h2v1h-2zM152 273h1v1h-1zM27 274h2v1h-2zM30 274h1v1h-1zM33 274h16v1h-16zM50 274h57v1h-57zM108 274h15v1h-15zM125 274h9v1h-9zM135 274h4v1h-4zM140 274h1v1h-1zM142 274h1v1h-1zM144 274h2v1h-2zM148 274h2v1h-2zM25 275h91v1h-91zM117 275h18v1h-18zM136 275h1v1h-1zM138 275h1v1h-1zM140 275h3v1h-3zM144 275h1v1h-1zM26 276h2v1h-2zM29 276h5v1h-5zM35 276h14v1h-14zM50 276h12v1h-12zM63 276h54v1h-54zM118 276h3v1h-3zM123 276h3v1h-3zM127 276h4v1h-4zM133 276h1v1h-1zM137 276h4v1h-4zM25 277h83v1h-83zM109 277h4v1h-4zM114 277h2v1h-2zM118 277h3v1h-3zM122 277h5v1h-5zM130 277h3v1h-3zM135 277h1v1h-1zM153 277h1v1h-1zM25 278h80v1h-80zM107 278h2v1h-2zM110 278h3v1h-3zM116 278h2v1h-2zM119 278h2v1h-2zM122 278h2v1h-2zM128 278h2v1h-2zM131 278h1v1h-1zM149 278h1v1h-1zM25 279h68v1h-68zM94 279h1v1h-1zM99 279h9v1h-9zM109 279h3v1h-3zM113 279h1v1h-1zM116 279h2v1h-2zM122 279h6v1h-6zM129 279h1v1h-1zM145 279h1v1h-1zM25 280h75v1h-75zM101 280h2v1h-2zM104 280h1v1h-1zM108 280h1v1h-1zM110 280h1v1h-1zM114 280h1v1h-1zM116 280h1v1h-1zM118 280h2v1h-2zM121 280h1v1h-1zM142 280h1v1h-1zM25 281h52v1h-52zM78 281h20v1h-20zM104 281h3v1h-3zM108 281h5v1h-5zM116 281h1v1h-1zM25 282h33v1h-33zM59 282h8v1h-8zM68 282h5v1h-5zM74 282h17v1h-17zM93 282h1v1h-1zM96 282h1v1h-1zM99 282h2v1h-2zM104 282h1v1h-1zM106 282h1v1h-1zM113 282h1v1h-1zM133 282h2v1h-2zM26 283h40v1h-40zM67 283h17v1h-17zM86 283h3v1h-3zM90 283h3v1h-3zM94 283h1v1h-1zM96 283h1v1h-1zM98 283h1v1h-1zM123 283h1v1h-1zM125 283h1v1h-1zM129 283h1v1h-1zM25 284h47v1h-47zM73 284h6v1h-6zM81 284h9v1h-9zM101 284h1v1h-1zM124 284h1v1h-1zM25 285h23v1h-23zM49 285h7v1h-7zM57 285h7v1h-7zM65 285h9v1h-9zM75 285h5v1h-5zM90 285h1v1h-1zM99 285h2v1h-2zM102 285h1v1h-1zM106 285h1v1h-1zM113 285h1v1h-1zM25 286h6v1h-6zM32 286h5v1h-5zM38 286h1v1h-1zM40 286h1v1h-1zM42 286h4v1h-4zM48 286h2v1h-2zM51 286h1v1h-1zM54 286h4v1h-4zM59 286h10v1h-10zM107 286h1v1h-1zM113 286h1v1h-1zM25 287h1v1h-1zM28 287h5v1h-5zM34 287h4v1h-4zM41 287h2v1h-2zM44 287h3v1h-3zM48 287h1v1h-1zM51 287h1v1h-1zM53 287h1v1h-1zM55 287h3v1h-3zM59 287h1v1h-1zM69 287h1v1h-1zM83 287h1v1h-1zM86 287h1v1h-1zM93 287h2v1h-2zM26 288h5v1h-5zM32 288h1v1h-1zM34 288h3v1h-3zM38 288h1v1h-1zM40 288h3v1h-3zM44 288h1v1h-1zM46 288h4v1h-4zM68 288h1v1h-1zM27 289h4v1h-4zM32 289h6v1h-6zM40 289h1v1h-1zM26 290h4v1h-4zM31 290h1v1h-1z" fill="#c2c2c2"/>
<line x1="58.00" y1="202.00" x2="58.00" y2="338.00" stroke="#888" stroke-width="0.8" stroke-dasharray="1 1.5"/>
<line x1="126.30" y1="202.00" x2="126.30" y2="338.00" stroke="#888" stroke-width="0.8" stroke-dasharray="1 1.5"/>
<line x1="92.50" y1="202.00" x2="92.50" y2="338.00" stroke="#aaa" stroke-width="1.0" />
<line x1="18.50" y1="251.50" x2="165.50" y2="251.50" stroke="#888" stroke-width="0.8" stroke-dasharray="1 1.5"/>
<line x1="18.50" y1="292.50" x2="165.50" y2="292.50" stroke="#888" stroke-width="0.8" stroke-dasharray="1 1.5"/>
<line x1="18.50" y1="272.00" x2="165.50" y2="272.00" stroke="#aaa" stroke-width="1.0" />
<circle cx="141.60" cy="211.00" r="2.0" fill="#e8151c" stroke="#b00000" stroke-width="0.3"/>
<circle cx="145.20" cy="211.00" r="2.0" fill="#e8151c" stroke="#b00000" stroke-width="0.3"/>
<circle cx="159.90" cy="211.00" r="2.0" fill="#e8151c" stroke="#b00000" stroke-width="0.3"/>
<circle cx="145.80" cy="218.50" r="2.0" fill="#e8151c" stroke="#b00000" stroke-width="0.3"/>
<circle cx="159.50" cy="218.50" r="2.0" fill="#e8151c" stroke="#b00000" stroke-width="0.3"/>
<circle cx="147.90" cy="228.40" r="2.0" fill="#e8151c" stroke="#b00000" stroke-width="0.3"/>
<circle cx="147.30" cy="230.00" r="2.0" fill="#e8151c" stroke="#b00000" stroke-width="0.3"/>
<circle cx="142.20" cy="231.00" r="2.0" fill="#e8151c" stroke="#b00000" stroke-width="0.3"/>
<circle cx="126.80" cy="233.70" r="2.0" fill="#e8151c" stroke="#b00000" stroke-width="0.3"/>
<circle cx="128.50" cy="237.30" r="2.0" fill="#e8151c" stroke="#b00000" stroke-width="0.3"/>
<circle cx="152.50" cy="232.60" r="2.0" fill="#e8151c" stroke="#b00000" stroke-width="0.3"/>
<circle cx="126.50" cy="234.00" r="2.0" fill="#e8151c" stroke="#b00000" stroke-width="0.3"/>
<circle cx="142.30" cy="230.70" r="2.0" fill="#e8151c" stroke="#b00000" stroke-width="0.3"/>
<circle cx="147.80" cy="228.30" r="2.0" fill="#e8151c" stroke="#b00000" stroke-width="0.3"/>
<circle cx="152.20" cy="231.80" r="2.0" fill="#e8151c" stroke="#b00000" stroke-width="0.3"/>
<circle cx="153.47" cy="247.14" r="2.0" fill="#e8151c" stroke="#b00000" stroke-width="0.3"/>
<circle cx="143.76" cy="240.94" r="2.0" fill="#e8151c" stroke="#b00000" stroke-width="0.3"/>
<circle cx="128.31" cy="245.95" r="2.0" fill="#e8151c" stroke="#b00000" stroke-width="0.3"/>
<circle cx="140.18" cy="239.87" r="2.0" fill="#e8151c" stroke="#b00000" stroke-width="0.3"/>
<circle cx="128.13" cy="250.49" r="2.0" fill="#e8151c" stroke="#b00000" stroke-width="0.3"/>
<circle cx="148.35" cy="238.05" r="2.0" fill="#e8151c" stroke="#b00000" stroke-width="0.3"/>
<circle cx="141.07" cy="250.20" r="2.0" fill="#e8151c" stroke="#b00000" stroke-width="0.3"/>
<circle cx="156.57" cy="248.27" r="2.0" fill="#e8151c" stroke="#b00000" stroke-width="0.3"/>
<circle cx="139.65" cy="245.06" r="2.0" fill="#e8151c" stroke="#b00000" stroke-width="0.3"/>
<circle cx="149.17" cy="234.65" r="2.0" fill="#e8151c" stroke="#b00000" stroke-width="0.3"/>
<circle cx="145.11" cy="240.26" r="2.0" fill="#e8151c" stroke="#b00000" stroke-width="0.3"/>
<circle cx="155.97" cy="236.43" r="2.0" fill="#e8151c" stroke="#b00000" stroke-width="0.3"/>
<circle cx="149.25" cy="248.30" r="2.0" fill="#e8151c" stroke="#b00000" stroke-width="0.3"/>
<circle cx="134.12" cy="249.20" r="2.0" fill="#e8151c" stroke="#b00000" stroke-width="0.3"/>
<circle cx="155.72" cy="235.43" r="2.0" fill="#e8151c" stroke="#b00000" stroke-width="0.3"/>
<circle cx="150.20" cy="233.02" r="2.0" fill="#e8151c" stroke="#b00000" stroke-width="0.3"/>
<circle cx="143.36" cy="243.07" r="2.0" fill="#e8151c" stroke="#b00000" stroke-width="0.3"/>
<circle cx="133.31" cy="242.41" r="2.0" fill="#e8151c" stroke="#b00000" stroke-width="0.3"/>
<circle cx="153.51" cy="238.54" r="2.0" fill="#e8151c" stroke="#b00000" stroke-width="0.3"/>
<circle cx="131.49" cy="247.30" r="2.0" fill="#e8151c" stroke="#b00000" stroke-width="0.3"/>
<circle cx="141.53" cy="248.06" r="2.0" fill="#e8151c" stroke="#b00000" stroke-width="0.3"/>
<circle cx="134.39" cy="242.20" r="2.0" fill="#e8151c" stroke="#b00000" stroke-width="0.3"/>
<circle cx="153.30" cy="241.87" r="2.0" fill="#e8151c" stroke="#b00000" stroke-width="0.3"/>
<circle cx="143.46" cy="240.39" r="2.0" fill="#e8151c" stroke="#b00000" stroke-width="0.3"/>
<circle cx="126.99" cy="250.12" r="2.0" fill="#e8151c" stroke="#b00000" stroke-width="0.3"/>
<circle cx="129.38" cy="249.15" r="2.0" fill="#e8151c" stroke="#b00000" stroke-width="0.3"/>
<circle cx="138.82" cy="250.00" r="2.0" fill="#e8151c" stroke="#b00000" stroke-width="0.3"/>
<circle cx="139.88" cy="249.81" r="2.0" fill="#e8151c" stroke="#b00000" stroke-width="0.3"/>
<circle cx="145.13" cy="239.81" r="2.0" fill="#e8151c" stroke="#b00000" stroke-width="0.3"/>
<circle cx="151.34" cy="244.80" r="2.0" fill="#e8151c" stroke="#b00000" stroke-width="0.3"/>
<circle cx="149.42" cy="241.35" r="2.0" fill="#e8151c" stroke="#b00000" stroke-width="0.3"/>
<circle cx="133.93" cy="246.03" r="2.0" fill="#e8151c" stroke="#b00000" stroke-width="0.3"/>
<circle cx="130.09" cy="247.56" r="2.0" fill="#e8151c" stroke="#b00000" stroke-width="0.3"/>
<circle cx="147.79" cy="240.62" r="2.0" fill="#e8151c" stroke="#b00000" stroke-width="0.3"/>
<circle cx="153.25" cy="236.40" r="2.0" fill="#e8151c" stroke="#b00000" stroke-width="0.3"/>
<circle cx="139.58" cy="248.34" r="2.0" fill="#e8151c" stroke="#b00000" stroke-width="0.3"/>
<circle cx="139.25" cy="247.51" r="2.0" fill="#e8151c" stroke="#b00000" stroke-width="0.3"/>
<circle cx="147.02" cy="249.60" r="2.0" fill="#e8151c" stroke="#b00000" stroke-width="0.3"/>
<circle cx="159.72" cy="248.47" r="2.0" fill="#e8151c" stroke="#b00000" stroke-width="0.3"/>
<circle cx="153.60" cy="235.68" r="2.0" fill="#e8151c" stroke="#b00000" stroke-width="0.3"/>
<circle cx="150.38" cy="247.83" r="2.0" fill="#e8151c" stroke="#b00000" stroke-width="0.3"/>
<circle cx="139.94" cy="245.61" r="2.0" fill="#e8151c" stroke="#b00000" stroke-width="0.3"/>
<circle cx="142.56" cy="249.97" r="2.0" fill="#e8151c" stroke="#b00000" stroke-width="0.3"/>
<circle cx="137.13" cy="244.43" r="2.0" fill="#e8151c" stroke="#b00000" stroke-width="0.3"/>
<circle cx="126.53" cy="247.51" r="2.0" fill="#e8151c" stroke="#b00000" stroke-width="0.3"/>
<circle cx="147.65" cy="249.48" r="2.0" fill="#e8151c" stroke="#b00000" stroke-width="0.3"/>
<circle cx="157.44" cy="241.62" r="2.0" fill="#e8151c" stroke="#b00000" stroke-width="0.3"/>
<circle cx="159.63" cy="244.31" r="2.0" fill="#e8151c" stroke="#b00000" stroke-width="0.3"/>
<circle cx="154.08" cy="235.84" r="2.0" fill="#e8151c" stroke="#b00000" stroke-width="0.3"/>
<circle cx="140.07" cy="240.26" r="2.0" fill="#e8151c" stroke="#b00000" stroke-width="0.3"/>
<circle cx="155.24" cy="247.77" r="2.0" fill="#e8151c" stroke="#b00000" stroke-width="0.3"/>
<circle cx="131.18" cy="245.59" r="2.0" fill="#e8151c" stroke="#b00000" stroke-width="0.3"/>
<circle cx="135.15" cy="244.58" r="2.0" fill="#e8151c" stroke="#b00000" stroke-width="0.3"/>
<circle cx="145.03" cy="237.97" r="2.0" fill="#e8151c" stroke="#b00000" stroke-width="0.3"/>
<circle cx="155.46" cy="239.19" r="2.0" fill="#e8151c" stroke="#b00000" stroke-width="0.3"/>
<circle cx="141.48" cy="239.08" r="2.0" fill="#e8151c" stroke="#b00000" stroke-width="0.3"/>
<circle cx="126.59" cy="246.28" r="2.0" fill="#e8151c" stroke="#b00000" stroke-width="0.3"/>
<circle cx="137.95" cy="249.81" r="2.0" fill="#e8151c" stroke="#b00000" stroke-width="0.3"/>
<circle cx="156.31" cy="242.91" r="2.0" fill="#e8151c" stroke="#b00000" stroke-width="0.3"/>
<circle cx="141.73" cy="246.40" r="2.0" fill="#e8151c" stroke="#b00000" stroke-width="0.3"/>
<circle cx="155.27" cy="239.95" r="2.0" fill="#e8151c" stroke="#b00000" stroke-width="0.3"/>
<circle cx="153.09" cy="239.98" r="2.0" fill="#e8151c" stroke="#b00000" stroke-width="0.3"/>
<circle cx="146.40" cy="246.61" r="2.0" fill="#e8151c" stroke="#b00000" stroke-width="0.3"/>
<circle cx="143.30" cy="246.43" r="2.0" fill="#e8151c" stroke="#b00000" stroke-width="0.3"/>
<circle cx="149.86" cy="233.20" r="2.0" fill="#e8151c" stroke="#b00000" stroke-width="0.3"/>
<circle cx="127.81" cy="244.75" r="2.0" fill="#e8151c" stroke="#b00000" stroke-width="0.3"/>
<circle cx="133.66" cy="240.75" r="2.0" fill="#e8151c" stroke="#b00000" stroke-width="0.3"/>
<circle cx="128.14" cy="244.88" r="2.0" fill="#e8151c" stroke="#b00000" stroke-width="0.3"/>
<circle cx="146.63" cy="248.79" r="2.0" fill="#e8151c" stroke="#b00000" stroke-width="0.3"/>
<circle cx="138.21" cy="244.38" r="2.0" fill="#e8151c" stroke="#b00000" stroke-width="0.3"/>
<circle cx="140.46" cy="246.87" r="2.0" fill="#e8151c" stroke="#b00000" stroke-width="0.3"/>
<circle cx="152.81" cy="249.47" r="2.0" fill="#e8151c" stroke="#b00000" stroke-width="0.3"/>
<circle cx="139.09" cy="247.48" r="2.0" fill="#e8151c" stroke="#b00000" stroke-width="0.3"/>
<circle cx="137.94" cy="248.82" r="2.0" fill="#e8151c" stroke="#b00000" stroke-width="0.3"/>
<circle cx="134.23" cy="248.91" r="2.0" fill="#e8151c" stroke="#b00000" stroke-width="0.3"/>
<circle cx="143.42" cy="246.87" r="2.0" fill="#e8151c" stroke="#b00000" stroke-width="0.3"/>
<circle cx="144.42" cy="241.12" r="2.0" fill="#e8151c" stroke="#b00000" stroke-width="0.3"/>
<circle cx="143.06" cy="238.13" r="2.0" fill="#e8151c" stroke="#b00000" stroke-width="0.3"/>
<circle cx="127.94" cy="247.24" r="2.0" fill="#e8151c" stroke="#b00000" stroke-width="0.3"/>
<circle cx="142.49" cy="248.37" r="2.0" fill="#e8151c" stroke="#b00000" stroke-width="0.3"/>
<circle cx="127.17" cy="247.86" r="2.0" fill="#e8151c" stroke="#b00000" stroke-width="0.3"/>
<circle cx="142.94" cy="245.29" r="2.0" fill="#e8151c" stroke="#b00000" stroke-width="0.3"/>
<circle cx="150.94" cy="242.18" r="2.0" fill="#e8151c" stroke="#b00000" stroke-width="0.3"/>
<circle cx="145.36" cy="243.29" r="2.0" fill="#e8151c" stroke="#b00000" stroke-width="0.3"/>
<circle cx="147.11" cy="238.97" r="2.0" fill="#e8151c" stroke="#b00000" stroke-width="0.3"/>
<circle cx="145.01" cy="245.91" r="2.0" fill="#e8151c" stroke="#b00000" stroke-width="0.3"/>
<circle cx="132.90" cy="250.39" r="2.0" fill="#e8151c" stroke="#b00000" stroke-width="0.3"/>
<circle cx="151.51" cy="249.72" r="2.0" fill="#e8151c" stroke="#b00000" stroke-width="0.3"/>
<circle cx="136.35" cy="244.52" r="2.0" fill="#e8151c" stroke="#b00000" stroke-width="0.3"/>
<circle cx="135.26" cy="239.48" r="2.0" fill="#e8151c" stroke="#b00000" stroke-width="0.3"/>
<circle cx="127.06" cy="246.11" r="2.0" fill="#e8151c" stroke="#b00000" stroke-width="0.3"/>
<circle cx="155.35" cy="237.28" r="2.0" fill="#e8151c" stroke="#b00000" stroke-width="0.3"/>
<circle cx="149.60" cy="237.59" r="2.0" fill="#e8151c" stroke="#b00000" stroke-width="0.3"/>
<circle cx="128.70" cy="244.14" r="2.0" fill="#e8151c" stroke="#b00000" stroke-width="0.3"/>
<circle cx="149.21" cy="242.07" r="2.0" fill="#e8151c" stroke="#b00000" stroke-width="0.3"/>
<circle cx="144.89" cy="242.87" r="2.0" fill="#e8151c" stroke="#b00000" stroke-width="0.3"/>
<circle cx="135.69" cy="244.75" r="2.0" fill="#e8151c" stroke="#b00000" stroke-width="0.3"/>
<circle cx="157.40" cy="239.92" r="2.0" fill="#e8151c" stroke="#b00000" stroke-width="0.3"/>
<circle cx="151.05" cy="237.39" r="2.0" fill="#e8151c" stroke="#b00000" stroke-width="0.3"/>
<circle cx="132.98" cy="242.57" r="2.0" fill="#e8151c" stroke="#b00000" stroke-width="0.3"/>
<circle cx="129.61" cy="249.92" r="2.0" fill="#e8151c" stroke="#b00000" stroke-width="0.3"/>
<circle cx="138.73" cy="242.22" r="2.0" fill="#e8151c" stroke="#b00000" stroke-width="0.3"/>
<circle cx="126.50" cy="245.68" r="2.0" fill="#e8151c" stroke="#b00000" stroke-width="0.3"/>
<circle cx="133.69" cy="243.36" r="2.0" fill="#e8151c" stroke="#b00000" stroke-width="0.3"/>
<circle cx="146.65" cy="250.22" r="2.0" fill="#e8151c" stroke="#b00000" stroke-width="0.3"/>
<circle cx="156.33" cy="239.45" r="2.0" fill="#e8151c" stroke="#b00000" stroke-width="0.3"/>
<circle cx="146.99" cy="249.30" r="2.0" fill="#e8151c" stroke="#b00000" stroke-width="0.3"/>
<circle cx="129.90" cy="249.13" r="2.0" fill="#e8151c" stroke="#b00000" stroke-width="0.3"/>
<circle cx="139.77" cy="248.14" r="2.0" fill="#e8151c" stroke="#b00000" stroke-width="0.3"/>
<circle cx="137.31" cy="246.75" r="2.0" fill="#e8151c" stroke="#b00000" stroke-width="0.3"/>
<circle cx="143.49" cy="238.64" r="2.0" fill="#e8151c" stroke="#b00000" stroke-width="0.3"/>
<circle cx="151.95" cy="247.40" r="2.0" fill="#e8151c" stroke="#b00000" stroke-width="0.3"/>
<circle cx="142.68" cy="242.64" r="2.0" fill="#e8151c" stroke="#b00000" stroke-width="0.3"/>
<circle cx="158.24" cy="243.13" r="2.0" fill="#e8151c" stroke="#b00000" stroke-width="0.3"/>
<circle cx="155.97" cy="241.75" r="2.0" fill="#e8151c" stroke="#b00000" stroke-width="0.3"/>
<circle cx="139.01" cy="243.95" r="2.0" fill="#e8151c" stroke="#b00000" stroke-width="0.3"/>
<circle cx="128.51" cy="244.98" r="2.0" fill="#e8151c" stroke="#b00000" stroke-width="0.3"/>
<circle cx="134.19" cy="238.91" r="2.0" fill="#e8151c" stroke="#b00000" stroke-width="0.3"/>
<circle cx="144.64" cy="242.79" r="2.0" fill="#e8151c" stroke="#b00000" stroke-width="0.3"/>
<circle cx="127.34" cy="245.29" r="2.0" fill="#e8151c" stroke="#b00000" stroke-width="0.3"/>
<circle cx="157.28" cy="238.89" r="2.0" fill="#e8151c" stroke="#b00000" stroke-width="0.3"/>
<circle cx="139.01" cy="250.00" r="2.0" fill="#e8151c" stroke="#b00000" stroke-width="0.3"/>
<circle cx="130.30" cy="244.76" r="2.0" fill="#e8151c" stroke="#b00000" stroke-width="0.3"/>
<circle cx="27.90" cy="292.90" r="2.0" fill="#22dd22" stroke="#139913" stroke-width="0.35"/>
<circle cx="31.20" cy="292.50" r="2.0" fill="#22dd22" stroke="#139913" stroke-width="0.35"/>
<circle cx="34.40" cy="292.50" r="2.0" fill="#22dd22" stroke="#139913" stroke-width="0.35"/>
<circle cx="39.70" cy="293.40" r="2.0" fill="#22dd22" stroke="#139913" stroke-width="0.35"/>
<circle cx="43.70" cy="293.40" r="2.0" fill="#22dd22" stroke="#139913" stroke-width="0.35"/>
<circle cx="47.60" cy="292.60" r="2.0" fill="#22dd22" stroke="#139913" stroke-width="0.35"/>
<circle cx="48.90" cy="295.50" r="2.0" fill="#22dd22" stroke="#139913" stroke-width="0.35"/>
<circle cx="52.50" cy="294.30" r="2.0" fill="#22dd22" stroke="#139913" stroke-width="0.35"/>
<circle cx="56.80" cy="292.60" r="2.0" fill="#22dd22" stroke="#139913" stroke-width="0.35"/>
<circle cx="28.50" cy="294.90" r="2.0" fill="#22dd22" stroke="#139913" stroke-width="0.35"/>
<circle cx="31.80" cy="295.80" r="2.0" fill="#22dd22" stroke="#139913" stroke-width="0.35"/>
<circle cx="33.80" cy="296.20" r="2.0" fill="#22dd22" stroke="#139913" stroke-width="0.35"/>
<circle cx="38.40" cy="297.20" r="2.0" fill="#22dd22" stroke="#139913" stroke-width="0.35"/>
<circle cx="41.00" cy="295.40" r="2.0" fill="#22dd22" stroke="#139913" stroke-width="0.35"/>
<circle cx="26.60" cy="299.50" r="2.0" fill="#22dd22" stroke="#139913" stroke-width="0.35"/>
<circle cx="29.80" cy="298.20" r="2.0" fill="#22dd22" stroke="#139913" stroke-width="0.35"/>
<circle cx="34.40" cy="296.80" r="2.0" fill="#22dd22" stroke="#139913" stroke-width="0.35"/>
<circle cx="39.00" cy="297.50" r="2.0" fill="#22dd22" stroke="#139913" stroke-width="0.35"/>
<circle cx="50.20" cy="298.20" r="2.0" fill="#22dd22" stroke="#139913" stroke-width="0.35"/>
<circle cx="29.20" cy="300.80" r="2.0" fill="#22dd22" stroke="#139913" stroke-width="0.35"/>
<circle cx="41.70" cy="300.50" r="2.0" fill="#22dd22" stroke="#139913" stroke-width="0.35"/>
<circle cx="52.00" cy="294.90" r="2.0" fill="#22dd22" stroke="#139913" stroke-width="0.35"/>
<circle cx="27.20" cy="304.70" r="2.0" fill="#22dd22" stroke="#139913" stroke-width="0.35"/>
<circle cx="31.80" cy="305.40" r="2.0" fill="#22dd22" stroke="#139913" stroke-width="0.35"/>
<circle cx="32.50" cy="304.10" r="2.0" fill="#22dd22" stroke="#139913" stroke-width="0.35"/>
<circle cx="47.00" cy="304.70" r="2.0" fill="#22dd22" stroke="#139913" stroke-width="0.35"/>
<circle cx="56.80" cy="305.00" r="2.0" fill="#22dd22" stroke="#139913" stroke-width="0.35"/>
<circle cx="32.50" cy="292.90" r="2.0" fill="#22dd22" stroke="#139913" stroke-width="0.35"/>
<circle cx="36.50" cy="294.50" r="2.0" fill="#22dd22" stroke="#139913" stroke-width="0.35"/>
<circle cx="45.50" cy="296.00" r="2.0" fill="#22dd22" stroke="#139913" stroke-width="0.35"/>
<rect x="18.6" y="201.6" width="146.6" height="136.6" fill="none" stroke="#3a3a3a" stroke-width="1.6" rx="1"/>
<line x1="16.50" y1="333.65" x2="18.50" y2="333.65" stroke="#444" stroke-width="0.7" />
<text x="16.30" y="336.22" font-size="7.13" text-anchor="end" font-weight="normal" fill="#222" stroke="#222" stroke-width="0.22" textLength="5.51" lengthAdjust="spacingAndGlyphs" >-3</text>
<line x1="16.50" y1="313.10" x2="18.50" y2="313.10" stroke="#444" stroke-width="0.7" />
<text x="16.30" y="315.67" font-size="7.13" text-anchor="end" font-weight="normal" fill="#222" stroke="#222" stroke-width="0.22" textLength="5.51" lengthAdjust="spacingAndGlyphs" >-2</text>
<line x1="16.50" y1="292.55" x2="18.50" y2="292.55" stroke="#444" stroke-width="0.7" />
<text x="16.30" y="295.12" font-size="7.13" text-anchor="end" font-weight="normal" fill="#222" stroke="#222" stroke-width="0.22" textLength="5.51" lengthAdjust="spacingAndGlyphs" >-1</text>
<line x1="16.50" y1="272.00" x2="18.50" y2="272.00" stroke="#444" stroke-width="0.7" />
<text x="16.30" y="274.57" font-size="7.13" text-anchor="end" font-weight="normal" fill="#222" stroke="#222" stroke-width="0.22" textLength="3.45" lengthAdjust="spacingAndGlyphs" >0</text>
<line x1="16.50" y1="251.45" x2="18.50" y2="251.45" stroke="#444" stroke-width="0.7" />
<text x="16.30" y="254.02" font-size="7.13" text-anchor="end" font-weight="normal" fill="#222" stroke="#222" stroke-width="0.22" textLength="3.45" lengthAdjust="spacingAndGlyphs" >1</text>
<line x1="16.50" y1="230.90" x2="18.50" y2="230.90" stroke="#444" stroke-width="0.7" />
<text x="16.30" y="233.47" font-size="7.13" text-anchor="end" font-weight="normal" fill="#222" stroke="#222" stroke-width="0.22" textLength="3.45" lengthAdjust="spacingAndGlyphs" >2</text>
<line x1="16.50" y1="210.35" x2="18.50" y2="210.35" stroke="#444" stroke-width="0.7" />
<text x="16.30" y="212.92" font-size="7.13" text-anchor="end" font-weight="normal" fill="#222" stroke="#222" stroke-width="0.22" textLength="3.45" lengthAdjust="spacingAndGlyphs" >3</text>
<line x1="23.60" y1="338.00" x2="23.60" y2="340.00" stroke="#444" stroke-width="0.7" />
<text x="23.60" y="346.68" font-size="6.90" text-anchor="middle" font-weight="normal" fill="#333" stroke="#333" stroke-width="0.22" textLength="5.34" lengthAdjust="spacingAndGlyphs" >-1</text>
<line x1="57.95" y1="338.00" x2="57.95" y2="340.00" stroke="#444" stroke-width="0.7" />
<text x="57.95" y="346.68" font-size="6.90" text-anchor="middle" font-weight="normal" fill="#333" stroke="#333" stroke-width="0.22" textLength="10.34" lengthAdjust="spacingAndGlyphs" >-0.5</text>
<line x1="92.30" y1="338.00" x2="92.30" y2="340.00" stroke="#444" stroke-width="0.7" />
<text x="92.30" y="346.68" font-size="6.90" text-anchor="middle" font-weight="normal" fill="#333" stroke="#333" stroke-width="0.22" textLength="3.34" lengthAdjust="spacingAndGlyphs" >0</text>
<line x1="126.65" y1="338.00" x2="126.65" y2="340.00" stroke="#444" stroke-width="0.7" />
<text x="126.65" y="346.68" font-size="6.90" text-anchor="middle" font-weight="normal" fill="#333" stroke="#333" stroke-width="0.22" textLength="8.34" lengthAdjust="spacingAndGlyphs" >0.5</text>
<line x1="161.00" y1="338.00" x2="161.00" y2="340.00" stroke="#444" stroke-width="0.7" />
<text x="161.00" y="346.68" font-size="6.90" text-anchor="middle" font-weight="normal" fill="#333" stroke="#333" stroke-width="0.22" textLength="3.34" lengthAdjust="spacingAndGlyphs" >1</text>
<text x="91.70" y="357.83" font-size="7.30" text-anchor="middle" font-weight="bold" fill="#111" stroke="#111" stroke-width="0.22" textLength="69.16" lengthAdjust="spacingAndGlyphs" >Correlation with F13A1</text>
<text x="8.20" y="272.67" font-size="7.42" text-anchor="middle" font-weight="bold" fill="#111" stroke="#111" stroke-width="0.22" textLength="49.83" lengthAdjust="spacingAndGlyphs" transform="rotate(-90 8.2 270)">Mean Difference</text>
<text x="146.30" y="208.44" font-size="6.79" text-anchor="middle" font-weight="bold" fill="#111" stroke="#111" stroke-width="0.22" textLength="31.49" lengthAdjust="spacingAndGlyphs" >138 Probes</text>
<text x="37.80" y="334.24" font-size="6.79" text-anchor="middle" font-weight="bold" fill="#111" stroke="#111" stroke-width="0.22" textLength="28.20" lengthAdjust="spacingAndGlyphs" >32 Probes</text>
<circle cx="110.00" cy="322.50" r="2.3" fill="#33dd33" stroke="#1a9a1a" stroke-width="0.3"/>
<circle cx="110.00" cy="330.50" r="2.3" fill="#e41a1c" stroke="#b00000" stroke-width="0.3"/>
<text x="114.50" y="324.65" font-size="5.98" text-anchor="start" font-weight="normal" fill="#333" stroke="#333" stroke-width="0.22" textLength="45.71" lengthAdjust="spacingAndGlyphs" >Neg.Corr &amp; Diff &lt; -1</text>
<text x="114.50" y="332.65" font-size="5.98" text-anchor="start" font-weight="normal" fill="#333" stroke="#333" stroke-width="0.22" textLength="44.84" lengthAdjust="spacingAndGlyphs" >Pos. Corr &amp; Diff &gt; 1</text>
<text x="185.25" y="193.80" font-size="9.80" text-anchor="middle" font-weight="bold" fill="#111" stroke="#111" stroke-width="0.22" textLength="5.60" lengthAdjust="spacingAndGlyphs" >C</text>
<text x="173.90" y="273.12" font-size="5.90" text-anchor="middle" font-weight="bold" fill="#111" stroke="#111" stroke-width="0.22" transform="rotate(-90 173.9 271)">Relative Expression</text>
<text x="213.40" y="204.10" font-size="6.40" text-anchor="middle" font-weight="bold" fill="#111" stroke="#111" stroke-width="0.22" textLength="28.90" lengthAdjust="spacingAndGlyphs" >SERPINB2</text>
<line x1="185.60" y1="211.60" x2="185.60" y2="261.30" stroke="#777" stroke-width="0.9" />
<line x1="185.60" y1="261.30" x2="238.60" y2="261.30" stroke="#777" stroke-width="0.9" />
<line x1="183.60" y1="211.60" x2="185.60" y2="211.60" stroke="#333" stroke-width="0.7" />
<text x="183.10" y="213.26" font-size="4.60" text-anchor="end" font-weight="normal" fill="#222" stroke="#222" stroke-width="0.22" >10</text>
<line x1="183.60" y1="221.50" x2="185.60" y2="221.50" stroke="#333" stroke-width="0.7" />
<text x="183.10" y="223.16" font-size="4.60" text-anchor="end" font-weight="normal" fill="#222" stroke="#222" stroke-width="0.22" >8</text>
<line x1="183.60" y1="231.60" x2="185.60" y2="231.60" stroke="#333" stroke-width="0.7" />
<text x="183.10" y="233.26" font-size="4.60" text-anchor="end" font-weight="normal" fill="#222" stroke="#222" stroke-width="0.22" >6</text>
<line x1="183.60" y1="241.20" x2="185.60" y2="241.20" stroke="#333" stroke-width="0.7" />
<text x="183.10" y="242.86" font-size="4.60" text-anchor="end" font-weight="normal" fill="#222" stroke="#222" stroke-width="0.22" >4</text>
<line x1="183.60" y1="251.30" x2="185.60" y2="251.30" stroke="#333" stroke-width="0.7" />
<text x="183.10" y="252.96" font-size="4.60" text-anchor="end" font-weight="normal" fill="#222" stroke="#222" stroke-width="0.22" >2</text>
<line x1="183.60" y1="261.30" x2="185.60" y2="261.30" stroke="#333" stroke-width="0.7" />
<text x="183.10" y="262.96" font-size="4.60" text-anchor="end" font-weight="normal" fill="#222" stroke="#222" stroke-width="0.22" >0</text>
<line x1="200.00" y1="261.30" x2="200.00" y2="262.80" stroke="#333" stroke-width="0.7" />
<line x1="229.20" y1="261.30" x2="229.20" y2="262.80" stroke="#333" stroke-width="0.7" />
<text x="200.00" y="268.90" font-size="5.00" text-anchor="middle" font-weight="bold" fill="#222" >6h</text>
<text x="229.20" y="268.90" font-size="5.00" text-anchor="middle" font-weight="bold" fill="#222" >24h</text>
<text x="210.30" y="218.27" font-size="5.20" text-anchor="start" font-weight="normal" fill="#444" stroke="#444" stroke-width="0.12" >p &lt; 0.006</text>
<text x="210.30" y="225.47" font-size="5.20" text-anchor="start" font-weight="normal" fill="#444" stroke="#444" stroke-width="0.12" >Corr.P = 0.86</text>
<line x1="200.00" y1="216.80" x2="200.00" y2="227.10" stroke="#222" stroke-width="1.1" />
<line x1="195.30" y1="216.80" x2="204.70" y2="216.80" stroke="#222" stroke-width="1.1" />
<line x1="195.30" y1="227.10" x2="204.70" y2="227.10" stroke="#222" stroke-width="1.1" />
<line x1="190.50" y1="221.60" x2="209.50" y2="221.60" stroke="#666" stroke-width="1.0" />
<circle cx="200.00" cy="214.50" r="1.45" fill="#111" stroke="none" stroke-width="0"/>
<circle cx="196.00" cy="223.20" r="1.45" fill="#111" stroke="none" stroke-width="0"/>
<circle cx="200.00" cy="225.50" r="1.45" fill="#111" stroke="none" stroke-width="0"/>
<circle cx="204.30" cy="224.00" r="1.45" fill="#111" stroke="none" stroke-width="0"/>
<line x1="219.75" y1="239.75" x2="238.40" y2="239.75" stroke="#666" stroke-width="1.0" />
<circle cx="222.90" cy="239.75" r="1.45" fill="#111" stroke="none" stroke-width="0"/>
<circle cx="226.90" cy="239.75" r="1.45" fill="#111" stroke="none" stroke-width="0"/>
<circle cx="231.10" cy="239.75" r="1.45" fill="#111" stroke="none" stroke-width="0"/>
<circle cx="235.20" cy="239.75" r="1.45" fill="#111" stroke="none" stroke-width="0"/>
<text x="278.70" y="204.30" font-size="6.40" text-anchor="middle" font-weight="bold" fill="#111" stroke="#111" stroke-width="0.22" textLength="20.30" lengthAdjust="spacingAndGlyphs" >CCL17</text>
<line x1="249.20" y1="211.70" x2="249.20" y2="261.20" stroke="#777" stroke-width="0.9" />
<line x1="249.20" y1="261.20" x2="303.50" y2="261.20" stroke="#777" stroke-width="0.9" />
<line x1="247.20" y1="211.70" x2="249.20" y2="211.70" stroke="#333" stroke-width="0.7" />
<text x="246.70" y="213.36" font-size="4.60" text-anchor="end" font-weight="normal" fill="#222" stroke="#222" stroke-width="0.22" >10</text>
<line x1="247.20" y1="226.10" x2="249.20" y2="226.10" stroke="#333" stroke-width="0.7" />
<text x="246.70" y="227.76" font-size="4.60" text-anchor="end" font-weight="normal" fill="#222" stroke="#222" stroke-width="0.22" >8</text>
<line x1="247.20" y1="240.20" x2="249.20" y2="240.20" stroke="#333" stroke-width="0.7" />
<text x="246.70" y="241.86" font-size="4.60" text-anchor="end" font-weight="normal" fill="#222" stroke="#222" stroke-width="0.22" >6</text>
<line x1="247.20" y1="254.40" x2="249.20" y2="254.40" stroke="#333" stroke-width="0.7" />
<text x="246.70" y="256.06" font-size="4.60" text-anchor="end" font-weight="normal" fill="#222" stroke="#222" stroke-width="0.22" >4</text>
<line x1="264.20" y1="261.20" x2="264.20" y2="262.70" stroke="#333" stroke-width="0.7" />
<line x1="293.00" y1="261.20" x2="293.00" y2="262.70" stroke="#333" stroke-width="0.7" />
<text x="264.20" y="268.80" font-size="5.00" text-anchor="middle" font-weight="bold" fill="#222" >6h</text>
<text x="293.00" y="268.80" font-size="5.00" text-anchor="middle" font-weight="bold" fill="#222" >24h</text>
<text x="276.00" y="218.27" font-size="5.20" text-anchor="start" font-weight="normal" fill="#444" stroke="#444" stroke-width="0.12" >p &lt; 0.02</text>
<text x="276.00" y="225.07" font-size="5.20" text-anchor="start" font-weight="normal" fill="#444" stroke="#444" stroke-width="0.12" >Corr.P = 0.78</text>
<line x1="264.20" y1="217.30" x2="264.20" y2="226.30" stroke="#222" stroke-width="1.1" />
<line x1="259.50" y1="217.30" x2="269.00" y2="217.30" stroke="#222" stroke-width="1.1" />
<line x1="259.50" y1="226.30" x2="269.00" y2="226.30" stroke="#222" stroke-width="1.1" />
<line x1="254.70" y1="222.40" x2="273.70" y2="222.40" stroke="#666" stroke-width="1.0" />
<circle cx="261.80" cy="216.80" r="1.45" fill="#111" stroke="none" stroke-width="0"/>
<circle cx="265.80" cy="220.50" r="1.45" fill="#111" stroke="none" stroke-width="0"/>
<circle cx="260.70" cy="227.10" r="1.45" fill="#111" stroke="none" stroke-width="0"/>
<circle cx="265.80" cy="227.10" r="1.45" fill="#111" stroke="none" stroke-width="0"/>
<line x1="293.00" y1="239.00" x2="293.00" y2="247.70" stroke="#222" stroke-width="1.1" />
<line x1="288.70" y1="239.00" x2="297.40" y2="239.00" stroke="#222" stroke-width="1.1" />
<line x1="288.70" y1="247.70" x2="297.40" y2="247.70" stroke="#222" stroke-width="1.1" />
<line x1="284.00" y1="243.20" x2="302.60" y2="243.20" stroke="#666" stroke-width="1.0" />
<circle cx="289.50" cy="242.10" r="1.45" fill="#111" stroke="none" stroke-width="0"/>
<circle cx="293.00" cy="240.50" r="1.45" fill="#111" stroke="none" stroke-width="0"/>
<circle cx="297.40" cy="238.60" r="1.45" fill="#111" stroke="none" stroke-width="0"/>
<circle cx="293.00" cy="250.00" r="1.45" fill="#111" stroke="none" stroke-width="0"/>
<text x="345.90" y="204.30" font-size="6.40" text-anchor="middle" font-weight="bold" fill="#111" stroke="#111" stroke-width="0.22" textLength="15.70" lengthAdjust="spacingAndGlyphs" >CCL2</text>
<line x1="317.20" y1="212.10" x2="317.20" y2="261.40" stroke="#777" stroke-width="0.9" />
<line x1="317.20" y1="261.40" x2="372.00" y2="261.40" stroke="#777" stroke-width="0.9" />
<line x1="315.20" y1="212.10" x2="317.20" y2="212.10" stroke="#333" stroke-width="0.7" />
<text x="314.70" y="213.76" font-size="4.60" text-anchor="end" font-weight="normal" fill="#222" stroke="#222" stroke-width="0.22" >12</text>
<line x1="315.20" y1="224.30" x2="317.20" y2="224.30" stroke="#333" stroke-width="0.7" />
<text x="314.70" y="225.96" font-size="4.60" text-anchor="end" font-weight="normal" fill="#222" stroke="#222" stroke-width="0.22" >10</text>
<line x1="315.20" y1="236.60" x2="317.20" y2="236.60" stroke="#333" stroke-width="0.7" />
<text x="314.70" y="238.26" font-size="4.60" text-anchor="end" font-weight="normal" fill="#222" stroke="#222" stroke-width="0.22" >8</text>
<line x1="315.20" y1="248.90" x2="317.20" y2="248.90" stroke="#333" stroke-width="0.7" />
<text x="314.70" y="250.56" font-size="4.60" text-anchor="end" font-weight="normal" fill="#222" stroke="#222" stroke-width="0.22" >6</text>
<line x1="315.20" y1="261.40" x2="317.20" y2="261.40" stroke="#333" stroke-width="0.7" />
<text x="314.70" y="263.06" font-size="4.60" text-anchor="end" font-weight="normal" fill="#222" stroke="#222" stroke-width="0.22" >4</text>
<line x1="332.00" y1="261.40" x2="332.00" y2="262.90" stroke="#333" stroke-width="0.7" />
<line x1="360.20" y1="261.40" x2="360.20" y2="262.90" stroke="#333" stroke-width="0.7" />
<text x="332.00" y="269.00" font-size="5.00" text-anchor="middle" font-weight="bold" fill="#222" >6h</text>
<text x="360.20" y="269.00" font-size="5.00" text-anchor="middle" font-weight="bold" fill="#222" >24h</text>
<text x="344.60" y="214.37" font-size="5.20" text-anchor="start" font-weight="normal" fill="#444" stroke="#444" stroke-width="0.12" >p &lt; 0.04</text>
<text x="344.60" y="220.37" font-size="5.20" text-anchor="start" font-weight="normal" fill="#444" stroke="#444" stroke-width="0.12" >Corr.P = 0.73</text>
<line x1="332.00" y1="215.40" x2="332.00" y2="229.00" stroke="#222" stroke-width="1.1" />
<line x1="327.50" y1="215.40" x2="336.50" y2="215.40" stroke="#222" stroke-width="1.1" />
<line x1="327.50" y1="229.00" x2="336.50" y2="229.00" stroke="#222" stroke-width="1.1" />
<line x1="322.50" y1="222.20" x2="340.90" y2="222.20" stroke="#666" stroke-width="1.0" />
<circle cx="332.00" cy="212.10" r="1.45" fill="#111" stroke="none" stroke-width="0"/>
<circle cx="327.50" cy="224.00" r="1.45" fill="#111" stroke="none" stroke-width="0"/>
<circle cx="332.00" cy="227.50" r="1.45" fill="#111" stroke="none" stroke-width="0"/>
<circle cx="336.00" cy="226.00" r="1.45" fill="#111" stroke="none" stroke-width="0"/>
<line x1="360.20" y1="232.90" x2="360.20" y2="248.00" stroke="#222" stroke-width="1.1" />
<line x1="355.50" y1="232.90" x2="365.00" y2="232.90" stroke="#222" stroke-width="1.1" />
<line x1="355.50" y1="248.00" x2="365.00" y2="248.00" stroke="#222" stroke-width="1.1" />
<line x1="351.00" y1="240.10" x2="369.50" y2="240.10" stroke="#666" stroke-width="1.0" />
<circle cx="360.20" cy="229.00" r="1.45" fill="#111" stroke="none" stroke-width="0"/>
<circle cx="355.50" cy="242.50" r="1.45" fill="#111" stroke="none" stroke-width="0"/>
<circle cx="360.20" cy="245.00" r="1.45" fill="#111" stroke="none" stroke-width="0"/>
<circle cx="365.00" cy="243.00" r="1.45" fill="#111" stroke="none" stroke-width="0"/>
<text x="213.40" y="281.30" font-size="6.40" text-anchor="middle" font-weight="bold" fill="#111" stroke="#111" stroke-width="0.22" textLength="19.40" lengthAdjust="spacingAndGlyphs" >CCL13</text>
<line x1="185.60" y1="288.80" x2="185.60" y2="338.30" stroke="#777" stroke-width="0.9" />
<line x1="185.60" y1="338.30" x2="238.60" y2="338.30" stroke="#777" stroke-width="0.9" />
<line x1="183.60" y1="288.80" x2="185.60" y2="288.80" stroke="#333" stroke-width="0.7" />
<text x="183.10" y="290.46" font-size="4.60" text-anchor="end" font-weight="normal" fill="#222" stroke="#222" stroke-width="0.22" >10</text>
<line x1="183.60" y1="298.80" x2="185.60" y2="298.80" stroke="#333" stroke-width="0.7" />
<text x="183.10" y="300.46" font-size="4.60" text-anchor="end" font-weight="normal" fill="#222" stroke="#222" stroke-width="0.22" >9</text>
<line x1="183.60" y1="308.60" x2="185.60" y2="308.60" stroke="#333" stroke-width="0.7" />
<text x="183.10" y="310.26" font-size="4.60" text-anchor="end" font-weight="normal" fill="#222" stroke="#222" stroke-width="0.22" >8</text>
<line x1="183.60" y1="318.50" x2="185.60" y2="318.50" stroke="#333" stroke-width="0.7" />
<text x="183.10" y="320.16" font-size="4.60" text-anchor="end" font-weight="normal" fill="#222" stroke="#222" stroke-width="0.22" >7</text>
<line x1="183.60" y1="328.40" x2="185.60" y2="328.40" stroke="#333" stroke-width="0.7" />
<text x="183.10" y="330.06" font-size="4.60" text-anchor="end" font-weight="normal" fill="#222" stroke="#222" stroke-width="0.22" >6</text>
<line x1="183.60" y1="338.30" x2="185.60" y2="338.30" stroke="#333" stroke-width="0.7" />
<text x="183.10" y="339.96" font-size="4.60" text-anchor="end" font-weight="normal" fill="#222" stroke="#222" stroke-width="0.22" >5</text>
<line x1="199.70" y1="338.30" x2="199.70" y2="339.80" stroke="#333" stroke-width="0.7" />
<line x1="229.20" y1="338.30" x2="229.20" y2="339.80" stroke="#333" stroke-width="0.7" />
<text x="199.70" y="345.90" font-size="5.00" text-anchor="middle" font-weight="bold" fill="#222" >6h</text>
<text x="229.20" y="345.90" font-size="5.00" text-anchor="middle" font-weight="bold" fill="#222" >24h</text>
<text x="212.40" y="293.47" font-size="5.20" text-anchor="start" font-weight="normal" fill="#444" stroke="#444" stroke-width="0.12" >p &lt; 3.4e-6</text>
<text x="212.40" y="301.47" font-size="5.20" text-anchor="start" font-weight="normal" fill="#444" stroke="#444" stroke-width="0.12" >Corr.P = 0.99</text>
<line x1="199.70" y1="290.00" x2="199.70" y2="309.00" stroke="#222" stroke-width="1.1" />
<line x1="195.00" y1="290.00" x2="204.50" y2="290.00" stroke="#222" stroke-width="1.1" />
<line x1="195.00" y1="309.00" x2="204.50" y2="309.00" stroke="#222" stroke-width="1.1" />
<line x1="190.00" y1="299.60" x2="209.00" y2="299.60" stroke="#666" stroke-width="1.0" />
<circle cx="196.00" cy="294.70" r="1.45" fill="#111" stroke="none" stroke-width="0"/>
<circle cx="199.70" cy="294.70" r="1.45" fill="#111" stroke="none" stroke-width="0"/>
<circle cx="204.00" cy="294.70" r="1.45" fill="#111" stroke="none" stroke-width="0"/>
<circle cx="199.70" cy="314.00" r="1.45" fill="#111" stroke="none" stroke-width="0"/>
<line x1="229.20" y1="319.00" x2="229.20" y2="332.60" stroke="#222" stroke-width="1.1" />
<line x1="224.60" y1="319.00" x2="233.80" y2="319.00" stroke="#222" stroke-width="1.1" />
<line x1="224.60" y1="332.60" x2="233.80" y2="332.60" stroke="#222" stroke-width="1.1" />
<line x1="220.00" y1="325.70" x2="238.70" y2="325.70" stroke="#666" stroke-width="1.0" />
<circle cx="229.00" cy="316.80" r="1.45" fill="#111" stroke="none" stroke-width="0"/>
<circle cx="228.00" cy="325.00" r="1.45" fill="#111" stroke="none" stroke-width="0"/>
<circle cx="232.00" cy="327.00" r="1.45" fill="#111" stroke="none" stroke-width="0"/>
<circle cx="229.00" cy="333.00" r="1.45" fill="#111" stroke="none" stroke-width="0"/>
<text x="278.70" y="281.00" font-size="6.40" text-anchor="middle" font-weight="bold" fill="#111" stroke="#111" stroke-width="0.22" textLength="27.90" lengthAdjust="spacingAndGlyphs" >SLC39A8</text>
<line x1="252.00" y1="288.80" x2="252.00" y2="338.30" stroke="#777" stroke-width="0.9" />
<line x1="252.00" y1="338.30" x2="306.00" y2="338.30" stroke="#777" stroke-width="0.9" />
<line x1="250.00" y1="288.80" x2="252.00" y2="288.80" stroke="#333" stroke-width="0.7" />
<text x="249.50" y="290.46" font-size="4.60" text-anchor="end" font-weight="normal" fill="#222" stroke="#222" stroke-width="0.22" >9</text>
<line x1="250.00" y1="298.60" x2="252.00" y2="298.60" stroke="#333" stroke-width="0.7" />
<text x="249.50" y="300.26" font-size="4.60" text-anchor="end" font-weight="normal" fill="#222" stroke="#222" stroke-width="0.22" >8</text>
<line x1="250.00" y1="308.40" x2="252.00" y2="308.40" stroke="#333" stroke-width="0.7" />
<text x="249.50" y="310.06" font-size="4.60" text-anchor="end" font-weight="normal" fill="#222" stroke="#222" stroke-width="0.22" >7</text>
<line x1="250.00" y1="318.40" x2="252.00" y2="318.40" stroke="#333" stroke-width="0.7" />
<text x="249.50" y="320.06" font-size="4.60" text-anchor="end" font-weight="normal" fill="#222" stroke="#222" stroke-width="0.22" >6</text>
<line x1="250.00" y1="328.30" x2="252.00" y2="328.30" stroke="#333" stroke-width="0.7" />
<text x="249.50" y="329.96" font-size="4.60" text-anchor="end" font-weight="normal" fill="#222" stroke="#222" stroke-width="0.22" >5</text>
<line x1="250.00" y1="338.30" x2="252.00" y2="338.30" stroke="#333" stroke-width="0.7" />
<text x="249.50" y="339.96" font-size="4.60" text-anchor="end" font-weight="normal" fill="#222" stroke="#222" stroke-width="0.22" >4</text>
<line x1="266.70" y1="338.30" x2="266.70" y2="339.80" stroke="#333" stroke-width="0.7" />
<line x1="295.20" y1="338.30" x2="295.20" y2="339.80" stroke="#333" stroke-width="0.7" />
<text x="266.70" y="345.90" font-size="5.00" text-anchor="middle" font-weight="bold" fill="#222" >6h</text>
<text x="295.20" y="345.90" font-size="5.00" text-anchor="middle" font-weight="bold" fill="#222" >24h</text>
<text x="275.00" y="295.27" font-size="5.20" text-anchor="start" font-weight="normal" fill="#444" stroke="#444" stroke-width="0.12" >p &lt; 0.011</text>
<text x="275.00" y="301.77" font-size="5.20" text-anchor="start" font-weight="normal" fill="#444" stroke="#444" stroke-width="0.12" >Corr.P = 0.83</text>
<line x1="266.70" y1="297.60" x2="266.70" y2="313.40" stroke="#222" stroke-width="1.1" />
<line x1="262.00" y1="297.60" x2="271.40" y2="297.60" stroke="#222" stroke-width="1.1" />
<line x1="262.00" y1="313.40" x2="271.40" y2="313.40" stroke="#222" stroke-width="1.1" />
<line x1="257.00" y1="305.50" x2="276.00" y2="305.50" stroke="#666" stroke-width="1.0" />
<circle cx="262.00" cy="301.50" r="1.45" fill="#111" stroke="none" stroke-width="0"/>
<circle cx="266.70" cy="301.00" r="1.45" fill="#111" stroke="none" stroke-width="0"/>
<circle cx="271.00" cy="301.50" r="1.45" fill="#111" stroke="none" stroke-width="0"/>
<circle cx="266.70" cy="317.90" r="1.45" fill="#111" stroke="none" stroke-width="0"/>
<line x1="295.20" y1="320.50" x2="295.20" y2="333.00" stroke="#222" stroke-width="1.1" />
<line x1="291.25" y1="320.50" x2="300.00" y2="320.50" stroke="#222" stroke-width="1.1" />
<line x1="291.25" y1="333.00" x2="300.00" y2="333.00" stroke="#222" stroke-width="1.1" />
<line x1="285.50" y1="327.00" x2="304.50" y2="327.00" stroke="#666" stroke-width="1.0" />
<circle cx="295.50" cy="320.50" r="1.45" fill="#111" stroke="none" stroke-width="0"/>
<circle cx="297.00" cy="330.00" r="1.45" fill="#111" stroke="none" stroke-width="0"/>
<circle cx="293.00" cy="333.75" r="1.45" fill="#111" stroke="none" stroke-width="0"/>
<text x="345.90" y="280.40" font-size="6.40" text-anchor="middle" font-weight="bold" fill="#111" stroke="#111" stroke-width="0.22" textLength="25.30" lengthAdjust="spacingAndGlyphs" >CLEC7A</text>
<line x1="317.00" y1="287.50" x2="317.00" y2="337.40" stroke="#777" stroke-width="0.9" />
<line x1="317.00" y1="337.40" x2="372.00" y2="337.40" stroke="#777" stroke-width="0.9" />
<line x1="315.00" y1="287.50" x2="317.00" y2="287.50" stroke="#333" stroke-width="0.7" />
<text x="314.50" y="289.16" font-size="4.60" text-anchor="end" font-weight="normal" fill="#222" stroke="#222" stroke-width="0.22" >9</text>
<line x1="315.00" y1="297.60" x2="317.00" y2="297.60" stroke="#333" stroke-width="0.7" />
<text x="314.50" y="299.26" font-size="4.60" text-anchor="end" font-weight="normal" fill="#222" stroke="#222" stroke-width="0.22" >8</text>
<line x1="315.00" y1="307.40" x2="317.00" y2="307.40" stroke="#333" stroke-width="0.7" />
<text x="314.50" y="309.06" font-size="4.60" text-anchor="end" font-weight="normal" fill="#222" stroke="#222" stroke-width="0.22" >7</text>
<line x1="315.00" y1="317.50" x2="317.00" y2="317.50" stroke="#333" stroke-width="0.7" />
<text x="314.50" y="319.16" font-size="4.60" text-anchor="end" font-weight="normal" fill="#222" stroke="#222" stroke-width="0.22" >6</text>
<line x1="315.00" y1="327.30" x2="317.00" y2="327.30" stroke="#333" stroke-width="0.7" />
<text x="314.50" y="328.96" font-size="4.60" text-anchor="end" font-weight="normal" fill="#222" stroke="#222" stroke-width="0.22" >5</text>
<line x1="315.00" y1="337.40" x2="317.00" y2="337.40" stroke="#333" stroke-width="0.7" />
<text x="314.50" y="339.06" font-size="4.60" text-anchor="end" font-weight="normal" fill="#222" stroke="#222" stroke-width="0.22" >4</text>
<line x1="331.70" y1="337.40" x2="331.70" y2="338.90" stroke="#333" stroke-width="0.7" />
<line x1="360.20" y1="337.40" x2="360.20" y2="338.90" stroke="#333" stroke-width="0.7" />
<text x="331.70" y="345.00" font-size="5.00" text-anchor="middle" font-weight="bold" fill="#222" >6h</text>
<text x="360.20" y="345.00" font-size="5.00" text-anchor="middle" font-weight="bold" fill="#222" >24h</text>
<text x="344.60" y="294.37" font-size="5.20" text-anchor="start" font-weight="normal" fill="#444" stroke="#444" stroke-width="0.12" >p &lt; 0.011</text>
<text x="344.60" y="301.17" font-size="5.20" text-anchor="start" font-weight="normal" fill="#444" stroke="#444" stroke-width="0.12" >Corr.P = 0.83</text>
<line x1="331.70" y1="293.00" x2="331.70" y2="316.60" stroke="#222" stroke-width="1.1" />
<line x1="327.20" y1="293.00" x2="336.20" y2="293.00" stroke="#222" stroke-width="1.1" />
<line x1="327.20" y1="316.60" x2="336.20" y2="316.60" stroke="#222" stroke-width="1.1" />
<line x1="322.00" y1="304.80" x2="341.00" y2="304.80" stroke="#666" stroke-width="1.0" />
<circle cx="327.50" cy="297.60" r="1.45" fill="#111" stroke="none" stroke-width="0"/>
<circle cx="336.00" cy="297.60" r="1.45" fill="#111" stroke="none" stroke-width="0"/>
<circle cx="331.70" cy="300.80" r="1.45" fill="#111" stroke="none" stroke-width="0"/>
<circle cx="331.70" cy="322.50" r="1.45" fill="#111" stroke="none" stroke-width="0"/>
<line x1="360.20" y1="319.50" x2="360.20" y2="331.25" stroke="#222" stroke-width="1.1" />
<line x1="356.25" y1="319.50" x2="366.25" y2="319.50" stroke="#222" stroke-width="1.1" />
<line x1="356.25" y1="331.25" x2="366.25" y2="331.25" stroke="#222" stroke-width="1.1" />
<line x1="351.25" y1="325.00" x2="370.00" y2="325.00" stroke="#666" stroke-width="1.0" />
<circle cx="359.50" cy="320.00" r="1.45" fill="#111" stroke="none" stroke-width="0"/>
<circle cx="363.75" cy="329.50" r="1.45" fill="#111" stroke="none" stroke-width="0"/>
<circle cx="358.75" cy="331.75" r="1.45" fill="#111" stroke="none" stroke-width="0"/>
<text x="196.05" y="369.50" font-size="10.40" text-anchor="middle" font-weight="bold" fill="#111" stroke="#111" stroke-width="0.22" textLength="6.30" lengthAdjust="spacingAndGlyphs" >D</text>
<text x="111.60" y="376.27" font-size="7.13" text-anchor="middle" font-weight="bold" fill="#1010e8" stroke="#1010e8" stroke-width="0.22" textLength="55.47" lengthAdjust="spacingAndGlyphs" >Positive regulation</text>
<text x="111.60" y="385.47" font-size="7.13" text-anchor="middle" font-weight="bold" fill="#1010e8" stroke="#1010e8" stroke-width="0.22" textLength="27.57" lengthAdjust="spacingAndGlyphs" >response</text>
<text x="217.80" y="387.17" font-size="7.13" text-anchor="middle" font-weight="bold" fill="#1010e8" stroke="#1010e8" stroke-width="0.22" textLength="43.07" lengthAdjust="spacingAndGlyphs" >Sterol process</text>
<text x="217.80" y="395.87" font-size="7.13" text-anchor="middle" font-weight="bold" fill="#1010e8" stroke="#1010e8" stroke-width="0.22" textLength="36.52" lengthAdjust="spacingAndGlyphs" >biosynthetic</text>
<text x="295.50" y="382.87" font-size="7.13" text-anchor="middle" font-weight="bold" fill="#1010e8" stroke="#1010e8" stroke-width="0.22" textLength="69.25" lengthAdjust="spacingAndGlyphs" >Membrane invagination</text>
<text x="295.50" y="392.07" font-size="7.13" text-anchor="middle" font-weight="bold" fill="#1010e8" stroke="#1010e8" stroke-width="0.22" textLength="36.18" lengthAdjust="spacingAndGlyphs" >endocytosis</text>
<ellipse cx="111.4" cy="468.2" rx="59.5" ry="80.8" fill="#fefef9" stroke="#777" stroke-width="0.65"/>
<ellipse cx="219.3" cy="441.7" rx="46.7" ry="45.3" fill="#fefef9" stroke="#777" stroke-width="0.65"/>
<ellipse cx="293.1" cy="436" rx="25.6" ry="44" fill="#fefef9" stroke="#777" stroke-width="0.65"/>
<g stroke="#86cbe4" stroke-width="1.25" opacity="0.9">
<line x1="96.4" y1="412" x2="118.2" y2="411.2"/>
<line x1="96.4" y1="412" x2="136.6" y2="422.1"/>
<line x1="96.4" y1="412" x2="82.6" y2="429.5"/>
<line x1="96.4" y1="412" x2="105.4" y2="431.5"/>
<line x1="96.4" y1="412" x2="146" y2="439.7"/>
<line x1="96.4" y1="412" x2="74.2" y2="447.1"/>
<line x1="96.4" y1="412" x2="95.3" y2="447.7"/>
<line x1="96.4" y1="412" x2="124.2" y2="443.2"/>
<line x1="96.4" y1="412" x2="115.5" y2="460.5"/>
<line x1="96.4" y1="412" x2="139.2" y2="464"/>
<line x1="96.4" y1="412" x2="85.3" y2="465.3"/>
<line x1="96.4" y1="412" x2="106.3" y2="476"/>
<line x1="96.4" y1="412" x2="127.4" y2="475.3"/>
<line x1="118.2" y1="411.2" x2="136.6" y2="422.1"/>
<line x1="118.2" y1="411.2" x2="82.6" y2="429.5"/>
<line x1="118.2" y1="411.2" x2="105.4" y2="431.5"/>
<line x1="118.2" y1="411.2" x2="146" y2="439.7"/>
<line x1="118.2" y1="411.2" x2="74.2" y2="447.1"/>
<line x1="118.2" y1="411.2" x2="95.3" y2="447.7"/>
<line x1="118.2" y1="411.2" x2="124.2" y2="443.2"/>
<line x1="118.2" y1="411.2" x2="115.5" y2="460.5"/>
<line x1="118.2" y1="411.2" x2="139.2" y2="464"/>
<line x1="118.2" y1="411.2" x2="85.3" y2="465.3"/>
<line x1="118.2" y1="411.2" x2="106.3" y2="476"/>
<line x1="118.2" y1="411.2" x2="127.4" y2="475.3"/>
<line x1="136.6" y1="422.1" x2="82.6" y2="429.5"/>
<line x1="136.6" y1="422.1" x2="105.4" y2="431.5"/>
<line x1="136.6" y1="422.1" x2="146" y2="439.7"/>
<line x1="136.6" y1="422.1" x2="74.2" y2="447.1"/>
<line x1="136.6" y1="422.1" x2="95.3" y2="447.7"/>
<line x1="136.6" y1="422.1" x2="124.2" y2="443.2"/>
<line x1="136.6" y1="422.1" x2="115.5" y2="460.5"/>
<line x1="136.6" y1="422.1" x2="139.2" y2="464"/>
<line x1="136.6" y1="422.1" x2="85.3" y2="465.3"/>
<line x1="136.6" y1="422.1" x2="106.3" y2="476"/>
<line x1="136.6" y1="422.1" x2="127.4" y2="475.3"/>
<line x1="82.6" y1="429.5" x2="105.4" y2="431.5"/>
<line x1="82.6" y1="429.5" x2="146" y2="439.7"/>
<line x1="82.6" y1="429.5" x2="74.2" y2="447.1"/>
<line x1="82.6" y1="429.5" x2="95.3" y2="447.7"/>
<line x1="82.6" y1="429.5" x2="124.2" y2="443.2"/>
<line x1="82.6" y1="429.5" x2="115.5" y2="460.5"/>
<line x1="82.6" y1="429.5" x2="139.2" y2="464"/>
<line x1="82.6" y1="429.5" x2="85.3" y2="465.3"/>
<line x1="82.6" y1="429.5" x2="106.3" y2="476"/>
<line x1="82.6" y1="429.5" x2="127.4" y2="475.3"/>
<line x1="105.4" y1="431.5" x2="146" y2="439.7"/>
<line x1="105.4" y1="431.5" x2="74.2" y2="447.1"/>
<line x1="105.4" y1="431.5" x2="95.3" y2="447.7"/>
<line x1="105.4" y1="431.5" x2="124.2" y2="443.2"/>
<line x1="105.4" y1="431.5" x2="115.5" y2="460.5"/>
<line x1="105.4" y1="431.5" x2="139.2" y2="464"/>
<line x1="105.4" y1="431.5" x2="85.3" y2="465.3"/>
<line x1="105.4" y1="431.5" x2="106.3" y2="476"/>
<line x1="105.4" y1="431.5" x2="127.4" y2="475.3"/>
<line x1="146" y1="439.7" x2="74.2" y2="447.1"/>
<line x1="146" y1="439.7" x2="95.3" y2="447.7"/>
<line x1="146" y1="439.7" x2="124.2" y2="443.2"/>
<line x1="146" y1="439.7" x2="115.5" y2="460.5"/>
<line x1="146" y1="439.7" x2="139.2" y2="464"/>
<line x1="146" y1="439.7" x2="85.3" y2="465.3"/>
<line x1="146" y1="439.7" x2="106.3" y2="476"/>
<line x1="146" y1="439.7" x2="127.4" y2="475.3"/>
<line x1="74.2" y1="447.1" x2="95.3" y2="447.7"/>
<line x1="74.2" y1="447.1" x2="124.2" y2="443.2"/>
<line x1="74.2" y1="447.1" x2="115.5" y2="460.5"/>
<line x1="74.2" y1="447.1" x2="139.2" y2="464"/>
<line x1="74.2" y1="447.1" x2="85.3" y2="465.3"/>
<line x1="74.2" y1="447.1" x2="106.3" y2="476"/>
<line x1="74.2" y1="447.1" x2="127.4" y2="475.3"/>
<line x1="95.3" y1="447.7" x2="124.2" y2="443.2"/>
<line x1="95.3" y1="447.7" x2="115.5" y2="460.5"/>
<line x1="95.3" y1="447.7" x2="139.2" y2="464"/>
<line x1="95.3" y1="447.7" x2="85.3" y2="465.3"/>
<line x1="95.3" y1="447.7" x2="106.3" y2="476"/>
<line x1="95.3" y1="447.7" x2="127.4" y2="475.3"/>
<line x1="124.2" y1="443.2" x2="115.5" y2="460.5"/>
<line x1="124.2" y1="443.2" x2="139.2" y2="464"/>
<line x1="124.2" y1="443.2" x2="85.3" y2="465.3"/>
<line x1="124.2" y1="443.2" x2="106.3" y2="476"/>
<line x1="124.2" y1="443.2" x2="127.4" y2="475.3"/>
<line x1="115.5" y1="460.5" x2="139.2" y2="464"/>
<line x1="115.5" y1="460.5" x2="85.3" y2="465.3"/>
<line x1="115.5" y1="460.5" x2="106.3" y2="476"/>
<line x1="115.5" y1="460.5" x2="127.4" y2="475.3"/>
<line x1="139.2" y1="464" x2="85.3" y2="465.3"/>
<line x1="139.2" y1="464" x2="106.3" y2="476"/>
<line x1="139.2" y1="464" x2="127.4" y2="475.3"/>
<line x1="85.3" y1="465.3" x2="106.3" y2="476"/>
<line x1="85.3" y1="465.3" x2="127.4" y2="475.3"/>
<line x1="106.3" y1="476" x2="127.4" y2="475.3"/>
<line x1="89.6" y1="493.6" x2="115.5" y2="460.5"/>
<line x1="89.6" y1="493.6" x2="106.3" y2="476"/>
<line x1="89.6" y1="493.6" x2="127.4" y2="475.3"/>
<line x1="89.6" y1="493.6" x2="139.2" y2="464"/>
<line x1="147.2" y1="504.5" x2="146" y2="439.7"/>
<line x1="147.2" y1="504.5" x2="124.2" y2="443.2"/>
<line x1="147.2" y1="504.5" x2="115.5" y2="460.5"/>
<line x1="147.2" y1="504.5" x2="139.2" y2="464"/>
<line x1="147.2" y1="504.5" x2="106.3" y2="476"/>
<line x1="147.2" y1="504.5" x2="127.4" y2="475.3"/>
<line x1="147.2" y1="504.5" x2="89.6" y2="493.6"/>
<line x1="114.5" y1="518.4" x2="127.4" y2="475.3"/>
<line x1="114.5" y1="518.4" x2="106.3" y2="476"/>
<line x1="114.5" y1="518.4" x2="147.2" y2="504.5"/>
</g>
<circle cx="96.40" cy="412.00" r="4.3" fill="#ffffff" stroke="#c23b45" stroke-width="1.05"/>
<circle cx="118.20" cy="411.20" r="4.3" fill="#ffffff" stroke="#c23b45" stroke-width="1.05"/>
<circle cx="136.60" cy="422.10" r="4.3" fill="#ffffff" stroke="#c23b45" stroke-width="1.05"/>
<circle cx="82.60" cy="429.50" r="4.3" fill="#ffffff" stroke="#c23b45" stroke-width="1.05"/>
<circle cx="105.40" cy="431.50" r="4.3" fill="#ffffff" stroke="#c23b45" stroke-width="1.05"/>
<circle cx="146.00" cy="439.70" r="4.3" fill="#ffffff" stroke="#c23b45" stroke-width="1.05"/>
<circle cx="74.20" cy="447.10" r="4.3" fill="#ffffff" stroke="#c23b45" stroke-width="1.05"/>
<circle cx="95.30" cy="447.70" r="4.3" fill="#ffffff" stroke="#c23b45" stroke-width="1.05"/>
<circle cx="124.20" cy="443.20" r="4.3" fill="#ffffff" stroke="#c23b45" stroke-width="1.05"/>
<circle cx="115.50" cy="460.50" r="4.3" fill="#ffffff" stroke="#c23b45" stroke-width="1.05"/>
<circle cx="139.20" cy="464.00" r="4.3" fill="#ffffff" stroke="#c23b45" stroke-width="1.05"/>
<circle cx="85.30" cy="465.30" r="4.3" fill="#ffffff" stroke="#c23b45" stroke-width="1.05"/>
<circle cx="106.30" cy="476.00" r="4.3" fill="#ffffff" stroke="#c23b45" stroke-width="1.05"/>
<circle cx="127.40" cy="475.30" r="4.3" fill="#ffffff" stroke="#c23b45" stroke-width="1.05"/>
<circle cx="89.60" cy="493.60" r="4.3" fill="#f26b3a" stroke="#c23b45" stroke-width="1.05"/>
<circle cx="147.20" cy="504.50" r="4.3" fill="#f8c0a8" stroke="#c23b45" stroke-width="1.05"/>
<circle cx="114.50" cy="518.40" r="4.3" fill="#fde6e0" stroke="#c23b45" stroke-width="1.05"/>
<g stroke="#86cbe4" stroke-width="1.7">
<line x1="223" y1="412.1" x2="199" y2="420.8"/>
<line x1="223" y1="412.1" x2="244.7" y2="425.1"/>
<line x1="223" y1="412.1" x2="190.3" y2="444.5"/>
<line x1="223" y1="412.1" x2="248.7" y2="449.7"/>
<line x1="223" y1="412.1" x2="204.7" y2="466"/>
<line x1="223" y1="412.1" x2="230" y2="469.5"/>
<line x1="199" y1="420.8" x2="244.7" y2="425.1"/>
<line x1="199" y1="420.8" x2="190.3" y2="444.5"/>
<line x1="199" y1="420.8" x2="248.7" y2="449.7"/>
<line x1="199" y1="420.8" x2="204.7" y2="466"/>
<line x1="199" y1="420.8" x2="230" y2="469.5"/>
<line x1="244.7" y1="425.1" x2="190.3" y2="444.5"/>
<line x1="244.7" y1="425.1" x2="248.7" y2="449.7"/>
<line x1="244.7" y1="425.1" x2="204.7" y2="466"/>
<line x1="244.7" y1="425.1" x2="230" y2="469.5"/>
<line x1="190.3" y1="444.5" x2="248.7" y2="449.7"/>
<line x1="190.3" y1="444.5" x2="204.7" y2="466"/>
<line x1="190.3" y1="444.5" x2="230" y2="469.5"/>
<line x1="248.7" y1="449.7" x2="204.7" y2="466"/>
<line x1="248.7" y1="449.7" x2="230" y2="469.5"/>
<line x1="204.7" y1="466" x2="230" y2="469.5"/>
</g>
<circle cx="223.00" cy="412.10" r="4.3" fill="#ffffff" stroke="#c23b45" stroke-width="1.05"/>
<circle cx="199.00" cy="420.80" r="4.3" fill="#f26b3a" stroke="#c23b45" stroke-width="1.05"/>
<circle cx="244.70" cy="425.10" r="4.3" fill="#ffffff" stroke="#c23b45" stroke-width="1.05"/>
<circle cx="190.30" cy="444.50" r="4.3" fill="#ffffff" stroke="#c23b45" stroke-width="1.05"/>
<circle cx="248.70" cy="449.70" r="4.3" fill="#f8c0a8" stroke="#c23b45" stroke-width="1.05"/>
<circle cx="204.70" cy="466.00" r="4.3" fill="#ffffff" stroke="#c23b45" stroke-width="1.05"/>
<circle cx="230.00" cy="469.50" r="4.3" fill="#ffffff" stroke="#c23b45" stroke-width="1.05"/>
<line x1="293.20" y1="411.50" x2="291.70" y2="458.00" stroke="#86cbe4" stroke-width="1.9" />
<circle cx="293.20" cy="411.50" r="4.3" fill="#f6b09a" stroke="#c23b45" stroke-width="1.05"/>
<circle cx="291.70" cy="458.00" r="4.3" fill="#f6b09a" stroke="#c23b45" stroke-width="1.05"/>
<text x="76.00" y="408.45" font-size="5.98" text-anchor="middle" font-weight="normal" fill="#1a1a1a" stroke="#1a1a1a" stroke-width="0.22" textLength="27.17" lengthAdjust="spacingAndGlyphs" >Locomotory</text>
<text x="76.00" y="415.35" font-size="5.98" text-anchor="middle" font-weight="normal" fill="#1a1a1a" stroke="#1a1a1a" stroke-width="0.22" textLength="19.95" lengthAdjust="spacingAndGlyphs" >behavior</text>
<text x="110.00" y="413.65" font-size="5.98" text-anchor="middle" font-weight="normal" fill="#1a1a1a" stroke="#1a1a1a" stroke-width="0.22" textLength="27.46" lengthAdjust="spacingAndGlyphs" >Chemotaxis</text>
<text x="60.30" y="428.45" font-size="5.98" text-anchor="middle" font-weight="normal" fill="#1a1a1a" stroke="#1a1a1a" stroke-width="0.22" textLength="30.05" lengthAdjust="spacingAndGlyphs" >Inflammatory</text>
<text x="60.30" y="435.55" font-size="5.98" text-anchor="middle" font-weight="normal" fill="#1a1a1a" stroke="#1a1a1a" stroke-width="0.22" textLength="21.39" lengthAdjust="spacingAndGlyphs" >response</text>
<text x="128.20" y="427.45" font-size="5.98" text-anchor="middle" font-weight="normal" fill="#1a1a1a" stroke="#1a1a1a" stroke-width="0.22" textLength="11.85" lengthAdjust="spacingAndGlyphs" >Taxis</text>
<text x="97.00" y="436.85" font-size="5.98" text-anchor="middle" font-weight="normal" fill="#1a1a1a" stroke="#1a1a1a" stroke-width="0.22" textLength="41.62" lengthAdjust="spacingAndGlyphs" >Immune response</text>
<text x="137.40" y="444.55" font-size="5.98" text-anchor="middle" font-weight="normal" fill="#1a1a1a" stroke="#1a1a1a" stroke-width="0.22" textLength="20.52" lengthAdjust="spacingAndGlyphs" >Behavior</text>
<text x="52.40" y="451.35" font-size="5.98" text-anchor="middle" font-weight="normal" fill="#1a1a1a" stroke="#1a1a1a" stroke-width="0.22" textLength="29.20" lengthAdjust="spacingAndGlyphs" >Response to</text>
<text x="52.40" y="458.45" font-size="5.98" text-anchor="middle" font-weight="normal" fill="#1a1a1a" stroke="#1a1a1a" stroke-width="0.22" textLength="22.26" lengthAdjust="spacingAndGlyphs" >wounding</text>
<text x="85.00" y="445.55" font-size="5.98" text-anchor="middle" font-weight="normal" fill="#1a1a1a" stroke="#1a1a1a" stroke-width="0.22" textLength="36.70" lengthAdjust="spacingAndGlyphs" >Immune system</text>
<text x="85.00" y="452.65" font-size="5.98" text-anchor="middle" font-weight="normal" fill="#1a1a1a" stroke="#1a1a1a" stroke-width="0.22" textLength="18.21" lengthAdjust="spacingAndGlyphs" >process</text>
<text x="116.30" y="451.15" font-size="5.98" text-anchor="middle" font-weight="normal" fill="#1a1a1a" stroke="#1a1a1a" stroke-width="0.22" textLength="26.88" lengthAdjust="spacingAndGlyphs" >Locomotion</text>
<text x="51.60" y="473.15" font-size="5.98" text-anchor="middle" font-weight="normal" fill="#1a1a1a" stroke="#1a1a1a" stroke-width="0.22" textLength="42.21" lengthAdjust="spacingAndGlyphs" >Defense response</text>
<text x="104.50" y="464.15" font-size="5.98" text-anchor="middle" font-weight="normal" fill="#1a1a1a" stroke="#1a1a1a" stroke-width="0.22" textLength="29.20" lengthAdjust="spacingAndGlyphs" >Response to</text>
<text x="101.80" y="470.85" font-size="5.98" text-anchor="middle" font-weight="normal" fill="#1a1a1a" stroke="#1a1a1a" stroke-width="0.22" textLength="19.07" lengthAdjust="spacingAndGlyphs" >stimulus</text>
<text x="142.60" y="470.05" font-size="5.98" text-anchor="middle" font-weight="normal" fill="#1a1a1a" stroke="#1a1a1a" stroke-width="0.22" textLength="51.16" lengthAdjust="spacingAndGlyphs" >Response to chemical</text>
<text x="142.60" y="476.15" font-size="5.98" text-anchor="middle" font-weight="normal" fill="#1a1a1a" stroke="#1a1a1a" stroke-width="0.22" textLength="19.07" lengthAdjust="spacingAndGlyphs" >stimulus</text>
<text x="95.00" y="479.75" font-size="5.98" text-anchor="middle" font-weight="normal" fill="#1a1a1a" stroke="#1a1a1a" stroke-width="0.22" textLength="29.20" lengthAdjust="spacingAndGlyphs" >Response to</text>
<text x="94.20" y="486.85" font-size="5.98" text-anchor="middle" font-weight="normal" fill="#1a1a1a" stroke="#1a1a1a" stroke-width="0.22" textLength="13.87" lengthAdjust="spacingAndGlyphs" >stress</text>
<text x="125.50" y="483.95" font-size="5.98" text-anchor="middle" font-weight="normal" fill="#1a1a1a" stroke="#1a1a1a" stroke-width="0.22" textLength="29.20" lengthAdjust="spacingAndGlyphs" >Response to</text>
<text x="125.50" y="491.15" font-size="5.98" text-anchor="middle" font-weight="normal" fill="#1a1a1a" stroke="#1a1a1a" stroke-width="0.22" textLength="39.59" lengthAdjust="spacingAndGlyphs" >External stimulus</text>
<text x="72.60" y="498.15" font-size="5.98" text-anchor="middle" font-weight="normal" fill="#1a1a1a" stroke="#1a1a1a" stroke-width="0.22" textLength="48.27" lengthAdjust="spacingAndGlyphs" >Positive regulation of</text>
<text x="72.60" y="504.75" font-size="5.98" text-anchor="middle" font-weight="normal" fill="#1a1a1a" stroke="#1a1a1a" stroke-width="0.22" textLength="47.12" lengthAdjust="spacingAndGlyphs" >response to external</text>
<text x="72.60" y="511.35" font-size="5.98" text-anchor="middle" font-weight="normal" fill="#1a1a1a" stroke="#1a1a1a" stroke-width="0.22" textLength="19.07" lengthAdjust="spacingAndGlyphs" >stimulus</text>
<text x="141.30" y="510.85" font-size="5.98" text-anchor="middle" font-weight="normal" fill="#1a1a1a" stroke="#1a1a1a" stroke-width="0.22" textLength="45.10" lengthAdjust="spacingAndGlyphs" >Reponse to organic</text>
<text x="141.30" y="517.45" font-size="5.98" text-anchor="middle" font-weight="normal" fill="#1a1a1a" stroke="#1a1a1a" stroke-width="0.22" textLength="23.71" lengthAdjust="spacingAndGlyphs" >substance</text>
<text x="101.00" y="527.95" font-size="5.98" text-anchor="middle" font-weight="normal" fill="#1a1a1a" stroke="#1a1a1a" stroke-width="0.22" textLength="26.60" lengthAdjust="spacingAndGlyphs" >Reponse to</text>
<text x="100.30" y="535.05" font-size="5.98" text-anchor="middle" font-weight="normal" fill="#1a1a1a" stroke="#1a1a1a" stroke-width="0.22" textLength="39.01" lengthAdjust="spacingAndGlyphs" >nitrosative stress</text>
<text x="219.20" y="409.05" font-size="5.98" text-anchor="middle" font-weight="normal" fill="#1a1a1a" stroke="#1a1a1a" stroke-width="0.22" textLength="26.30" lengthAdjust="spacingAndGlyphs" >Cholesterol</text>
<text x="219.20" y="416.55" font-size="5.98" text-anchor="middle" font-weight="normal" fill="#1a1a1a" stroke="#1a1a1a" stroke-width="0.22" textLength="47.69" lengthAdjust="spacingAndGlyphs" >Biosynthetic process</text>
<text x="182.00" y="423.85" font-size="5.98" text-anchor="middle" font-weight="normal" fill="#1a1a1a" stroke="#1a1a1a" stroke-width="0.22" textLength="45.96" lengthAdjust="spacingAndGlyphs" >Steroid Biosynthetic</text>
<text x="183.00" y="431.65" font-size="5.98" text-anchor="middle" font-weight="normal" fill="#1a1a1a" stroke="#1a1a1a" stroke-width="0.22" textLength="18.21" lengthAdjust="spacingAndGlyphs" >process</text>
<text x="248.20" y="429.35" font-size="5.98" text-anchor="middle" font-weight="normal" fill="#1a1a1a" stroke="#1a1a1a" stroke-width="0.22" textLength="42.49" lengthAdjust="spacingAndGlyphs" >Sterol biosynthetic</text>
<text x="248.20" y="436.55" font-size="5.98" text-anchor="middle" font-weight="normal" fill="#1a1a1a" stroke="#1a1a1a" stroke-width="0.22" textLength="18.21" lengthAdjust="spacingAndGlyphs" >process</text>
<text x="186.50" y="448.45" font-size="5.98" text-anchor="middle" font-weight="normal" fill="#1a1a1a" stroke="#1a1a1a" stroke-width="0.22" textLength="47.11" lengthAdjust="spacingAndGlyphs" >Cholestrol metabolic</text>
<text x="186.00" y="456.15" font-size="5.98" text-anchor="middle" font-weight="normal" fill="#1a1a1a" stroke="#1a1a1a" stroke-width="0.22" textLength="18.21" lengthAdjust="spacingAndGlyphs" >process</text>
<text x="248.20" y="452.75" font-size="5.98" text-anchor="middle" font-weight="normal" fill="#1a1a1a" stroke="#1a1a1a" stroke-width="0.22" textLength="24.28" lengthAdjust="spacingAndGlyphs" >Isoprenoid</text>
<text x="248.20" y="459.95" font-size="5.98" text-anchor="middle" font-weight="normal" fill="#1a1a1a" stroke="#1a1a1a" stroke-width="0.22" textLength="47.11" lengthAdjust="spacingAndGlyphs" >biosynthetic process</text>
<text x="194.60" y="474.55" font-size="5.98" text-anchor="middle" font-weight="normal" fill="#1a1a1a" stroke="#1a1a1a" stroke-width="0.22" textLength="37.28" lengthAdjust="spacingAndGlyphs" >Sterol metabolic</text>
<text x="194.60" y="482.15" font-size="5.98" text-anchor="middle" font-weight="normal" fill="#1a1a1a" stroke="#1a1a1a" stroke-width="0.22" textLength="18.21" lengthAdjust="spacingAndGlyphs" >process</text>
<text x="241.00" y="478.35" font-size="5.98" text-anchor="middle" font-weight="normal" fill="#1a1a1a" stroke="#1a1a1a" stroke-width="0.22" textLength="40.18" lengthAdjust="spacingAndGlyphs" >Steroid metabolic</text>
<text x="240.30" y="484.95" font-size="5.98" text-anchor="middle" font-weight="normal" fill="#1a1a1a" stroke="#1a1a1a" stroke-width="0.22" textLength="18.21" lengthAdjust="spacingAndGlyphs" >process</text>
<text x="299.00" y="416.15" font-size="5.98" text-anchor="start" font-weight="normal" fill="#1a1a1a" stroke="#1a1a1a" stroke-width="0.22" textLength="28.04" lengthAdjust="spacingAndGlyphs" >Endocytosis</text>
<text x="299.50" y="463.95" font-size="5.98" text-anchor="start" font-weight="normal" fill="#1a1a1a" stroke="#1a1a1a" stroke-width="0.22" textLength="24.86" lengthAdjust="spacingAndGlyphs" >Membrane</text>
<text x="298.00" y="471.15" font-size="5.98" text-anchor="start" font-weight="normal" fill="#1a1a1a" stroke="#1a1a1a" stroke-width="0.22" textLength="28.04" lengthAdjust="spacingAndGlyphs" >Invagination</text>
<rect x="292.4" y="498.8" width="6.9" height="7.8" fill="#fb7d4c"/>
<rect x="299.3" y="498.8" width="6.7" height="7.8" fill="#ffffff"/>
<rect x="306" y="498.8" width="6.6" height="7.8" fill="#2a9fd2"/>
<rect x="292.4" y="498.8" width="20.2" height="7.8" fill="none" stroke="#ddd" stroke-width="0.4"/>
<text x="302.70" y="513.67" font-size="5.75" text-anchor="middle" font-weight="normal" fill="#333" stroke="#333" stroke-width="0.22" textLength="20.99" lengthAdjust="spacingAndGlyphs" >q &lt; 0.001</text>
</svg></body></html>
